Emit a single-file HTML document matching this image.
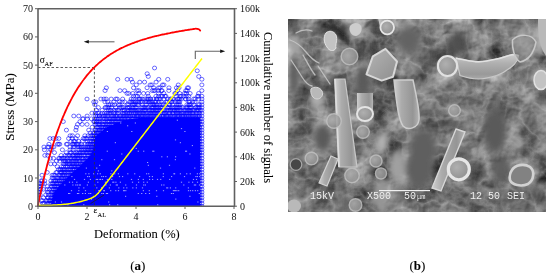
<!DOCTYPE html>
<html><head><meta charset="utf-8"><style>
html,body{margin:0;padding:0;background:#fff;width:550px;height:275px;overflow:hidden}
.chart{position:absolute;left:0;top:0}
.sem{position:absolute;left:288px;top:19px;width:258px;height:193px;overflow:hidden}
</style></head><body>

<svg class="chart" width="550" height="275" viewBox="0 0 550 275">
 
 <defs><clipPath id="pc"><rect x="38" y="0" width="170" height="206.0"/></clipPath></defs>
 <g clip-path="url(#pc)"><polygon points="200.0,206.2 200.0,118.0 199.5,118.0 199.0,118.0 198.5,118.0 198.0,118.0 197.5,118.0 197.0,118.0 196.5,118.0 196.0,118.0 195.5,118.0 195.0,118.0 194.5,118.0 194.0,118.0 193.5,118.0 193.0,118.0 192.5,118.0 192.0,118.0 191.5,118.0 191.0,118.0 190.5,118.0 190.0,118.0 189.5,118.0 189.0,118.0 188.5,118.0 188.0,118.0 187.5,118.0 187.0,118.0 186.5,118.0 186.0,118.0 185.5,118.0 185.0,118.0 184.5,118.0 184.0,118.0 183.5,118.0 183.0,118.0 182.5,118.0 182.0,118.0 181.5,118.0 181.0,118.0 180.5,118.0 180.0,118.0 179.5,118.0 179.0,118.0 178.5,118.0 178.0,118.0 177.5,118.0 177.0,118.0 176.5,118.0 176.0,118.0 175.5,118.0 175.0,118.0 174.5,118.0 174.0,118.0 173.5,118.0 173.0,118.0 172.5,118.0 172.0,118.0 171.5,118.0 171.0,118.0 170.5,118.0 170.0,118.0 169.5,118.0 169.0,118.0 168.5,118.0 168.0,118.0 167.5,118.0 167.0,118.0 166.5,118.0 166.0,118.0 165.5,118.0 165.0,118.0 164.5,118.0 164.0,118.0 163.5,118.0 163.0,118.0 162.5,118.0 162.0,118.0 161.5,118.0 161.0,118.0 160.5,118.0 160.0,118.0 159.5,118.0 159.0,118.0 158.5,118.0 158.0,118.0 157.5,118.0 157.0,118.0 156.5,118.0 156.0,118.0 155.5,118.0 155.0,118.0 154.5,118.0 154.0,118.0 153.5,118.0 153.0,118.0 152.5,118.0 152.0,118.0 151.5,118.0 151.0,118.0 150.5,118.0 150.0,118.0 149.5,118.0 149.0,118.0 148.5,118.0 148.0,118.0 147.5,118.0 147.0,118.0 146.5,118.0 146.0,118.0 145.5,118.0 145.0,118.0 144.5,118.0 144.0,118.0 143.5,118.0 143.0,118.0 142.5,118.0 142.0,118.0 141.5,118.0 141.0,118.0 140.5,118.0 140.0,118.0 139.5,118.1 139.0,118.1 138.5,118.2 138.0,118.3 137.5,118.3 137.0,118.4 136.5,118.5 136.0,118.5 135.5,118.6 135.0,118.7 134.5,118.7 134.0,118.8 133.5,118.9 133.0,118.9 132.5,119.0 132.0,119.1 131.5,119.1 131.0,119.2 130.5,119.3 130.0,119.3 129.5,119.4 129.0,119.5 128.5,119.5 128.0,119.6 127.5,119.7 127.0,119.7 126.5,119.8 126.0,119.9 125.5,119.9 125.0,120.0 124.5,120.2 124.0,120.4 123.5,120.6 123.0,120.8 122.5,121.0 122.0,121.2 121.5,121.4 121.0,121.6 120.5,121.8 120.0,121.9 119.5,122.1 119.0,122.3 118.5,122.5 118.0,122.7 117.5,122.9 117.0,123.1 116.5,123.3 116.0,123.5 115.5,123.7 115.0,123.9 114.5,124.1 114.0,124.3 113.5,124.5 113.0,124.7 112.5,124.9 112.0,125.1 111.5,125.2 111.0,125.4 110.5,125.6 110.0,125.8 109.5,126.0 109.0,126.2 108.5,126.4 108.0,126.6 107.5,126.8 107.0,127.0 106.5,127.4 106.0,127.8 105.5,128.2 105.0,128.7 104.5,129.1 104.0,129.5 103.5,129.9 103.0,130.3 102.5,130.8 102.0,131.2 101.5,131.6 101.0,132.0 100.5,132.4 100.0,132.8 99.5,133.2 99.0,133.7 98.5,134.1 98.0,134.5 97.5,134.9 97.0,135.3 96.5,135.8 96.0,136.2 95.5,136.6 95.0,137.0 94.5,140.7 94.0,144.3 93.5,148.0 93.0,149.1 92.5,150.3 92.0,151.4 91.5,152.6 91.0,153.7 90.5,154.9 90.0,156.0 89.5,156.5 89.0,157.0 88.5,157.5 88.0,158.0 87.5,158.5 87.0,159.0 86.5,159.5 86.0,160.0 85.5,160.5 85.0,161.0 84.5,161.5 84.0,162.0 83.5,162.5 83.0,163.0 82.5,163.5 82.0,164.0 81.5,164.5 81.0,165.0 80.5,165.5 80.0,166.0 79.5,166.4 79.0,166.9 78.5,167.3 78.0,167.8 77.5,168.2 77.0,168.7 76.5,169.2 76.0,169.6 75.5,170.1 75.0,170.5 74.5,170.9 74.0,171.4 73.5,171.8 73.0,172.3 72.5,172.8 72.0,173.2 71.5,173.7 71.0,174.1 70.5,174.6 70.0,175.0 69.5,175.5 69.0,176.0 68.5,176.5 68.0,177.0 67.5,177.5 67.0,178.0 66.5,178.5 66.0,179.0 65.5,179.5 65.0,180.0 64.5,180.5 64.0,181.0 63.5,181.5 63.0,182.0 62.5,182.5 62.0,183.0 61.5,183.5 61.0,184.0 60.5,184.5 60.0,185.0 59.5,185.7 59.0,186.3 58.5,186.9 58.0,187.6 57.5,188.2 57.0,188.9 56.5,189.6 56.0,190.2 55.5,190.8 55.0,191.5 54.5,192.2 54.0,192.8 53.5,193.4 53.0,195.5 52.5,197.9 52.0,200.3 51.5,202.7 51.0,205.2 50.5,206.2 50.0,206.2 49.5,206.2 49.0,206.2 48.5,206.2 48.0,206.2 47.5,206.2 47.0,206.2 46.5,206.2 46.0,206.2 45.5,206.2 45.0,206.2 44.5,206.2 44.0,206.2 43.5,206.2 43.0,206.2 42.5,206.2 42.0,206.2 41.5,206.2 41.0,206.2 40.5,206.2 40.0,206.2 39.5,206.2 39.0,206.2 38.5,206.2 38.0,206.2 38.6,206.2" fill="#0000ff"/>
 <g fill="none" stroke="#0000ff" stroke-width="0.55" transform="scale(1.1,1)"><circle cx="38.4" cy="206.2" r="1.9"/><circle cx="41.0" cy="206.2" r="1.9"/><circle cx="41.9" cy="206.2" r="1.9"/><circle cx="42.9" cy="206.2" r="1.9"/><circle cx="44.1" cy="206.2" r="1.9"/><circle cx="45.4" cy="206.2" r="1.9"/><circle cx="46.7" cy="206.2" r="1.9"/><circle cx="47.9" cy="206.2" r="1.9"/><circle cx="48.5" cy="206.2" r="1.9"/><circle cx="49.5" cy="206.2" r="1.9"/><circle cx="51.0" cy="206.2" r="1.9"/><circle cx="52.4" cy="206.2" r="1.9"/><circle cx="53.3" cy="206.2" r="1.9"/><circle cx="54.2" cy="206.2" r="1.9"/><circle cx="55.3" cy="206.2" r="1.9"/><circle cx="56.5" cy="206.2" r="1.9"/><circle cx="57.5" cy="206.2" r="1.9"/><circle cx="58.7" cy="206.2" r="1.9"/><circle cx="60.4" cy="206.2" r="1.9"/><circle cx="61.5" cy="206.2" r="1.9"/><circle cx="62.5" cy="206.2" r="1.9"/><circle cx="63.5" cy="206.2" r="1.9"/><circle cx="64.9" cy="206.2" r="1.9"/><circle cx="65.8" cy="206.2" r="1.9"/><circle cx="66.8" cy="206.2" r="1.9"/><circle cx="67.8" cy="206.2" r="1.9"/><circle cx="69.1" cy="206.2" r="1.9"/><circle cx="70.4" cy="206.2" r="1.9"/><circle cx="71.6" cy="206.2" r="1.9"/><circle cx="72.3" cy="206.2" r="1.9"/><circle cx="73.5" cy="206.2" r="1.9"/><circle cx="74.6" cy="206.2" r="1.9"/><circle cx="75.8" cy="206.2" r="1.9"/><circle cx="77.0" cy="206.2" r="1.9"/><circle cx="78.4" cy="206.2" r="1.9"/><circle cx="79.7" cy="206.2" r="1.9"/><circle cx="80.8" cy="206.2" r="1.9"/><circle cx="81.4" cy="206.2" r="1.9"/><circle cx="83.1" cy="206.2" r="1.9"/><circle cx="83.7" cy="206.2" r="1.9"/><circle cx="85.2" cy="206.2" r="1.9"/><circle cx="86.1" cy="206.2" r="1.9"/><circle cx="87.2" cy="206.2" r="1.9"/><circle cx="88.8" cy="206.2" r="1.9"/><circle cx="89.7" cy="206.2" r="1.9"/><circle cx="91.0" cy="206.2" r="1.9"/><circle cx="91.8" cy="206.2" r="1.9"/><circle cx="92.8" cy="206.2" r="1.9"/><circle cx="94.3" cy="206.2" r="1.9"/><circle cx="95.3" cy="206.2" r="1.9"/><circle cx="96.3" cy="206.2" r="1.9"/><circle cx="97.7" cy="206.2" r="1.9"/><circle cx="98.7" cy="206.2" r="1.9"/><circle cx="100.2" cy="206.2" r="1.9"/><circle cx="101.3" cy="206.2" r="1.9"/><circle cx="102.3" cy="206.2" r="1.9"/><circle cx="103.0" cy="206.2" r="1.9"/><circle cx="104.6" cy="206.2" r="1.9"/><circle cx="105.6" cy="206.2" r="1.9"/><circle cx="106.7" cy="206.2" r="1.9"/><circle cx="107.6" cy="206.2" r="1.9"/><circle cx="108.9" cy="206.2" r="1.9"/><circle cx="110.0" cy="206.2" r="1.9"/><circle cx="111.3" cy="206.2" r="1.9"/><circle cx="112.2" cy="206.2" r="1.9"/><circle cx="113.5" cy="206.2" r="1.9"/><circle cx="114.6" cy="206.2" r="1.9"/><circle cx="116.1" cy="206.2" r="1.9"/><circle cx="117.0" cy="206.2" r="1.9"/><circle cx="118.3" cy="206.2" r="1.9"/><circle cx="119.5" cy="206.2" r="1.9"/><circle cx="120.3" cy="206.2" r="1.9"/><circle cx="121.8" cy="206.2" r="1.9"/><circle cx="122.8" cy="206.2" r="1.9"/><circle cx="123.9" cy="206.2" r="1.9"/><circle cx="125.2" cy="206.2" r="1.9"/><circle cx="125.9" cy="206.2" r="1.9"/><circle cx="126.8" cy="206.2" r="1.9"/><circle cx="128.6" cy="206.2" r="1.9"/><circle cx="129.1" cy="206.2" r="1.9"/><circle cx="130.5" cy="206.2" r="1.9"/><circle cx="131.8" cy="206.2" r="1.9"/><circle cx="133.2" cy="206.2" r="1.9"/><circle cx="134.0" cy="206.2" r="1.9"/><circle cx="134.9" cy="206.2" r="1.9"/><circle cx="136.2" cy="206.2" r="1.9"/><circle cx="137.6" cy="206.2" r="1.9"/><circle cx="138.2" cy="206.2" r="1.9"/><circle cx="139.9" cy="206.2" r="1.9"/><circle cx="140.8" cy="206.2" r="1.9"/><circle cx="141.6" cy="206.2" r="1.9"/><circle cx="142.7" cy="206.2" r="1.9"/><circle cx="144.0" cy="206.2" r="1.9"/><circle cx="145.4" cy="206.2" r="1.9"/><circle cx="146.5" cy="206.2" r="1.9"/><circle cx="147.7" cy="206.2" r="1.9"/><circle cx="148.6" cy="206.2" r="1.9"/><circle cx="149.9" cy="206.2" r="1.9"/><circle cx="151.1" cy="206.2" r="1.9"/><circle cx="151.9" cy="206.2" r="1.9"/><circle cx="152.9" cy="206.2" r="1.9"/><circle cx="154.7" cy="206.2" r="1.9"/><circle cx="155.2" cy="206.2" r="1.9"/><circle cx="156.5" cy="206.2" r="1.9"/><circle cx="157.9" cy="206.2" r="1.9"/><circle cx="158.8" cy="206.2" r="1.9"/><circle cx="160.3" cy="206.2" r="1.9"/><circle cx="161.4" cy="206.2" r="1.9"/><circle cx="162.1" cy="206.2" r="1.9"/><circle cx="163.6" cy="206.2" r="1.9"/><circle cx="164.3" cy="206.2" r="1.9"/><circle cx="165.9" cy="206.2" r="1.9"/><circle cx="167.1" cy="206.2" r="1.9"/><circle cx="168.2" cy="206.2" r="1.9"/><circle cx="169.5" cy="206.2" r="1.9"/><circle cx="170.0" cy="206.2" r="1.9"/><circle cx="171.2" cy="206.2" r="1.9"/><circle cx="172.9" cy="206.2" r="1.9"/><circle cx="173.5" cy="206.2" r="1.9"/><circle cx="175.0" cy="206.2" r="1.9"/><circle cx="175.9" cy="206.2" r="1.9"/><circle cx="177.3" cy="206.2" r="1.9"/><circle cx="178.2" cy="206.2" r="1.9"/><circle cx="179.4" cy="206.2" r="1.9"/><circle cx="180.4" cy="206.2" r="1.9"/><circle cx="181.7" cy="206.2" r="1.9"/><circle cx="183.5" cy="206.2" r="1.9"/><circle cx="38.7" cy="203.4" r="1.9"/><circle cx="39.4" cy="203.4" r="1.9"/><circle cx="40.5" cy="203.4" r="1.9"/><circle cx="42.9" cy="203.4" r="1.9"/><circle cx="44.3" cy="203.4" r="1.9"/><circle cx="45.3" cy="203.4" r="1.9"/><circle cx="46.4" cy="203.4" r="1.9"/><circle cx="47.3" cy="203.4" r="1.9"/><circle cx="48.9" cy="203.4" r="1.9"/><circle cx="50.0" cy="203.4" r="1.9"/><circle cx="50.7" cy="203.4" r="1.9"/><circle cx="52.3" cy="203.4" r="1.9"/><circle cx="53.1" cy="203.4" r="1.9"/><circle cx="54.6" cy="203.4" r="1.9"/><circle cx="55.3" cy="203.4" r="1.9"/><circle cx="56.9" cy="203.4" r="1.9"/><circle cx="58.0" cy="203.4" r="1.9"/><circle cx="59.3" cy="203.4" r="1.9"/><circle cx="60.3" cy="203.4" r="1.9"/><circle cx="61.3" cy="203.4" r="1.9"/><circle cx="62.6" cy="203.4" r="1.9"/><circle cx="63.7" cy="203.4" r="1.9"/><circle cx="64.5" cy="203.4" r="1.9"/><circle cx="65.4" cy="203.4" r="1.9"/><circle cx="66.9" cy="203.4" r="1.9"/><circle cx="68.1" cy="203.4" r="1.9"/><circle cx="69.1" cy="203.4" r="1.9"/><circle cx="70.6" cy="203.4" r="1.9"/><circle cx="71.2" cy="203.4" r="1.9"/><circle cx="72.9" cy="203.4" r="1.9"/><circle cx="73.9" cy="203.4" r="1.9"/><circle cx="75.2" cy="203.4" r="1.9"/><circle cx="75.7" cy="203.4" r="1.9"/><circle cx="76.9" cy="203.4" r="1.9"/><circle cx="78.3" cy="203.4" r="1.9"/><circle cx="79.6" cy="203.4" r="1.9"/><circle cx="80.8" cy="203.4" r="1.9"/><circle cx="81.9" cy="203.4" r="1.9"/><circle cx="82.8" cy="203.4" r="1.9"/><circle cx="83.8" cy="203.4" r="1.9"/><circle cx="85.3" cy="203.4" r="1.9"/><circle cx="85.9" cy="203.4" r="1.9"/><circle cx="87.6" cy="203.4" r="1.9"/><circle cx="88.3" cy="203.4" r="1.9"/><circle cx="89.4" cy="203.4" r="1.9"/><circle cx="90.4" cy="203.4" r="1.9"/><circle cx="91.6" cy="203.4" r="1.9"/><circle cx="93.3" cy="203.4" r="1.9"/><circle cx="94.0" cy="203.4" r="1.9"/><circle cx="95.1" cy="203.4" r="1.9"/><circle cx="96.3" cy="203.4" r="1.9"/><circle cx="97.7" cy="203.4" r="1.9"/><circle cx="98.7" cy="203.4" r="1.9"/><circle cx="100.1" cy="203.4" r="1.9"/><circle cx="100.7" cy="203.4" r="1.9"/><circle cx="102.5" cy="203.4" r="1.9"/><circle cx="103.1" cy="203.4" r="1.9"/><circle cx="104.2" cy="203.4" r="1.9"/><circle cx="105.5" cy="203.4" r="1.9"/><circle cx="106.3" cy="203.4" r="1.9"/><circle cx="107.9" cy="203.4" r="1.9"/><circle cx="108.8" cy="203.4" r="1.9"/><circle cx="110.4" cy="203.4" r="1.9"/><circle cx="111.5" cy="203.4" r="1.9"/><circle cx="112.5" cy="203.4" r="1.9"/><circle cx="113.6" cy="203.4" r="1.9"/><circle cx="114.5" cy="203.4" r="1.9"/><circle cx="116.0" cy="203.4" r="1.9"/><circle cx="117.2" cy="203.4" r="1.9"/><circle cx="117.9" cy="203.4" r="1.9"/><circle cx="118.9" cy="203.4" r="1.9"/><circle cx="120.0" cy="203.4" r="1.9"/><circle cx="121.5" cy="203.4" r="1.9"/><circle cx="122.4" cy="203.4" r="1.9"/><circle cx="123.9" cy="203.4" r="1.9"/><circle cx="125.2" cy="203.4" r="1.9"/><circle cx="125.9" cy="203.4" r="1.9"/><circle cx="127.4" cy="203.4" r="1.9"/><circle cx="128.4" cy="203.4" r="1.9"/><circle cx="129.4" cy="203.4" r="1.9"/><circle cx="130.2" cy="203.4" r="1.9"/><circle cx="131.3" cy="203.4" r="1.9"/><circle cx="132.8" cy="203.4" r="1.9"/><circle cx="134.1" cy="203.4" r="1.9"/><circle cx="135.3" cy="203.4" r="1.9"/><circle cx="136.3" cy="203.4" r="1.9"/><circle cx="137.7" cy="203.4" r="1.9"/><circle cx="138.5" cy="203.4" r="1.9"/><circle cx="139.7" cy="203.4" r="1.9"/><circle cx="140.8" cy="203.4" r="1.9"/><circle cx="141.7" cy="203.4" r="1.9"/><circle cx="142.8" cy="203.4" r="1.9"/><circle cx="144.4" cy="203.4" r="1.9"/><circle cx="145.4" cy="203.4" r="1.9"/><circle cx="146.4" cy="203.4" r="1.9"/><circle cx="147.8" cy="203.4" r="1.9"/><circle cx="148.8" cy="203.4" r="1.9"/><circle cx="149.9" cy="203.4" r="1.9"/><circle cx="151.2" cy="203.4" r="1.9"/><circle cx="152.1" cy="203.4" r="1.9"/><circle cx="153.3" cy="203.4" r="1.9"/><circle cx="154.6" cy="203.4" r="1.9"/><circle cx="155.8" cy="203.4" r="1.9"/><circle cx="156.6" cy="203.4" r="1.9"/><circle cx="157.5" cy="203.4" r="1.9"/><circle cx="159.2" cy="203.4" r="1.9"/><circle cx="160.1" cy="203.4" r="1.9"/><circle cx="161.4" cy="203.4" r="1.9"/><circle cx="162.3" cy="203.4" r="1.9"/><circle cx="163.3" cy="203.4" r="1.9"/><circle cx="164.6" cy="203.4" r="1.9"/><circle cx="165.7" cy="203.4" r="1.9"/><circle cx="166.8" cy="203.4" r="1.9"/><circle cx="168.4" cy="203.4" r="1.9"/><circle cx="169.1" cy="203.4" r="1.9"/><circle cx="170.6" cy="203.4" r="1.9"/><circle cx="171.6" cy="203.4" r="1.9"/><circle cx="172.9" cy="203.4" r="1.9"/><circle cx="173.7" cy="203.4" r="1.9"/><circle cx="174.8" cy="203.4" r="1.9"/><circle cx="176.2" cy="203.4" r="1.9"/><circle cx="177.3" cy="203.4" r="1.9"/><circle cx="178.2" cy="203.4" r="1.9"/><circle cx="179.2" cy="203.4" r="1.9"/><circle cx="180.7" cy="203.4" r="1.9"/><circle cx="181.4" cy="203.4" r="1.9"/><circle cx="183.5" cy="203.4" r="1.9"/><circle cx="37.5" cy="200.6" r="1.9"/><circle cx="38.6" cy="200.6" r="1.9"/><circle cx="41.9" cy="200.6" r="1.9"/><circle cx="43.1" cy="200.6" r="1.9"/><circle cx="44.5" cy="200.6" r="1.9"/><circle cx="45.2" cy="200.6" r="1.9"/><circle cx="46.1" cy="200.6" r="1.9"/><circle cx="47.8" cy="200.6" r="1.9"/><circle cx="48.5" cy="200.6" r="1.9"/><circle cx="49.7" cy="200.6" r="1.9"/><circle cx="51.0" cy="200.6" r="1.9"/><circle cx="52.3" cy="200.6" r="1.9"/><circle cx="53.5" cy="200.6" r="1.9"/><circle cx="54.3" cy="200.6" r="1.9"/><circle cx="55.5" cy="200.6" r="1.9"/><circle cx="56.4" cy="200.6" r="1.9"/><circle cx="57.9" cy="200.6" r="1.9"/><circle cx="58.7" cy="200.6" r="1.9"/><circle cx="59.9" cy="200.6" r="1.9"/><circle cx="60.9" cy="200.6" r="1.9"/><circle cx="62.1" cy="200.6" r="1.9"/><circle cx="63.1" cy="200.6" r="1.9"/><circle cx="64.4" cy="200.6" r="1.9"/><circle cx="66.0" cy="200.6" r="1.9"/><circle cx="67.0" cy="200.6" r="1.9"/><circle cx="68.0" cy="200.6" r="1.9"/><circle cx="68.9" cy="200.6" r="1.9"/><circle cx="70.6" cy="200.6" r="1.9"/><circle cx="71.1" cy="200.6" r="1.9"/><circle cx="72.7" cy="200.6" r="1.9"/><circle cx="73.5" cy="200.6" r="1.9"/><circle cx="75.1" cy="200.6" r="1.9"/><circle cx="75.9" cy="200.6" r="1.9"/><circle cx="77.4" cy="200.6" r="1.9"/><circle cx="78.6" cy="200.6" r="1.9"/><circle cx="79.5" cy="200.6" r="1.9"/><circle cx="80.6" cy="200.6" r="1.9"/><circle cx="81.8" cy="200.6" r="1.9"/><circle cx="82.8" cy="200.6" r="1.9"/><circle cx="84.1" cy="200.6" r="1.9"/><circle cx="85.0" cy="200.6" r="1.9"/><circle cx="86.4" cy="200.6" r="1.9"/><circle cx="87.1" cy="200.6" r="1.9"/><circle cx="88.3" cy="200.6" r="1.9"/><circle cx="89.6" cy="200.6" r="1.9"/><circle cx="90.6" cy="200.6" r="1.9"/><circle cx="92.0" cy="200.6" r="1.9"/><circle cx="93.0" cy="200.6" r="1.9"/><circle cx="94.4" cy="200.6" r="1.9"/><circle cx="95.1" cy="200.6" r="1.9"/><circle cx="96.6" cy="200.6" r="1.9"/><circle cx="97.4" cy="200.6" r="1.9"/><circle cx="98.6" cy="200.6" r="1.9"/><circle cx="99.6" cy="200.6" r="1.9"/><circle cx="100.7" cy="200.6" r="1.9"/><circle cx="101.8" cy="200.6" r="1.9"/><circle cx="103.5" cy="200.6" r="1.9"/><circle cx="104.2" cy="200.6" r="1.9"/><circle cx="105.6" cy="200.6" r="1.9"/><circle cx="106.8" cy="200.6" r="1.9"/><circle cx="108.1" cy="200.6" r="1.9"/><circle cx="109.1" cy="200.6" r="1.9"/><circle cx="110.3" cy="200.6" r="1.9"/><circle cx="111.4" cy="200.6" r="1.9"/><circle cx="112.3" cy="200.6" r="1.9"/><circle cx="113.8" cy="200.6" r="1.9"/><circle cx="114.4" cy="200.6" r="1.9"/><circle cx="115.6" cy="200.6" r="1.9"/><circle cx="117.2" cy="200.6" r="1.9"/><circle cx="117.9" cy="200.6" r="1.9"/><circle cx="118.9" cy="200.6" r="1.9"/><circle cx="120.2" cy="200.6" r="1.9"/><circle cx="121.1" cy="200.6" r="1.9"/><circle cx="122.4" cy="200.6" r="1.9"/><circle cx="124.0" cy="200.6" r="1.9"/><circle cx="124.9" cy="200.6" r="1.9"/><circle cx="125.7" cy="200.6" r="1.9"/><circle cx="127.4" cy="200.6" r="1.9"/><circle cx="128.5" cy="200.6" r="1.9"/><circle cx="129.5" cy="200.6" r="1.9"/><circle cx="130.8" cy="200.6" r="1.9"/><circle cx="131.7" cy="200.6" r="1.9"/><circle cx="133.0" cy="200.6" r="1.9"/><circle cx="133.8" cy="200.6" r="1.9"/><circle cx="135.1" cy="200.6" r="1.9"/><circle cx="136.6" cy="200.6" r="1.9"/><circle cx="137.0" cy="200.6" r="1.9"/><circle cx="138.2" cy="200.6" r="1.9"/><circle cx="139.7" cy="200.6" r="1.9"/><circle cx="140.8" cy="200.6" r="1.9"/><circle cx="141.8" cy="200.6" r="1.9"/><circle cx="143.2" cy="200.6" r="1.9"/><circle cx="144.4" cy="200.6" r="1.9"/><circle cx="145.1" cy="200.6" r="1.9"/><circle cx="146.4" cy="200.6" r="1.9"/><circle cx="147.7" cy="200.6" r="1.9"/><circle cx="148.5" cy="200.6" r="1.9"/><circle cx="150.0" cy="200.6" r="1.9"/><circle cx="150.8" cy="200.6" r="1.9"/><circle cx="152.2" cy="200.6" r="1.9"/><circle cx="153.3" cy="200.6" r="1.9"/><circle cx="154.6" cy="200.6" r="1.9"/><circle cx="155.3" cy="200.6" r="1.9"/><circle cx="156.4" cy="200.6" r="1.9"/><circle cx="158.1" cy="200.6" r="1.9"/><circle cx="158.8" cy="200.6" r="1.9"/><circle cx="160.1" cy="200.6" r="1.9"/><circle cx="160.9" cy="200.6" r="1.9"/><circle cx="162.4" cy="200.6" r="1.9"/><circle cx="163.7" cy="200.6" r="1.9"/><circle cx="164.4" cy="200.6" r="1.9"/><circle cx="166.1" cy="200.6" r="1.9"/><circle cx="166.6" cy="200.6" r="1.9"/><circle cx="167.9" cy="200.6" r="1.9"/><circle cx="168.8" cy="200.6" r="1.9"/><circle cx="170.1" cy="200.6" r="1.9"/><circle cx="171.6" cy="200.6" r="1.9"/><circle cx="172.3" cy="200.6" r="1.9"/><circle cx="173.6" cy="200.6" r="1.9"/><circle cx="174.7" cy="200.6" r="1.9"/><circle cx="176.0" cy="200.6" r="1.9"/><circle cx="177.2" cy="200.6" r="1.9"/><circle cx="177.9" cy="200.6" r="1.9"/><circle cx="179.6" cy="200.6" r="1.9"/><circle cx="180.5" cy="200.6" r="1.9"/><circle cx="181.6" cy="200.6" r="1.9"/><circle cx="183.5" cy="200.6" r="1.9"/><circle cx="39.6" cy="197.7" r="1.9"/><circle cx="43.2" cy="197.7" r="1.9"/><circle cx="43.9" cy="197.7" r="1.9"/><circle cx="46.2" cy="197.7" r="1.9"/><circle cx="47.3" cy="197.7" r="1.9"/><circle cx="48.6" cy="197.7" r="1.9"/><circle cx="49.5" cy="197.7" r="1.9"/><circle cx="51.1" cy="197.7" r="1.9"/><circle cx="52.2" cy="197.7" r="1.9"/><circle cx="53.3" cy="197.7" r="1.9"/><circle cx="54.5" cy="197.7" r="1.9"/><circle cx="55.3" cy="197.7" r="1.9"/><circle cx="56.6" cy="197.7" r="1.9"/><circle cx="58.1" cy="197.7" r="1.9"/><circle cx="58.8" cy="197.7" r="1.9"/><circle cx="60.4" cy="197.7" r="1.9"/><circle cx="61.1" cy="197.7" r="1.9"/><circle cx="62.3" cy="197.7" r="1.9"/><circle cx="63.7" cy="197.7" r="1.9"/><circle cx="64.6" cy="197.7" r="1.9"/><circle cx="65.7" cy="197.7" r="1.9"/><circle cx="66.6" cy="197.7" r="1.9"/><circle cx="68.1" cy="197.7" r="1.9"/><circle cx="69.4" cy="197.7" r="1.9"/><circle cx="70.1" cy="197.7" r="1.9"/><circle cx="71.3" cy="197.7" r="1.9"/><circle cx="72.5" cy="197.7" r="1.9"/><circle cx="73.8" cy="197.7" r="1.9"/><circle cx="74.6" cy="197.7" r="1.9"/><circle cx="76.2" cy="197.7" r="1.9"/><circle cx="77.2" cy="197.7" r="1.9"/><circle cx="78.2" cy="197.7" r="1.9"/><circle cx="79.2" cy="197.7" r="1.9"/><circle cx="80.6" cy="197.7" r="1.9"/><circle cx="81.4" cy="197.7" r="1.9"/><circle cx="82.5" cy="197.7" r="1.9"/><circle cx="83.7" cy="197.7" r="1.9"/><circle cx="84.9" cy="197.7" r="1.9"/><circle cx="86.1" cy="197.7" r="1.9"/><circle cx="87.7" cy="197.7" r="1.9"/><circle cx="88.2" cy="197.7" r="1.9"/><circle cx="89.7" cy="197.7" r="1.9"/><circle cx="90.7" cy="197.7" r="1.9"/><circle cx="91.5" cy="197.7" r="1.9"/><circle cx="93.1" cy="197.7" r="1.9"/><circle cx="94.0" cy="197.7" r="1.9"/><circle cx="95.0" cy="197.7" r="1.9"/><circle cx="96.8" cy="197.7" r="1.9"/><circle cx="97.4" cy="197.7" r="1.9"/><circle cx="98.4" cy="197.7" r="1.9"/><circle cx="100.2" cy="197.7" r="1.9"/><circle cx="101.1" cy="197.7" r="1.9"/><circle cx="102.0" cy="197.7" r="1.9"/><circle cx="103.1" cy="197.7" r="1.9"/><circle cx="104.1" cy="197.7" r="1.9"/><circle cx="105.3" cy="197.7" r="1.9"/><circle cx="107.0" cy="197.7" r="1.9"/><circle cx="107.7" cy="197.7" r="1.9"/><circle cx="109.2" cy="197.7" r="1.9"/><circle cx="110.1" cy="197.7" r="1.9"/><circle cx="110.9" cy="197.7" r="1.9"/><circle cx="112.4" cy="197.7" r="1.9"/><circle cx="113.7" cy="197.7" r="1.9"/><circle cx="114.7" cy="197.7" r="1.9"/><circle cx="116.1" cy="197.7" r="1.9"/><circle cx="116.6" cy="197.7" r="1.9"/><circle cx="118.3" cy="197.7" r="1.9"/><circle cx="119.1" cy="197.7" r="1.9"/><circle cx="120.0" cy="197.7" r="1.9"/><circle cx="121.8" cy="197.7" r="1.9"/><circle cx="122.9" cy="197.7" r="1.9"/><circle cx="123.6" cy="197.7" r="1.9"/><circle cx="124.5" cy="197.7" r="1.9"/><circle cx="125.8" cy="197.7" r="1.9"/><circle cx="127.1" cy="197.7" r="1.9"/><circle cx="128.6" cy="197.7" r="1.9"/><circle cx="129.2" cy="197.7" r="1.9"/><circle cx="130.5" cy="197.7" r="1.9"/><circle cx="131.4" cy="197.7" r="1.9"/><circle cx="132.9" cy="197.7" r="1.9"/><circle cx="134.0" cy="197.7" r="1.9"/><circle cx="135.0" cy="197.7" r="1.9"/><circle cx="136.6" cy="197.7" r="1.9"/><circle cx="137.1" cy="197.7" r="1.9"/><circle cx="138.7" cy="197.7" r="1.9"/><circle cx="139.8" cy="197.7" r="1.9"/><circle cx="140.6" cy="197.7" r="1.9"/><circle cx="141.6" cy="197.7" r="1.9"/><circle cx="142.8" cy="197.7" r="1.9"/><circle cx="144.5" cy="197.7" r="1.9"/><circle cx="145.0" cy="197.7" r="1.9"/><circle cx="146.6" cy="197.7" r="1.9"/><circle cx="147.4" cy="197.7" r="1.9"/><circle cx="148.8" cy="197.7" r="1.9"/><circle cx="149.9" cy="197.7" r="1.9"/><circle cx="151.1" cy="197.7" r="1.9"/><circle cx="152.4" cy="197.7" r="1.9"/><circle cx="153.3" cy="197.7" r="1.9"/><circle cx="154.7" cy="197.7" r="1.9"/><circle cx="155.8" cy="197.7" r="1.9"/><circle cx="156.8" cy="197.7" r="1.9"/><circle cx="157.9" cy="197.7" r="1.9"/><circle cx="158.6" cy="197.7" r="1.9"/><circle cx="160.1" cy="197.7" r="1.9"/><circle cx="161.1" cy="197.7" r="1.9"/><circle cx="162.2" cy="197.7" r="1.9"/><circle cx="163.2" cy="197.7" r="1.9"/><circle cx="165.0" cy="197.7" r="1.9"/><circle cx="166.1" cy="197.7" r="1.9"/><circle cx="166.7" cy="197.7" r="1.9"/><circle cx="167.8" cy="197.7" r="1.9"/><circle cx="169.5" cy="197.7" r="1.9"/><circle cx="170.3" cy="197.7" r="1.9"/><circle cx="171.5" cy="197.7" r="1.9"/><circle cx="172.3" cy="197.7" r="1.9"/><circle cx="173.9" cy="197.7" r="1.9"/><circle cx="174.6" cy="197.7" r="1.9"/><circle cx="175.8" cy="197.7" r="1.9"/><circle cx="176.9" cy="197.7" r="1.9"/><circle cx="178.2" cy="197.7" r="1.9"/><circle cx="179.2" cy="197.7" r="1.9"/><circle cx="180.4" cy="197.7" r="1.9"/><circle cx="181.7" cy="197.7" r="1.9"/><circle cx="183.5" cy="197.7" r="1.9"/><circle cx="35.2" cy="194.9" r="1.9"/><circle cx="36.5" cy="194.9" r="1.9"/><circle cx="41.6" cy="194.9" r="1.9"/><circle cx="44.0" cy="194.9" r="1.9"/><circle cx="46.2" cy="194.9" r="1.9"/><circle cx="47.3" cy="194.9" r="1.9"/><circle cx="48.8" cy="194.9" r="1.9"/><circle cx="49.6" cy="194.9" r="1.9"/><circle cx="51.2" cy="194.9" r="1.9"/><circle cx="51.9" cy="194.9" r="1.9"/><circle cx="53.4" cy="194.9" r="1.9"/><circle cx="54.7" cy="194.9" r="1.9"/><circle cx="55.6" cy="194.9" r="1.9"/><circle cx="56.7" cy="194.9" r="1.9"/><circle cx="58.0" cy="194.9" r="1.9"/><circle cx="59.3" cy="194.9" r="1.9"/><circle cx="60.0" cy="194.9" r="1.9"/><circle cx="61.4" cy="194.9" r="1.9"/><circle cx="62.5" cy="194.9" r="1.9"/><circle cx="63.5" cy="194.9" r="1.9"/><circle cx="64.6" cy="194.9" r="1.9"/><circle cx="65.6" cy="194.9" r="1.9"/><circle cx="66.8" cy="194.9" r="1.9"/><circle cx="68.0" cy="194.9" r="1.9"/><circle cx="69.5" cy="194.9" r="1.9"/><circle cx="70.7" cy="194.9" r="1.9"/><circle cx="71.1" cy="194.9" r="1.9"/><circle cx="72.3" cy="194.9" r="1.9"/><circle cx="73.5" cy="194.9" r="1.9"/><circle cx="74.7" cy="194.9" r="1.9"/><circle cx="76.2" cy="194.9" r="1.9"/><circle cx="77.0" cy="194.9" r="1.9"/><circle cx="77.9" cy="194.9" r="1.9"/><circle cx="79.7" cy="194.9" r="1.9"/><circle cx="80.8" cy="194.9" r="1.9"/><circle cx="81.5" cy="194.9" r="1.9"/><circle cx="82.7" cy="194.9" r="1.9"/><circle cx="83.7" cy="194.9" r="1.9"/><circle cx="85.3" cy="194.9" r="1.9"/><circle cx="86.0" cy="194.9" r="1.9"/><circle cx="87.2" cy="194.9" r="1.9"/><circle cx="88.7" cy="194.9" r="1.9"/><circle cx="89.3" cy="194.9" r="1.9"/><circle cx="91.1" cy="194.9" r="1.9"/><circle cx="92.1" cy="194.9" r="1.9"/><circle cx="93.3" cy="194.9" r="1.9"/><circle cx="94.5" cy="194.9" r="1.9"/><circle cx="95.6" cy="194.9" r="1.9"/><circle cx="96.6" cy="194.9" r="1.9"/><circle cx="97.4" cy="194.9" r="1.9"/><circle cx="98.8" cy="194.9" r="1.9"/><circle cx="100.2" cy="194.9" r="1.9"/><circle cx="100.8" cy="194.9" r="1.9"/><circle cx="102.4" cy="194.9" r="1.9"/><circle cx="103.3" cy="194.9" r="1.9"/><circle cx="104.5" cy="194.9" r="1.9"/><circle cx="105.2" cy="194.9" r="1.9"/><circle cx="107.0" cy="194.9" r="1.9"/><circle cx="107.5" cy="194.9" r="1.9"/><circle cx="108.9" cy="194.9" r="1.9"/><circle cx="110.2" cy="194.9" r="1.9"/><circle cx="111.1" cy="194.9" r="1.9"/><circle cx="112.4" cy="194.9" r="1.9"/><circle cx="113.6" cy="194.9" r="1.9"/><circle cx="114.9" cy="194.9" r="1.9"/><circle cx="116.1" cy="194.9" r="1.9"/><circle cx="116.6" cy="194.9" r="1.9"/><circle cx="117.9" cy="194.9" r="1.9"/><circle cx="119.3" cy="194.9" r="1.9"/><circle cx="120.0" cy="194.9" r="1.9"/><circle cx="121.1" cy="194.9" r="1.9"/><circle cx="122.9" cy="194.9" r="1.9"/><circle cx="123.5" cy="194.9" r="1.9"/><circle cx="124.8" cy="194.9" r="1.9"/><circle cx="126.0" cy="194.9" r="1.9"/><circle cx="127.1" cy="194.9" r="1.9"/><circle cx="128.6" cy="194.9" r="1.9"/><circle cx="129.2" cy="194.9" r="1.9"/><circle cx="130.5" cy="194.9" r="1.9"/><circle cx="131.4" cy="194.9" r="1.9"/><circle cx="133.1" cy="194.9" r="1.9"/><circle cx="133.8" cy="194.9" r="1.9"/><circle cx="135.0" cy="194.9" r="1.9"/><circle cx="135.9" cy="194.9" r="1.9"/><circle cx="137.1" cy="194.9" r="1.9"/><circle cx="138.3" cy="194.9" r="1.9"/><circle cx="139.9" cy="194.9" r="1.9"/><circle cx="140.6" cy="194.9" r="1.9"/><circle cx="141.8" cy="194.9" r="1.9"/><circle cx="143.2" cy="194.9" r="1.9"/><circle cx="144.3" cy="194.9" r="1.9"/><circle cx="145.7" cy="194.9" r="1.9"/><circle cx="146.7" cy="194.9" r="1.9"/><circle cx="147.5" cy="194.9" r="1.9"/><circle cx="148.9" cy="194.9" r="1.9"/><circle cx="149.8" cy="194.9" r="1.9"/><circle cx="151.0" cy="194.9" r="1.9"/><circle cx="152.5" cy="194.9" r="1.9"/><circle cx="153.6" cy="194.9" r="1.9"/><circle cx="154.3" cy="194.9" r="1.9"/><circle cx="155.3" cy="194.9" r="1.9"/><circle cx="156.5" cy="194.9" r="1.9"/><circle cx="158.1" cy="194.9" r="1.9"/><circle cx="159.1" cy="194.9" r="1.9"/><circle cx="159.8" cy="194.9" r="1.9"/><circle cx="161.2" cy="194.9" r="1.9"/><circle cx="162.4" cy="194.9" r="1.9"/><circle cx="163.6" cy="194.9" r="1.9"/><circle cx="164.3" cy="194.9" r="1.9"/><circle cx="166.1" cy="194.9" r="1.9"/><circle cx="166.9" cy="194.9" r="1.9"/><circle cx="168.4" cy="194.9" r="1.9"/><circle cx="169.1" cy="194.9" r="1.9"/><circle cx="170.5" cy="194.9" r="1.9"/><circle cx="171.6" cy="194.9" r="1.9"/><circle cx="172.3" cy="194.9" r="1.9"/><circle cx="174.1" cy="194.9" r="1.9"/><circle cx="175.1" cy="194.9" r="1.9"/><circle cx="176.0" cy="194.9" r="1.9"/><circle cx="177.2" cy="194.9" r="1.9"/><circle cx="178.4" cy="194.9" r="1.9"/><circle cx="179.6" cy="194.9" r="1.9"/><circle cx="180.5" cy="194.9" r="1.9"/><circle cx="181.7" cy="194.9" r="1.9"/><circle cx="183.5" cy="194.9" r="1.9"/><circle cx="34.8" cy="192.1" r="1.9"/><circle cx="36.1" cy="192.1" r="1.9"/><circle cx="43.1" cy="192.1" r="1.9"/><circle cx="44.3" cy="192.1" r="1.9"/><circle cx="46.8" cy="192.1" r="1.9"/><circle cx="47.8" cy="192.1" r="1.9"/><circle cx="49.0" cy="192.1" r="1.9"/><circle cx="50.0" cy="192.1" r="1.9"/><circle cx="51.0" cy="192.1" r="1.9"/><circle cx="51.9" cy="192.1" r="1.9"/><circle cx="53.5" cy="192.1" r="1.9"/><circle cx="54.5" cy="192.1" r="1.9"/><circle cx="55.7" cy="192.1" r="1.9"/><circle cx="56.8" cy="192.1" r="1.9"/><circle cx="57.9" cy="192.1" r="1.9"/><circle cx="58.8" cy="192.1" r="1.9"/><circle cx="60.1" cy="192.1" r="1.9"/><circle cx="61.1" cy="192.1" r="1.9"/><circle cx="62.4" cy="192.1" r="1.9"/><circle cx="63.8" cy="192.1" r="1.9"/><circle cx="64.3" cy="192.1" r="1.9"/><circle cx="65.6" cy="192.1" r="1.9"/><circle cx="66.8" cy="192.1" r="1.9"/><circle cx="68.0" cy="192.1" r="1.9"/><circle cx="69.3" cy="192.1" r="1.9"/><circle cx="70.4" cy="192.1" r="1.9"/><circle cx="71.6" cy="192.1" r="1.9"/><circle cx="72.7" cy="192.1" r="1.9"/><circle cx="73.8" cy="192.1" r="1.9"/><circle cx="74.9" cy="192.1" r="1.9"/><circle cx="75.9" cy="192.1" r="1.9"/><circle cx="77.3" cy="192.1" r="1.9"/><circle cx="78.2" cy="192.1" r="1.9"/><circle cx="79.5" cy="192.1" r="1.9"/><circle cx="80.8" cy="192.1" r="1.9"/><circle cx="81.6" cy="192.1" r="1.9"/><circle cx="82.5" cy="192.1" r="1.9"/><circle cx="83.8" cy="192.1" r="1.9"/><circle cx="85.4" cy="192.1" r="1.9"/><circle cx="86.4" cy="192.1" r="1.9"/><circle cx="87.4" cy="192.1" r="1.9"/><circle cx="88.3" cy="192.1" r="1.9"/><circle cx="89.8" cy="192.1" r="1.9"/><circle cx="90.6" cy="192.1" r="1.9"/><circle cx="92.3" cy="192.1" r="1.9"/><circle cx="93.3" cy="192.1" r="1.9"/><circle cx="94.4" cy="192.1" r="1.9"/><circle cx="95.1" cy="192.1" r="1.9"/><circle cx="96.5" cy="192.1" r="1.9"/><circle cx="97.4" cy="192.1" r="1.9"/><circle cx="98.4" cy="192.1" r="1.9"/><circle cx="99.8" cy="192.1" r="1.9"/><circle cx="100.8" cy="192.1" r="1.9"/><circle cx="102.3" cy="192.1" r="1.9"/><circle cx="103.0" cy="192.1" r="1.9"/><circle cx="104.6" cy="192.1" r="1.9"/><circle cx="105.2" cy="192.1" r="1.9"/><circle cx="106.5" cy="192.1" r="1.9"/><circle cx="108.0" cy="192.1" r="1.9"/><circle cx="109.2" cy="192.1" r="1.9"/><circle cx="109.9" cy="192.1" r="1.9"/><circle cx="111.4" cy="192.1" r="1.9"/><circle cx="112.5" cy="192.1" r="1.9"/><circle cx="113.4" cy="192.1" r="1.9"/><circle cx="114.6" cy="192.1" r="1.9"/><circle cx="115.6" cy="192.1" r="1.9"/><circle cx="116.9" cy="192.1" r="1.9"/><circle cx="118.0" cy="192.1" r="1.9"/><circle cx="119.3" cy="192.1" r="1.9"/><circle cx="120.7" cy="192.1" r="1.9"/><circle cx="121.5" cy="192.1" r="1.9"/><circle cx="122.5" cy="192.1" r="1.9"/><circle cx="123.4" cy="192.1" r="1.9"/><circle cx="125.1" cy="192.1" r="1.9"/><circle cx="126.2" cy="192.1" r="1.9"/><circle cx="127.0" cy="192.1" r="1.9"/><circle cx="128.1" cy="192.1" r="1.9"/><circle cx="129.3" cy="192.1" r="1.9"/><circle cx="130.4" cy="192.1" r="1.9"/><circle cx="132.0" cy="192.1" r="1.9"/><circle cx="133.2" cy="192.1" r="1.9"/><circle cx="134.1" cy="192.1" r="1.9"/><circle cx="134.9" cy="192.1" r="1.9"/><circle cx="135.9" cy="192.1" r="1.9"/><circle cx="137.3" cy="192.1" r="1.9"/><circle cx="138.5" cy="192.1" r="1.9"/><circle cx="139.8" cy="192.1" r="1.9"/><circle cx="140.8" cy="192.1" r="1.9"/><circle cx="141.6" cy="192.1" r="1.9"/><circle cx="142.9" cy="192.1" r="1.9"/><circle cx="143.9" cy="192.1" r="1.9"/><circle cx="145.3" cy="192.1" r="1.9"/><circle cx="146.6" cy="192.1" r="1.9"/><circle cx="147.8" cy="192.1" r="1.9"/><circle cx="148.8" cy="192.1" r="1.9"/><circle cx="150.0" cy="192.1" r="1.9"/><circle cx="151.2" cy="192.1" r="1.9"/><circle cx="152.1" cy="192.1" r="1.9"/><circle cx="153.0" cy="192.1" r="1.9"/><circle cx="154.2" cy="192.1" r="1.9"/><circle cx="155.7" cy="192.1" r="1.9"/><circle cx="156.8" cy="192.1" r="1.9"/><circle cx="157.7" cy="192.1" r="1.9"/><circle cx="158.8" cy="192.1" r="1.9"/><circle cx="160.3" cy="192.1" r="1.9"/><circle cx="161.1" cy="192.1" r="1.9"/><circle cx="162.5" cy="192.1" r="1.9"/><circle cx="163.7" cy="192.1" r="1.9"/><circle cx="164.4" cy="192.1" r="1.9"/><circle cx="165.6" cy="192.1" r="1.9"/><circle cx="167.3" cy="192.1" r="1.9"/><circle cx="167.7" cy="192.1" r="1.9"/><circle cx="169.4" cy="192.1" r="1.9"/><circle cx="170.4" cy="192.1" r="1.9"/><circle cx="171.3" cy="192.1" r="1.9"/><circle cx="172.9" cy="192.1" r="1.9"/><circle cx="173.5" cy="192.1" r="1.9"/><circle cx="174.6" cy="192.1" r="1.9"/><circle cx="176.1" cy="192.1" r="1.9"/><circle cx="176.8" cy="192.1" r="1.9"/><circle cx="178.5" cy="192.1" r="1.9"/><circle cx="179.1" cy="192.1" r="1.9"/><circle cx="180.6" cy="192.1" r="1.9"/><circle cx="181.6" cy="192.1" r="1.9"/><circle cx="183.5" cy="192.1" r="1.9"/><circle cx="36.4" cy="189.3" r="1.9"/><circle cx="37.1" cy="189.3" r="1.9"/><circle cx="39.4" cy="189.3" r="1.9"/><circle cx="42.9" cy="189.3" r="1.9"/><circle cx="45.0" cy="189.3" r="1.9"/><circle cx="47.5" cy="189.3" r="1.9"/><circle cx="48.8" cy="189.3" r="1.9"/><circle cx="50.1" cy="189.3" r="1.9"/><circle cx="50.9" cy="189.3" r="1.9"/><circle cx="52.4" cy="189.3" r="1.9"/><circle cx="53.4" cy="189.3" r="1.9"/><circle cx="54.6" cy="189.3" r="1.9"/><circle cx="55.5" cy="189.3" r="1.9"/><circle cx="56.7" cy="189.3" r="1.9"/><circle cx="57.8" cy="189.3" r="1.9"/><circle cx="59.1" cy="189.3" r="1.9"/><circle cx="59.8" cy="189.3" r="1.9"/><circle cx="61.1" cy="189.3" r="1.9"/><circle cx="62.7" cy="189.3" r="1.9"/><circle cx="63.8" cy="189.3" r="1.9"/><circle cx="64.8" cy="189.3" r="1.9"/><circle cx="65.7" cy="189.3" r="1.9"/><circle cx="67.2" cy="189.3" r="1.9"/><circle cx="67.7" cy="189.3" r="1.9"/><circle cx="69.1" cy="189.3" r="1.9"/><circle cx="70.0" cy="189.3" r="1.9"/><circle cx="71.7" cy="189.3" r="1.9"/><circle cx="72.7" cy="189.3" r="1.9"/><circle cx="73.5" cy="189.3" r="1.9"/><circle cx="75.1" cy="189.3" r="1.9"/><circle cx="75.8" cy="189.3" r="1.9"/><circle cx="77.0" cy="189.3" r="1.9"/><circle cx="78.0" cy="189.3" r="1.9"/><circle cx="79.4" cy="189.3" r="1.9"/><circle cx="80.5" cy="189.3" r="1.9"/><circle cx="81.6" cy="189.3" r="1.9"/><circle cx="82.8" cy="189.3" r="1.9"/><circle cx="84.2" cy="189.3" r="1.9"/><circle cx="85.1" cy="189.3" r="1.9"/><circle cx="86.4" cy="189.3" r="1.9"/><circle cx="87.6" cy="189.3" r="1.9"/><circle cx="88.7" cy="189.3" r="1.9"/><circle cx="89.8" cy="189.3" r="1.9"/><circle cx="90.6" cy="189.3" r="1.9"/><circle cx="91.8" cy="189.3" r="1.9"/><circle cx="93.2" cy="189.3" r="1.9"/><circle cx="94.4" cy="189.3" r="1.9"/><circle cx="95.4" cy="189.3" r="1.9"/><circle cx="96.1" cy="189.3" r="1.9"/><circle cx="97.4" cy="189.3" r="1.9"/><circle cx="98.5" cy="189.3" r="1.9"/><circle cx="99.8" cy="189.3" r="1.9"/><circle cx="101.0" cy="189.3" r="1.9"/><circle cx="102.0" cy="189.3" r="1.9"/><circle cx="103.4" cy="189.3" r="1.9"/><circle cx="104.1" cy="189.3" r="1.9"/><circle cx="105.6" cy="189.3" r="1.9"/><circle cx="106.6" cy="189.3" r="1.9"/><circle cx="107.8" cy="189.3" r="1.9"/><circle cx="108.8" cy="189.3" r="1.9"/><circle cx="110.3" cy="189.3" r="1.9"/><circle cx="110.9" cy="189.3" r="1.9"/><circle cx="112.1" cy="189.3" r="1.9"/><circle cx="113.8" cy="189.3" r="1.9"/><circle cx="114.7" cy="189.3" r="1.9"/><circle cx="115.4" cy="189.3" r="1.9"/><circle cx="117.2" cy="189.3" r="1.9"/><circle cx="118.0" cy="189.3" r="1.9"/><circle cx="118.9" cy="189.3" r="1.9"/><circle cx="120.5" cy="189.3" r="1.9"/><circle cx="121.6" cy="189.3" r="1.9"/><circle cx="122.4" cy="189.3" r="1.9"/><circle cx="123.9" cy="189.3" r="1.9"/><circle cx="124.8" cy="189.3" r="1.9"/><circle cx="125.7" cy="189.3" r="1.9"/><circle cx="127.0" cy="189.3" r="1.9"/><circle cx="128.1" cy="189.3" r="1.9"/><circle cx="129.3" cy="189.3" r="1.9"/><circle cx="130.3" cy="189.3" r="1.9"/><circle cx="131.5" cy="189.3" r="1.9"/><circle cx="132.6" cy="189.3" r="1.9"/><circle cx="133.7" cy="189.3" r="1.9"/><circle cx="135.3" cy="189.3" r="1.9"/><circle cx="135.9" cy="189.3" r="1.9"/><circle cx="137.4" cy="189.3" r="1.9"/><circle cx="138.7" cy="189.3" r="1.9"/><circle cx="139.6" cy="189.3" r="1.9"/><circle cx="140.7" cy="189.3" r="1.9"/><circle cx="141.7" cy="189.3" r="1.9"/><circle cx="142.9" cy="189.3" r="1.9"/><circle cx="144.4" cy="189.3" r="1.9"/><circle cx="145.1" cy="189.3" r="1.9"/><circle cx="146.3" cy="189.3" r="1.9"/><circle cx="147.5" cy="189.3" r="1.9"/><circle cx="148.9" cy="189.3" r="1.9"/><circle cx="150.1" cy="189.3" r="1.9"/><circle cx="151.0" cy="189.3" r="1.9"/><circle cx="151.9" cy="189.3" r="1.9"/><circle cx="153.0" cy="189.3" r="1.9"/><circle cx="154.5" cy="189.3" r="1.9"/><circle cx="155.4" cy="189.3" r="1.9"/><circle cx="156.6" cy="189.3" r="1.9"/><circle cx="157.5" cy="189.3" r="1.9"/><circle cx="158.7" cy="189.3" r="1.9"/><circle cx="160.4" cy="189.3" r="1.9"/><circle cx="161.5" cy="189.3" r="1.9"/><circle cx="162.2" cy="189.3" r="1.9"/><circle cx="163.5" cy="189.3" r="1.9"/><circle cx="165.0" cy="189.3" r="1.9"/><circle cx="165.6" cy="189.3" r="1.9"/><circle cx="166.6" cy="189.3" r="1.9"/><circle cx="167.7" cy="189.3" r="1.9"/><circle cx="169.3" cy="189.3" r="1.9"/><circle cx="170.6" cy="189.3" r="1.9"/><circle cx="171.3" cy="189.3" r="1.9"/><circle cx="172.9" cy="189.3" r="1.9"/><circle cx="173.6" cy="189.3" r="1.9"/><circle cx="175.2" cy="189.3" r="1.9"/><circle cx="175.7" cy="189.3" r="1.9"/><circle cx="177.3" cy="189.3" r="1.9"/><circle cx="178.3" cy="189.3" r="1.9"/><circle cx="179.7" cy="189.3" r="1.9"/><circle cx="180.3" cy="189.3" r="1.9"/><circle cx="181.6" cy="189.3" r="1.9"/><circle cx="183.5" cy="189.3" r="1.9"/><circle cx="35.1" cy="186.5" r="1.9"/><circle cx="37.2" cy="186.5" r="1.9"/><circle cx="43.1" cy="186.5" r="1.9"/><circle cx="46.4" cy="186.5" r="1.9"/><circle cx="47.4" cy="186.5" r="1.9"/><circle cx="49.0" cy="186.5" r="1.9"/><circle cx="49.8" cy="186.5" r="1.9"/><circle cx="51.0" cy="186.5" r="1.9"/><circle cx="52.0" cy="186.5" r="1.9"/><circle cx="53.2" cy="186.5" r="1.9"/><circle cx="54.7" cy="186.5" r="1.9"/><circle cx="55.8" cy="186.5" r="1.9"/><circle cx="56.9" cy="186.5" r="1.9"/><circle cx="58.1" cy="186.5" r="1.9"/><circle cx="59.1" cy="186.5" r="1.9"/><circle cx="59.9" cy="186.5" r="1.9"/><circle cx="61.0" cy="186.5" r="1.9"/><circle cx="62.3" cy="186.5" r="1.9"/><circle cx="63.7" cy="186.5" r="1.9"/><circle cx="65.0" cy="186.5" r="1.9"/><circle cx="65.6" cy="186.5" r="1.9"/><circle cx="67.2" cy="186.5" r="1.9"/><circle cx="67.9" cy="186.5" r="1.9"/><circle cx="69.4" cy="186.5" r="1.9"/><circle cx="70.5" cy="186.5" r="1.9"/><circle cx="71.4" cy="186.5" r="1.9"/><circle cx="72.5" cy="186.5" r="1.9"/><circle cx="73.8" cy="186.5" r="1.9"/><circle cx="74.9" cy="186.5" r="1.9"/><circle cx="76.0" cy="186.5" r="1.9"/><circle cx="77.5" cy="186.5" r="1.9"/><circle cx="77.9" cy="186.5" r="1.9"/><circle cx="79.4" cy="186.5" r="1.9"/><circle cx="80.8" cy="186.5" r="1.9"/><circle cx="81.8" cy="186.5" r="1.9"/><circle cx="82.8" cy="186.5" r="1.9"/><circle cx="84.2" cy="186.5" r="1.9"/><circle cx="85.4" cy="186.5" r="1.9"/><circle cx="86.4" cy="186.5" r="1.9"/><circle cx="87.3" cy="186.5" r="1.9"/><circle cx="88.4" cy="186.5" r="1.9"/><circle cx="89.4" cy="186.5" r="1.9"/><circle cx="90.5" cy="186.5" r="1.9"/><circle cx="91.9" cy="186.5" r="1.9"/><circle cx="92.9" cy="186.5" r="1.9"/><circle cx="94.4" cy="186.5" r="1.9"/><circle cx="95.4" cy="186.5" r="1.9"/><circle cx="96.5" cy="186.5" r="1.9"/><circle cx="97.4" cy="186.5" r="1.9"/><circle cx="98.9" cy="186.5" r="1.9"/><circle cx="100.2" cy="186.5" r="1.9"/><circle cx="100.8" cy="186.5" r="1.9"/><circle cx="102.4" cy="186.5" r="1.9"/><circle cx="103.6" cy="186.5" r="1.9"/><circle cx="104.4" cy="186.5" r="1.9"/><circle cx="105.8" cy="186.5" r="1.9"/><circle cx="106.8" cy="186.5" r="1.9"/><circle cx="107.9" cy="186.5" r="1.9"/><circle cx="109.2" cy="186.5" r="1.9"/><circle cx="110.3" cy="186.5" r="1.9"/><circle cx="110.9" cy="186.5" r="1.9"/><circle cx="112.3" cy="186.5" r="1.9"/><circle cx="113.4" cy="186.5" r="1.9"/><circle cx="114.9" cy="186.5" r="1.9"/><circle cx="115.6" cy="186.5" r="1.9"/><circle cx="117.2" cy="186.5" r="1.9"/><circle cx="118.3" cy="186.5" r="1.9"/><circle cx="119.0" cy="186.5" r="1.9"/><circle cx="120.4" cy="186.5" r="1.9"/><circle cx="121.7" cy="186.5" r="1.9"/><circle cx="122.8" cy="186.5" r="1.9"/><circle cx="123.6" cy="186.5" r="1.9"/><circle cx="125.2" cy="186.5" r="1.9"/><circle cx="126.3" cy="186.5" r="1.9"/><circle cx="126.9" cy="186.5" r="1.9"/><circle cx="128.1" cy="186.5" r="1.9"/><circle cx="129.4" cy="186.5" r="1.9"/><circle cx="130.7" cy="186.5" r="1.9"/><circle cx="131.4" cy="186.5" r="1.9"/><circle cx="133.0" cy="186.5" r="1.9"/><circle cx="134.2" cy="186.5" r="1.9"/><circle cx="135.0" cy="186.5" r="1.9"/><circle cx="136.0" cy="186.5" r="1.9"/><circle cx="137.2" cy="186.5" r="1.9"/><circle cx="138.4" cy="186.5" r="1.9"/><circle cx="139.6" cy="186.5" r="1.9"/><circle cx="140.9" cy="186.5" r="1.9"/><circle cx="142.2" cy="186.5" r="1.9"/><circle cx="143.3" cy="186.5" r="1.9"/><circle cx="144.4" cy="186.5" r="1.9"/><circle cx="145.3" cy="186.5" r="1.9"/><circle cx="146.5" cy="186.5" r="1.9"/><circle cx="147.8" cy="186.5" r="1.9"/><circle cx="149.0" cy="186.5" r="1.9"/><circle cx="149.7" cy="186.5" r="1.9"/><circle cx="150.8" cy="186.5" r="1.9"/><circle cx="151.8" cy="186.5" r="1.9"/><circle cx="153.3" cy="186.5" r="1.9"/><circle cx="154.6" cy="186.5" r="1.9"/><circle cx="155.3" cy="186.5" r="1.9"/><circle cx="156.4" cy="186.5" r="1.9"/><circle cx="157.6" cy="186.5" r="1.9"/><circle cx="159.3" cy="186.5" r="1.9"/><circle cx="160.1" cy="186.5" r="1.9"/><circle cx="161.4" cy="186.5" r="1.9"/><circle cx="162.2" cy="186.5" r="1.9"/><circle cx="163.3" cy="186.5" r="1.9"/><circle cx="164.7" cy="186.5" r="1.9"/><circle cx="165.4" cy="186.5" r="1.9"/><circle cx="166.8" cy="186.5" r="1.9"/><circle cx="168.1" cy="186.5" r="1.9"/><circle cx="169.4" cy="186.5" r="1.9"/><circle cx="170.4" cy="186.5" r="1.9"/><circle cx="171.5" cy="186.5" r="1.9"/><circle cx="172.3" cy="186.5" r="1.9"/><circle cx="173.7" cy="186.5" r="1.9"/><circle cx="175.1" cy="186.5" r="1.9"/><circle cx="175.6" cy="186.5" r="1.9"/><circle cx="177.0" cy="186.5" r="1.9"/><circle cx="178.1" cy="186.5" r="1.9"/><circle cx="179.3" cy="186.5" r="1.9"/><circle cx="180.2" cy="186.5" r="1.9"/><circle cx="182.0" cy="186.5" r="1.9"/><circle cx="183.5" cy="186.5" r="1.9"/><circle cx="36.0" cy="183.6" r="1.9"/><circle cx="37.6" cy="183.6" r="1.9"/><circle cx="38.7" cy="183.6" r="1.9"/><circle cx="40.5" cy="183.6" r="1.9"/><circle cx="46.4" cy="183.6" r="1.9"/><circle cx="47.7" cy="183.6" r="1.9"/><circle cx="48.5" cy="183.6" r="1.9"/><circle cx="49.9" cy="183.6" r="1.9"/><circle cx="51.2" cy="183.6" r="1.9"/><circle cx="51.9" cy="183.6" r="1.9"/><circle cx="53.0" cy="183.6" r="1.9"/><circle cx="54.4" cy="183.6" r="1.9"/><circle cx="55.3" cy="183.6" r="1.9"/><circle cx="56.9" cy="183.6" r="1.9"/><circle cx="57.7" cy="183.6" r="1.9"/><circle cx="59.0" cy="183.6" r="1.9"/><circle cx="60.4" cy="183.6" r="1.9"/><circle cx="61.5" cy="183.6" r="1.9"/><circle cx="62.3" cy="183.6" r="1.9"/><circle cx="63.7" cy="183.6" r="1.9"/><circle cx="64.5" cy="183.6" r="1.9"/><circle cx="66.0" cy="183.6" r="1.9"/><circle cx="66.9" cy="183.6" r="1.9"/><circle cx="68.3" cy="183.6" r="1.9"/><circle cx="68.9" cy="183.6" r="1.9"/><circle cx="70.5" cy="183.6" r="1.9"/><circle cx="71.5" cy="183.6" r="1.9"/><circle cx="72.5" cy="183.6" r="1.9"/><circle cx="74.1" cy="183.6" r="1.9"/><circle cx="74.9" cy="183.6" r="1.9"/><circle cx="75.7" cy="183.6" r="1.9"/><circle cx="77.3" cy="183.6" r="1.9"/><circle cx="78.3" cy="183.6" r="1.9"/><circle cx="79.4" cy="183.6" r="1.9"/><circle cx="80.4" cy="183.6" r="1.9"/><circle cx="81.7" cy="183.6" r="1.9"/><circle cx="82.6" cy="183.6" r="1.9"/><circle cx="83.7" cy="183.6" r="1.9"/><circle cx="85.4" cy="183.6" r="1.9"/><circle cx="86.4" cy="183.6" r="1.9"/><circle cx="87.1" cy="183.6" r="1.9"/><circle cx="88.8" cy="183.6" r="1.9"/><circle cx="89.7" cy="183.6" r="1.9"/><circle cx="90.5" cy="183.6" r="1.9"/><circle cx="91.9" cy="183.6" r="1.9"/><circle cx="92.9" cy="183.6" r="1.9"/><circle cx="94.0" cy="183.6" r="1.9"/><circle cx="95.1" cy="183.6" r="1.9"/><circle cx="96.4" cy="183.6" r="1.9"/><circle cx="97.9" cy="183.6" r="1.9"/><circle cx="98.9" cy="183.6" r="1.9"/><circle cx="100.1" cy="183.6" r="1.9"/><circle cx="101.4" cy="183.6" r="1.9"/><circle cx="102.3" cy="183.6" r="1.9"/><circle cx="103.3" cy="183.6" r="1.9"/><circle cx="104.1" cy="183.6" r="1.9"/><circle cx="105.8" cy="183.6" r="1.9"/><circle cx="106.5" cy="183.6" r="1.9"/><circle cx="108.0" cy="183.6" r="1.9"/><circle cx="109.3" cy="183.6" r="1.9"/><circle cx="110.5" cy="183.6" r="1.9"/><circle cx="111.2" cy="183.6" r="1.9"/><circle cx="112.1" cy="183.6" r="1.9"/><circle cx="113.6" cy="183.6" r="1.9"/><circle cx="114.9" cy="183.6" r="1.9"/><circle cx="116.1" cy="183.6" r="1.9"/><circle cx="117.2" cy="183.6" r="1.9"/><circle cx="117.8" cy="183.6" r="1.9"/><circle cx="119.3" cy="183.6" r="1.9"/><circle cx="120.6" cy="183.6" r="1.9"/><circle cx="121.5" cy="183.6" r="1.9"/><circle cx="122.9" cy="183.6" r="1.9"/><circle cx="123.5" cy="183.6" r="1.9"/><circle cx="124.7" cy="183.6" r="1.9"/><circle cx="125.8" cy="183.6" r="1.9"/><circle cx="127.0" cy="183.6" r="1.9"/><circle cx="128.0" cy="183.6" r="1.9"/><circle cx="129.6" cy="183.6" r="1.9"/><circle cx="130.5" cy="183.6" r="1.9"/><circle cx="131.4" cy="183.6" r="1.9"/><circle cx="133.1" cy="183.6" r="1.9"/><circle cx="134.2" cy="183.6" r="1.9"/><circle cx="135.3" cy="183.6" r="1.9"/><circle cx="136.0" cy="183.6" r="1.9"/><circle cx="137.7" cy="183.6" r="1.9"/><circle cx="138.4" cy="183.6" r="1.9"/><circle cx="139.9" cy="183.6" r="1.9"/><circle cx="140.8" cy="183.6" r="1.9"/><circle cx="141.9" cy="183.6" r="1.9"/><circle cx="143.0" cy="183.6" r="1.9"/><circle cx="144.0" cy="183.6" r="1.9"/><circle cx="145.0" cy="183.6" r="1.9"/><circle cx="146.8" cy="183.6" r="1.9"/><circle cx="147.8" cy="183.6" r="1.9"/><circle cx="148.7" cy="183.6" r="1.9"/><circle cx="149.7" cy="183.6" r="1.9"/><circle cx="151.2" cy="183.6" r="1.9"/><circle cx="152.1" cy="183.6" r="1.9"/><circle cx="153.5" cy="183.6" r="1.9"/><circle cx="154.5" cy="183.6" r="1.9"/><circle cx="155.9" cy="183.6" r="1.9"/><circle cx="157.0" cy="183.6" r="1.9"/><circle cx="158.2" cy="183.6" r="1.9"/><circle cx="159.0" cy="183.6" r="1.9"/><circle cx="159.9" cy="183.6" r="1.9"/><circle cx="160.9" cy="183.6" r="1.9"/><circle cx="162.1" cy="183.6" r="1.9"/><circle cx="163.2" cy="183.6" r="1.9"/><circle cx="164.9" cy="183.6" r="1.9"/><circle cx="165.9" cy="183.6" r="1.9"/><circle cx="166.6" cy="183.6" r="1.9"/><circle cx="168.2" cy="183.6" r="1.9"/><circle cx="169.3" cy="183.6" r="1.9"/><circle cx="170.0" cy="183.6" r="1.9"/><circle cx="171.5" cy="183.6" r="1.9"/><circle cx="172.2" cy="183.6" r="1.9"/><circle cx="173.4" cy="183.6" r="1.9"/><circle cx="174.7" cy="183.6" r="1.9"/><circle cx="175.7" cy="183.6" r="1.9"/><circle cx="176.8" cy="183.6" r="1.9"/><circle cx="178.3" cy="183.6" r="1.9"/><circle cx="179.7" cy="183.6" r="1.9"/><circle cx="180.4" cy="183.6" r="1.9"/><circle cx="181.6" cy="183.6" r="1.9"/><circle cx="183.5" cy="183.6" r="1.9"/><circle cx="37.5" cy="180.8" r="1.9"/><circle cx="38.4" cy="180.8" r="1.9"/><circle cx="40.6" cy="180.8" r="1.9"/><circle cx="46.3" cy="180.8" r="1.9"/><circle cx="48.8" cy="180.8" r="1.9"/><circle cx="50.1" cy="180.8" r="1.9"/><circle cx="50.7" cy="180.8" r="1.9"/><circle cx="51.9" cy="180.8" r="1.9"/><circle cx="53.6" cy="180.8" r="1.9"/><circle cx="54.3" cy="180.8" r="1.9"/><circle cx="55.7" cy="180.8" r="1.9"/><circle cx="56.4" cy="180.8" r="1.9"/><circle cx="58.1" cy="180.8" r="1.9"/><circle cx="59.2" cy="180.8" r="1.9"/><circle cx="59.9" cy="180.8" r="1.9"/><circle cx="61.0" cy="180.8" r="1.9"/><circle cx="62.0" cy="180.8" r="1.9"/><circle cx="63.7" cy="180.8" r="1.9"/><circle cx="64.8" cy="180.8" r="1.9"/><circle cx="66.0" cy="180.8" r="1.9"/><circle cx="67.2" cy="180.8" r="1.9"/><circle cx="68.4" cy="180.8" r="1.9"/><circle cx="68.8" cy="180.8" r="1.9"/><circle cx="70.2" cy="180.8" r="1.9"/><circle cx="71.2" cy="180.8" r="1.9"/><circle cx="72.2" cy="180.8" r="1.9"/><circle cx="73.9" cy="180.8" r="1.9"/><circle cx="74.7" cy="180.8" r="1.9"/><circle cx="76.2" cy="180.8" r="1.9"/><circle cx="76.9" cy="180.8" r="1.9"/><circle cx="78.6" cy="180.8" r="1.9"/><circle cx="79.1" cy="180.8" r="1.9"/><circle cx="80.5" cy="180.8" r="1.9"/><circle cx="81.5" cy="180.8" r="1.9"/><circle cx="82.5" cy="180.8" r="1.9"/><circle cx="84.2" cy="180.8" r="1.9"/><circle cx="85.2" cy="180.8" r="1.9"/><circle cx="86.0" cy="180.8" r="1.9"/><circle cx="87.7" cy="180.8" r="1.9"/><circle cx="88.5" cy="180.8" r="1.9"/><circle cx="90.0" cy="180.8" r="1.9"/><circle cx="90.6" cy="180.8" r="1.9"/><circle cx="91.8" cy="180.8" r="1.9"/><circle cx="93.0" cy="180.8" r="1.9"/><circle cx="93.8" cy="180.8" r="1.9"/><circle cx="95.5" cy="180.8" r="1.9"/><circle cx="96.2" cy="180.8" r="1.9"/><circle cx="97.7" cy="180.8" r="1.9"/><circle cx="98.7" cy="180.8" r="1.9"/><circle cx="99.9" cy="180.8" r="1.9"/><circle cx="101.3" cy="180.8" r="1.9"/><circle cx="102.1" cy="180.8" r="1.9"/><circle cx="103.5" cy="180.8" r="1.9"/><circle cx="104.7" cy="180.8" r="1.9"/><circle cx="105.4" cy="180.8" r="1.9"/><circle cx="107.0" cy="180.8" r="1.9"/><circle cx="107.7" cy="180.8" r="1.9"/><circle cx="108.9" cy="180.8" r="1.9"/><circle cx="110.1" cy="180.8" r="1.9"/><circle cx="111.1" cy="180.8" r="1.9"/><circle cx="112.2" cy="180.8" r="1.9"/><circle cx="113.2" cy="180.8" r="1.9"/><circle cx="114.4" cy="180.8" r="1.9"/><circle cx="115.9" cy="180.8" r="1.9"/><circle cx="116.8" cy="180.8" r="1.9"/><circle cx="118.1" cy="180.8" r="1.9"/><circle cx="119.4" cy="180.8" r="1.9"/><circle cx="120.6" cy="180.8" r="1.9"/><circle cx="121.6" cy="180.8" r="1.9"/><circle cx="122.6" cy="180.8" r="1.9"/><circle cx="123.9" cy="180.8" r="1.9"/><circle cx="124.7" cy="180.8" r="1.9"/><circle cx="126.0" cy="180.8" r="1.9"/><circle cx="127.4" cy="180.8" r="1.9"/><circle cx="128.6" cy="180.8" r="1.9"/><circle cx="129.6" cy="180.8" r="1.9"/><circle cx="130.6" cy="180.8" r="1.9"/><circle cx="131.9" cy="180.8" r="1.9"/><circle cx="132.6" cy="180.8" r="1.9"/><circle cx="134.1" cy="180.8" r="1.9"/><circle cx="135.4" cy="180.8" r="1.9"/><circle cx="136.1" cy="180.8" r="1.9"/><circle cx="137.6" cy="180.8" r="1.9"/><circle cx="138.5" cy="180.8" r="1.9"/><circle cx="139.7" cy="180.8" r="1.9"/><circle cx="141.0" cy="180.8" r="1.9"/><circle cx="142.1" cy="180.8" r="1.9"/><circle cx="142.7" cy="180.8" r="1.9"/><circle cx="144.5" cy="180.8" r="1.9"/><circle cx="145.6" cy="180.8" r="1.9"/><circle cx="146.5" cy="180.8" r="1.9"/><circle cx="147.5" cy="180.8" r="1.9"/><circle cx="148.5" cy="180.8" r="1.9"/><circle cx="149.9" cy="180.8" r="1.9"/><circle cx="150.9" cy="180.8" r="1.9"/><circle cx="152.2" cy="180.8" r="1.9"/><circle cx="153.4" cy="180.8" r="1.9"/><circle cx="154.5" cy="180.8" r="1.9"/><circle cx="155.5" cy="180.8" r="1.9"/><circle cx="157.0" cy="180.8" r="1.9"/><circle cx="157.5" cy="180.8" r="1.9"/><circle cx="159.2" cy="180.8" r="1.9"/><circle cx="160.3" cy="180.8" r="1.9"/><circle cx="161.5" cy="180.8" r="1.9"/><circle cx="162.3" cy="180.8" r="1.9"/><circle cx="163.3" cy="180.8" r="1.9"/><circle cx="164.5" cy="180.8" r="1.9"/><circle cx="166.0" cy="180.8" r="1.9"/><circle cx="167.3" cy="180.8" r="1.9"/><circle cx="168.2" cy="180.8" r="1.9"/><circle cx="168.9" cy="180.8" r="1.9"/><circle cx="170.6" cy="180.8" r="1.9"/><circle cx="171.8" cy="180.8" r="1.9"/><circle cx="172.9" cy="180.8" r="1.9"/><circle cx="173.8" cy="180.8" r="1.9"/><circle cx="175.0" cy="180.8" r="1.9"/><circle cx="176.1" cy="180.8" r="1.9"/><circle cx="177.2" cy="180.8" r="1.9"/><circle cx="177.9" cy="180.8" r="1.9"/><circle cx="179.7" cy="180.8" r="1.9"/><circle cx="180.2" cy="180.8" r="1.9"/><circle cx="181.7" cy="180.8" r="1.9"/><circle cx="183.5" cy="180.8" r="1.9"/><circle cx="47.5" cy="178.0" r="1.9"/><circle cx="49.0" cy="178.0" r="1.9"/><circle cx="50.9" cy="178.0" r="1.9"/><circle cx="52.4" cy="178.0" r="1.9"/><circle cx="53.4" cy="178.0" r="1.9"/><circle cx="55.3" cy="178.0" r="1.9"/><circle cx="56.5" cy="178.0" r="1.9"/><circle cx="57.8" cy="178.0" r="1.9"/><circle cx="59.3" cy="178.0" r="1.9"/><circle cx="60.0" cy="178.0" r="1.9"/><circle cx="61.5" cy="178.0" r="1.9"/><circle cx="62.4" cy="178.0" r="1.9"/><circle cx="63.5" cy="178.0" r="1.9"/><circle cx="64.5" cy="178.0" r="1.9"/><circle cx="65.7" cy="178.0" r="1.9"/><circle cx="66.8" cy="178.0" r="1.9"/><circle cx="67.7" cy="178.0" r="1.9"/><circle cx="69.3" cy="178.0" r="1.9"/><circle cx="70.3" cy="178.0" r="1.9"/><circle cx="71.5" cy="178.0" r="1.9"/><circle cx="72.8" cy="178.0" r="1.9"/><circle cx="73.4" cy="178.0" r="1.9"/><circle cx="75.2" cy="178.0" r="1.9"/><circle cx="76.3" cy="178.0" r="1.9"/><circle cx="76.8" cy="178.0" r="1.9"/><circle cx="78.2" cy="178.0" r="1.9"/><circle cx="79.7" cy="178.0" r="1.9"/><circle cx="80.9" cy="178.0" r="1.9"/><circle cx="81.5" cy="178.0" r="1.9"/><circle cx="82.8" cy="178.0" r="1.9"/><circle cx="84.2" cy="178.0" r="1.9"/><circle cx="84.8" cy="178.0" r="1.9"/><circle cx="86.3" cy="178.0" r="1.9"/><circle cx="87.3" cy="178.0" r="1.9"/><circle cx="88.6" cy="178.0" r="1.9"/><circle cx="89.5" cy="178.0" r="1.9"/><circle cx="90.6" cy="178.0" r="1.9"/><circle cx="91.9" cy="178.0" r="1.9"/><circle cx="92.7" cy="178.0" r="1.9"/><circle cx="94.1" cy="178.0" r="1.9"/><circle cx="95.3" cy="178.0" r="1.9"/><circle cx="96.4" cy="178.0" r="1.9"/><circle cx="97.4" cy="178.0" r="1.9"/><circle cx="98.4" cy="178.0" r="1.9"/><circle cx="99.8" cy="178.0" r="1.9"/><circle cx="100.9" cy="178.0" r="1.9"/><circle cx="102.1" cy="178.0" r="1.9"/><circle cx="103.1" cy="178.0" r="1.9"/><circle cx="104.1" cy="178.0" r="1.9"/><circle cx="105.4" cy="178.0" r="1.9"/><circle cx="106.8" cy="178.0" r="1.9"/><circle cx="107.9" cy="178.0" r="1.9"/><circle cx="108.9" cy="178.0" r="1.9"/><circle cx="109.7" cy="178.0" r="1.9"/><circle cx="111.2" cy="178.0" r="1.9"/><circle cx="112.6" cy="178.0" r="1.9"/><circle cx="113.7" cy="178.0" r="1.9"/><circle cx="114.4" cy="178.0" r="1.9"/><circle cx="115.8" cy="178.0" r="1.9"/><circle cx="117.2" cy="178.0" r="1.9"/><circle cx="117.9" cy="178.0" r="1.9"/><circle cx="118.9" cy="178.0" r="1.9"/><circle cx="120.0" cy="178.0" r="1.9"/><circle cx="121.2" cy="178.0" r="1.9"/><circle cx="122.5" cy="178.0" r="1.9"/><circle cx="123.4" cy="178.0" r="1.9"/><circle cx="125.0" cy="178.0" r="1.9"/><circle cx="126.2" cy="178.0" r="1.9"/><circle cx="127.3" cy="178.0" r="1.9"/><circle cx="128.4" cy="178.0" r="1.9"/><circle cx="129.2" cy="178.0" r="1.9"/><circle cx="130.3" cy="178.0" r="1.9"/><circle cx="131.5" cy="178.0" r="1.9"/><circle cx="133.1" cy="178.0" r="1.9"/><circle cx="133.9" cy="178.0" r="1.9"/><circle cx="135.3" cy="178.0" r="1.9"/><circle cx="136.2" cy="178.0" r="1.9"/><circle cx="137.5" cy="178.0" r="1.9"/><circle cx="138.6" cy="178.0" r="1.9"/><circle cx="139.7" cy="178.0" r="1.9"/><circle cx="141.0" cy="178.0" r="1.9"/><circle cx="141.9" cy="178.0" r="1.9"/><circle cx="142.7" cy="178.0" r="1.9"/><circle cx="144.3" cy="178.0" r="1.9"/><circle cx="145.2" cy="178.0" r="1.9"/><circle cx="146.8" cy="178.0" r="1.9"/><circle cx="147.8" cy="178.0" r="1.9"/><circle cx="148.6" cy="178.0" r="1.9"/><circle cx="149.7" cy="178.0" r="1.9"/><circle cx="150.8" cy="178.0" r="1.9"/><circle cx="152.5" cy="178.0" r="1.9"/><circle cx="152.9" cy="178.0" r="1.9"/><circle cx="154.7" cy="178.0" r="1.9"/><circle cx="155.7" cy="178.0" r="1.9"/><circle cx="156.5" cy="178.0" r="1.9"/><circle cx="158.0" cy="178.0" r="1.9"/><circle cx="159.2" cy="178.0" r="1.9"/><circle cx="159.9" cy="178.0" r="1.9"/><circle cx="161.3" cy="178.0" r="1.9"/><circle cx="162.2" cy="178.0" r="1.9"/><circle cx="163.5" cy="178.0" r="1.9"/><circle cx="164.7" cy="178.0" r="1.9"/><circle cx="165.9" cy="178.0" r="1.9"/><circle cx="166.9" cy="178.0" r="1.9"/><circle cx="168.0" cy="178.0" r="1.9"/><circle cx="169.0" cy="178.0" r="1.9"/><circle cx="170.6" cy="178.0" r="1.9"/><circle cx="171.7" cy="178.0" r="1.9"/><circle cx="172.6" cy="178.0" r="1.9"/><circle cx="173.9" cy="178.0" r="1.9"/><circle cx="174.7" cy="178.0" r="1.9"/><circle cx="176.0" cy="178.0" r="1.9"/><circle cx="176.8" cy="178.0" r="1.9"/><circle cx="178.4" cy="178.0" r="1.9"/><circle cx="179.1" cy="178.0" r="1.9"/><circle cx="180.6" cy="178.0" r="1.9"/><circle cx="181.6" cy="178.0" r="1.9"/><circle cx="183.5" cy="178.0" r="1.9"/><circle cx="38.2" cy="175.2" r="1.9"/><circle cx="47.4" cy="175.2" r="1.9"/><circle cx="48.8" cy="175.2" r="1.9"/><circle cx="50.0" cy="175.2" r="1.9"/><circle cx="53.6" cy="175.2" r="1.9"/><circle cx="54.5" cy="175.2" r="1.9"/><circle cx="55.5" cy="175.2" r="1.9"/><circle cx="56.8" cy="175.2" r="1.9"/><circle cx="57.8" cy="175.2" r="1.9"/><circle cx="58.8" cy="175.2" r="1.9"/><circle cx="60.4" cy="175.2" r="1.9"/><circle cx="62.1" cy="175.2" r="1.9"/><circle cx="63.5" cy="175.2" r="1.9"/><circle cx="64.8" cy="175.2" r="1.9"/><circle cx="65.8" cy="175.2" r="1.9"/><circle cx="67.0" cy="175.2" r="1.9"/><circle cx="68.4" cy="175.2" r="1.9"/><circle cx="69.5" cy="175.2" r="1.9"/><circle cx="70.0" cy="175.2" r="1.9"/><circle cx="71.7" cy="175.2" r="1.9"/><circle cx="72.7" cy="175.2" r="1.9"/><circle cx="73.5" cy="175.2" r="1.9"/><circle cx="74.6" cy="175.2" r="1.9"/><circle cx="75.8" cy="175.2" r="1.9"/><circle cx="77.0" cy="175.2" r="1.9"/><circle cx="78.5" cy="175.2" r="1.9"/><circle cx="79.1" cy="175.2" r="1.9"/><circle cx="80.6" cy="175.2" r="1.9"/><circle cx="81.5" cy="175.2" r="1.9"/><circle cx="82.8" cy="175.2" r="1.9"/><circle cx="84.0" cy="175.2" r="1.9"/><circle cx="84.8" cy="175.2" r="1.9"/><circle cx="86.1" cy="175.2" r="1.9"/><circle cx="87.0" cy="175.2" r="1.9"/><circle cx="88.3" cy="175.2" r="1.9"/><circle cx="89.9" cy="175.2" r="1.9"/><circle cx="91.0" cy="175.2" r="1.9"/><circle cx="91.7" cy="175.2" r="1.9"/><circle cx="92.9" cy="175.2" r="1.9"/><circle cx="93.9" cy="175.2" r="1.9"/><circle cx="95.3" cy="175.2" r="1.9"/><circle cx="96.7" cy="175.2" r="1.9"/><circle cx="97.3" cy="175.2" r="1.9"/><circle cx="98.6" cy="175.2" r="1.9"/><circle cx="100.0" cy="175.2" r="1.9"/><circle cx="100.9" cy="175.2" r="1.9"/><circle cx="101.8" cy="175.2" r="1.9"/><circle cx="103.4" cy="175.2" r="1.9"/><circle cx="104.6" cy="175.2" r="1.9"/><circle cx="105.3" cy="175.2" r="1.9"/><circle cx="106.4" cy="175.2" r="1.9"/><circle cx="107.8" cy="175.2" r="1.9"/><circle cx="108.7" cy="175.2" r="1.9"/><circle cx="110.4" cy="175.2" r="1.9"/><circle cx="111.5" cy="175.2" r="1.9"/><circle cx="112.4" cy="175.2" r="1.9"/><circle cx="113.6" cy="175.2" r="1.9"/><circle cx="114.5" cy="175.2" r="1.9"/><circle cx="115.5" cy="175.2" r="1.9"/><circle cx="117.1" cy="175.2" r="1.9"/><circle cx="117.8" cy="175.2" r="1.9"/><circle cx="118.8" cy="175.2" r="1.9"/><circle cx="120.4" cy="175.2" r="1.9"/><circle cx="121.4" cy="175.2" r="1.9"/><circle cx="122.2" cy="175.2" r="1.9"/><circle cx="123.7" cy="175.2" r="1.9"/><circle cx="124.8" cy="175.2" r="1.9"/><circle cx="125.7" cy="175.2" r="1.9"/><circle cx="127.3" cy="175.2" r="1.9"/><circle cx="128.4" cy="175.2" r="1.9"/><circle cx="129.5" cy="175.2" r="1.9"/><circle cx="130.9" cy="175.2" r="1.9"/><circle cx="132.0" cy="175.2" r="1.9"/><circle cx="132.6" cy="175.2" r="1.9"/><circle cx="133.9" cy="175.2" r="1.9"/><circle cx="135.1" cy="175.2" r="1.9"/><circle cx="136.4" cy="175.2" r="1.9"/><circle cx="137.6" cy="175.2" r="1.9"/><circle cx="138.8" cy="175.2" r="1.9"/><circle cx="139.3" cy="175.2" r="1.9"/><circle cx="140.5" cy="175.2" r="1.9"/><circle cx="141.6" cy="175.2" r="1.9"/><circle cx="142.8" cy="175.2" r="1.9"/><circle cx="144.3" cy="175.2" r="1.9"/><circle cx="145.1" cy="175.2" r="1.9"/><circle cx="146.1" cy="175.2" r="1.9"/><circle cx="147.5" cy="175.2" r="1.9"/><circle cx="148.6" cy="175.2" r="1.9"/><circle cx="149.9" cy="175.2" r="1.9"/><circle cx="151.1" cy="175.2" r="1.9"/><circle cx="152.0" cy="175.2" r="1.9"/><circle cx="153.3" cy="175.2" r="1.9"/><circle cx="154.4" cy="175.2" r="1.9"/><circle cx="155.3" cy="175.2" r="1.9"/><circle cx="156.8" cy="175.2" r="1.9"/><circle cx="158.1" cy="175.2" r="1.9"/><circle cx="159.3" cy="175.2" r="1.9"/><circle cx="160.2" cy="175.2" r="1.9"/><circle cx="161.3" cy="175.2" r="1.9"/><circle cx="162.1" cy="175.2" r="1.9"/><circle cx="163.3" cy="175.2" r="1.9"/><circle cx="164.5" cy="175.2" r="1.9"/><circle cx="165.9" cy="175.2" r="1.9"/><circle cx="166.7" cy="175.2" r="1.9"/><circle cx="168.3" cy="175.2" r="1.9"/><circle cx="169.5" cy="175.2" r="1.9"/><circle cx="170.2" cy="175.2" r="1.9"/><circle cx="171.4" cy="175.2" r="1.9"/><circle cx="172.5" cy="175.2" r="1.9"/><circle cx="173.6" cy="175.2" r="1.9"/><circle cx="174.8" cy="175.2" r="1.9"/><circle cx="176.0" cy="175.2" r="1.9"/><circle cx="177.3" cy="175.2" r="1.9"/><circle cx="178.2" cy="175.2" r="1.9"/><circle cx="179.3" cy="175.2" r="1.9"/><circle cx="180.7" cy="175.2" r="1.9"/><circle cx="181.6" cy="175.2" r="1.9"/><circle cx="183.5" cy="175.2" r="1.9"/><circle cx="42.9" cy="172.4" r="1.9"/><circle cx="51.0" cy="172.4" r="1.9"/><circle cx="51.9" cy="172.4" r="1.9"/><circle cx="54.8" cy="172.4" r="1.9"/><circle cx="55.8" cy="172.4" r="1.9"/><circle cx="56.5" cy="172.4" r="1.9"/><circle cx="57.9" cy="172.4" r="1.9"/><circle cx="58.7" cy="172.4" r="1.9"/><circle cx="59.8" cy="172.4" r="1.9"/><circle cx="61.2" cy="172.4" r="1.9"/><circle cx="62.4" cy="172.4" r="1.9"/><circle cx="63.8" cy="172.4" r="1.9"/><circle cx="64.8" cy="172.4" r="1.9"/><circle cx="66.0" cy="172.4" r="1.9"/><circle cx="67.1" cy="172.4" r="1.9"/><circle cx="67.8" cy="172.4" r="1.9"/><circle cx="69.5" cy="172.4" r="1.9"/><circle cx="70.0" cy="172.4" r="1.9"/><circle cx="71.8" cy="172.4" r="1.9"/><circle cx="72.3" cy="172.4" r="1.9"/><circle cx="74.0" cy="172.4" r="1.9"/><circle cx="75.0" cy="172.4" r="1.9"/><circle cx="76.0" cy="172.4" r="1.9"/><circle cx="77.1" cy="172.4" r="1.9"/><circle cx="78.1" cy="172.4" r="1.9"/><circle cx="79.5" cy="172.4" r="1.9"/><circle cx="80.4" cy="172.4" r="1.9"/><circle cx="81.6" cy="172.4" r="1.9"/><circle cx="82.9" cy="172.4" r="1.9"/><circle cx="83.6" cy="172.4" r="1.9"/><circle cx="85.2" cy="172.4" r="1.9"/><circle cx="86.6" cy="172.4" r="1.9"/><circle cx="87.4" cy="172.4" r="1.9"/><circle cx="88.2" cy="172.4" r="1.9"/><circle cx="89.9" cy="172.4" r="1.9"/><circle cx="90.5" cy="172.4" r="1.9"/><circle cx="92.1" cy="172.4" r="1.9"/><circle cx="92.7" cy="172.4" r="1.9"/><circle cx="94.1" cy="172.4" r="1.9"/><circle cx="95.0" cy="172.4" r="1.9"/><circle cx="96.4" cy="172.4" r="1.9"/><circle cx="97.9" cy="172.4" r="1.9"/><circle cx="99.0" cy="172.4" r="1.9"/><circle cx="100.0" cy="172.4" r="1.9"/><circle cx="101.1" cy="172.4" r="1.9"/><circle cx="102.0" cy="172.4" r="1.9"/><circle cx="103.1" cy="172.4" r="1.9"/><circle cx="104.6" cy="172.4" r="1.9"/><circle cx="105.4" cy="172.4" r="1.9"/><circle cx="106.5" cy="172.4" r="1.9"/><circle cx="108.1" cy="172.4" r="1.9"/><circle cx="108.8" cy="172.4" r="1.9"/><circle cx="110.0" cy="172.4" r="1.9"/><circle cx="111.5" cy="172.4" r="1.9"/><circle cx="112.2" cy="172.4" r="1.9"/><circle cx="113.7" cy="172.4" r="1.9"/><circle cx="114.4" cy="172.4" r="1.9"/><circle cx="115.6" cy="172.4" r="1.9"/><circle cx="116.9" cy="172.4" r="1.9"/><circle cx="118.1" cy="172.4" r="1.9"/><circle cx="119.0" cy="172.4" r="1.9"/><circle cx="120.2" cy="172.4" r="1.9"/><circle cx="121.8" cy="172.4" r="1.9"/><circle cx="122.3" cy="172.4" r="1.9"/><circle cx="124.1" cy="172.4" r="1.9"/><circle cx="125.0" cy="172.4" r="1.9"/><circle cx="125.9" cy="172.4" r="1.9"/><circle cx="127.4" cy="172.4" r="1.9"/><circle cx="128.3" cy="172.4" r="1.9"/><circle cx="129.5" cy="172.4" r="1.9"/><circle cx="130.4" cy="172.4" r="1.9"/><circle cx="131.5" cy="172.4" r="1.9"/><circle cx="133.0" cy="172.4" r="1.9"/><circle cx="134.2" cy="172.4" r="1.9"/><circle cx="135.0" cy="172.4" r="1.9"/><circle cx="136.0" cy="172.4" r="1.9"/><circle cx="137.0" cy="172.4" r="1.9"/><circle cx="138.8" cy="172.4" r="1.9"/><circle cx="139.8" cy="172.4" r="1.9"/><circle cx="140.4" cy="172.4" r="1.9"/><circle cx="141.9" cy="172.4" r="1.9"/><circle cx="143.3" cy="172.4" r="1.9"/><circle cx="144.0" cy="172.4" r="1.9"/><circle cx="145.4" cy="172.4" r="1.9"/><circle cx="146.2" cy="172.4" r="1.9"/><circle cx="147.4" cy="172.4" r="1.9"/><circle cx="148.9" cy="172.4" r="1.9"/><circle cx="149.8" cy="172.4" r="1.9"/><circle cx="151.2" cy="172.4" r="1.9"/><circle cx="152.3" cy="172.4" r="1.9"/><circle cx="153.5" cy="172.4" r="1.9"/><circle cx="154.2" cy="172.4" r="1.9"/><circle cx="155.6" cy="172.4" r="1.9"/><circle cx="156.5" cy="172.4" r="1.9"/><circle cx="157.9" cy="172.4" r="1.9"/><circle cx="158.9" cy="172.4" r="1.9"/><circle cx="159.7" cy="172.4" r="1.9"/><circle cx="161.2" cy="172.4" r="1.9"/><circle cx="162.2" cy="172.4" r="1.9"/><circle cx="163.5" cy="172.4" r="1.9"/><circle cx="164.9" cy="172.4" r="1.9"/><circle cx="166.1" cy="172.4" r="1.9"/><circle cx="166.8" cy="172.4" r="1.9"/><circle cx="168.1" cy="172.4" r="1.9"/><circle cx="169.4" cy="172.4" r="1.9"/><circle cx="170.1" cy="172.4" r="1.9"/><circle cx="171.1" cy="172.4" r="1.9"/><circle cx="172.6" cy="172.4" r="1.9"/><circle cx="173.7" cy="172.4" r="1.9"/><circle cx="174.8" cy="172.4" r="1.9"/><circle cx="176.3" cy="172.4" r="1.9"/><circle cx="177.0" cy="172.4" r="1.9"/><circle cx="178.1" cy="172.4" r="1.9"/><circle cx="179.6" cy="172.4" r="1.9"/><circle cx="180.7" cy="172.4" r="1.9"/><circle cx="181.6" cy="172.4" r="1.9"/><circle cx="183.5" cy="172.4" r="1.9"/><circle cx="53.2" cy="169.5" r="1.9"/><circle cx="54.7" cy="169.5" r="1.9"/><circle cx="55.3" cy="169.5" r="1.9"/><circle cx="56.6" cy="169.5" r="1.9"/><circle cx="57.8" cy="169.5" r="1.9"/><circle cx="58.8" cy="169.5" r="1.9"/><circle cx="60.0" cy="169.5" r="1.9"/><circle cx="61.5" cy="169.5" r="1.9"/><circle cx="62.5" cy="169.5" r="1.9"/><circle cx="63.7" cy="169.5" r="1.9"/><circle cx="64.4" cy="169.5" r="1.9"/><circle cx="66.1" cy="169.5" r="1.9"/><circle cx="67.0" cy="169.5" r="1.9"/><circle cx="67.8" cy="169.5" r="1.9"/><circle cx="69.4" cy="169.5" r="1.9"/><circle cx="70.0" cy="169.5" r="1.9"/><circle cx="71.5" cy="169.5" r="1.9"/><circle cx="72.9" cy="169.5" r="1.9"/><circle cx="74.0" cy="169.5" r="1.9"/><circle cx="75.0" cy="169.5" r="1.9"/><circle cx="75.7" cy="169.5" r="1.9"/><circle cx="76.9" cy="169.5" r="1.9"/><circle cx="78.1" cy="169.5" r="1.9"/><circle cx="79.3" cy="169.5" r="1.9"/><circle cx="80.7" cy="169.5" r="1.9"/><circle cx="82.0" cy="169.5" r="1.9"/><circle cx="83.0" cy="169.5" r="1.9"/><circle cx="83.7" cy="169.5" r="1.9"/><circle cx="85.4" cy="169.5" r="1.9"/><circle cx="86.2" cy="169.5" r="1.9"/><circle cx="87.5" cy="169.5" r="1.9"/><circle cx="88.4" cy="169.5" r="1.9"/><circle cx="89.5" cy="169.5" r="1.9"/><circle cx="91.0" cy="169.5" r="1.9"/><circle cx="92.2" cy="169.5" r="1.9"/><circle cx="93.4" cy="169.5" r="1.9"/><circle cx="94.1" cy="169.5" r="1.9"/><circle cx="95.7" cy="169.5" r="1.9"/><circle cx="96.1" cy="169.5" r="1.9"/><circle cx="97.6" cy="169.5" r="1.9"/><circle cx="99.0" cy="169.5" r="1.9"/><circle cx="99.9" cy="169.5" r="1.9"/><circle cx="100.7" cy="169.5" r="1.9"/><circle cx="102.2" cy="169.5" r="1.9"/><circle cx="103.5" cy="169.5" r="1.9"/><circle cx="104.7" cy="169.5" r="1.9"/><circle cx="105.6" cy="169.5" r="1.9"/><circle cx="106.4" cy="169.5" r="1.9"/><circle cx="108.2" cy="169.5" r="1.9"/><circle cx="108.6" cy="169.5" r="1.9"/><circle cx="110.2" cy="169.5" r="1.9"/><circle cx="111.0" cy="169.5" r="1.9"/><circle cx="112.6" cy="169.5" r="1.9"/><circle cx="113.2" cy="169.5" r="1.9"/><circle cx="114.7" cy="169.5" r="1.9"/><circle cx="116.0" cy="169.5" r="1.9"/><circle cx="116.5" cy="169.5" r="1.9"/><circle cx="118.3" cy="169.5" r="1.9"/><circle cx="119.4" cy="169.5" r="1.9"/><circle cx="120.1" cy="169.5" r="1.9"/><circle cx="121.4" cy="169.5" r="1.9"/><circle cx="122.7" cy="169.5" r="1.9"/><circle cx="123.9" cy="169.5" r="1.9"/><circle cx="124.9" cy="169.5" r="1.9"/><circle cx="125.9" cy="169.5" r="1.9"/><circle cx="127.4" cy="169.5" r="1.9"/><circle cx="128.4" cy="169.5" r="1.9"/><circle cx="129.1" cy="169.5" r="1.9"/><circle cx="130.9" cy="169.5" r="1.9"/><circle cx="131.8" cy="169.5" r="1.9"/><circle cx="132.7" cy="169.5" r="1.9"/><circle cx="133.9" cy="169.5" r="1.9"/><circle cx="135.4" cy="169.5" r="1.9"/><circle cx="136.4" cy="169.5" r="1.9"/><circle cx="137.1" cy="169.5" r="1.9"/><circle cx="138.5" cy="169.5" r="1.9"/><circle cx="139.8" cy="169.5" r="1.9"/><circle cx="140.5" cy="169.5" r="1.9"/><circle cx="142.0" cy="169.5" r="1.9"/><circle cx="142.9" cy="169.5" r="1.9"/><circle cx="144.2" cy="169.5" r="1.9"/><circle cx="145.1" cy="169.5" r="1.9"/><circle cx="146.2" cy="169.5" r="1.9"/><circle cx="147.7" cy="169.5" r="1.9"/><circle cx="148.6" cy="169.5" r="1.9"/><circle cx="149.6" cy="169.5" r="1.9"/><circle cx="151.2" cy="169.5" r="1.9"/><circle cx="152.2" cy="169.5" r="1.9"/><circle cx="153.0" cy="169.5" r="1.9"/><circle cx="154.2" cy="169.5" r="1.9"/><circle cx="155.9" cy="169.5" r="1.9"/><circle cx="156.6" cy="169.5" r="1.9"/><circle cx="157.7" cy="169.5" r="1.9"/><circle cx="159.2" cy="169.5" r="1.9"/><circle cx="160.0" cy="169.5" r="1.9"/><circle cx="161.6" cy="169.5" r="1.9"/><circle cx="162.3" cy="169.5" r="1.9"/><circle cx="163.8" cy="169.5" r="1.9"/><circle cx="165.0" cy="169.5" r="1.9"/><circle cx="165.9" cy="169.5" r="1.9"/><circle cx="166.7" cy="169.5" r="1.9"/><circle cx="168.4" cy="169.5" r="1.9"/><circle cx="169.5" cy="169.5" r="1.9"/><circle cx="170.2" cy="169.5" r="1.9"/><circle cx="171.8" cy="169.5" r="1.9"/><circle cx="172.9" cy="169.5" r="1.9"/><circle cx="174.1" cy="169.5" r="1.9"/><circle cx="174.7" cy="169.5" r="1.9"/><circle cx="175.8" cy="169.5" r="1.9"/><circle cx="176.8" cy="169.5" r="1.9"/><circle cx="178.3" cy="169.5" r="1.9"/><circle cx="179.1" cy="169.5" r="1.9"/><circle cx="180.3" cy="169.5" r="1.9"/><circle cx="181.3" cy="169.5" r="1.9"/><circle cx="183.5" cy="169.5" r="1.9"/><circle cx="52.1" cy="166.7" r="1.9"/><circle cx="55.8" cy="166.7" r="1.9"/><circle cx="57.6" cy="166.7" r="1.9"/><circle cx="59.9" cy="166.7" r="1.9"/><circle cx="61.3" cy="166.7" r="1.9"/><circle cx="63.6" cy="166.7" r="1.9"/><circle cx="65.0" cy="166.7" r="1.9"/><circle cx="66.1" cy="166.7" r="1.9"/><circle cx="67.1" cy="166.7" r="1.9"/><circle cx="67.8" cy="166.7" r="1.9"/><circle cx="68.9" cy="166.7" r="1.9"/><circle cx="70.7" cy="166.7" r="1.9"/><circle cx="71.2" cy="166.7" r="1.9"/><circle cx="72.6" cy="166.7" r="1.9"/><circle cx="73.5" cy="166.7" r="1.9"/><circle cx="75.0" cy="166.7" r="1.9"/><circle cx="75.7" cy="166.7" r="1.9"/><circle cx="77.0" cy="166.7" r="1.9"/><circle cx="78.3" cy="166.7" r="1.9"/><circle cx="79.7" cy="166.7" r="1.9"/><circle cx="80.4" cy="166.7" r="1.9"/><circle cx="81.9" cy="166.7" r="1.9"/><circle cx="82.6" cy="166.7" r="1.9"/><circle cx="83.9" cy="166.7" r="1.9"/><circle cx="85.2" cy="166.7" r="1.9"/><circle cx="86.1" cy="166.7" r="1.9"/><circle cx="87.1" cy="166.7" r="1.9"/><circle cx="88.6" cy="166.7" r="1.9"/><circle cx="89.9" cy="166.7" r="1.9"/><circle cx="90.6" cy="166.7" r="1.9"/><circle cx="91.9" cy="166.7" r="1.9"/><circle cx="92.8" cy="166.7" r="1.9"/><circle cx="94.4" cy="166.7" r="1.9"/><circle cx="95.2" cy="166.7" r="1.9"/><circle cx="96.8" cy="166.7" r="1.9"/><circle cx="97.8" cy="166.7" r="1.9"/><circle cx="98.9" cy="166.7" r="1.9"/><circle cx="99.6" cy="166.7" r="1.9"/><circle cx="101.2" cy="166.7" r="1.9"/><circle cx="101.9" cy="166.7" r="1.9"/><circle cx="103.4" cy="166.7" r="1.9"/><circle cx="104.1" cy="166.7" r="1.9"/><circle cx="105.4" cy="166.7" r="1.9"/><circle cx="106.6" cy="166.7" r="1.9"/><circle cx="108.0" cy="166.7" r="1.9"/><circle cx="108.9" cy="166.7" r="1.9"/><circle cx="110.0" cy="166.7" r="1.9"/><circle cx="111.1" cy="166.7" r="1.9"/><circle cx="112.2" cy="166.7" r="1.9"/><circle cx="113.8" cy="166.7" r="1.9"/><circle cx="114.3" cy="166.7" r="1.9"/><circle cx="115.6" cy="166.7" r="1.9"/><circle cx="116.9" cy="166.7" r="1.9"/><circle cx="117.9" cy="166.7" r="1.9"/><circle cx="119.3" cy="166.7" r="1.9"/><circle cx="120.2" cy="166.7" r="1.9"/><circle cx="121.4" cy="166.7" r="1.9"/><circle cx="122.7" cy="166.7" r="1.9"/><circle cx="123.7" cy="166.7" r="1.9"/><circle cx="125.1" cy="166.7" r="1.9"/><circle cx="125.9" cy="166.7" r="1.9"/><circle cx="126.8" cy="166.7" r="1.9"/><circle cx="128.2" cy="166.7" r="1.9"/><circle cx="129.7" cy="166.7" r="1.9"/><circle cx="130.9" cy="166.7" r="1.9"/><circle cx="131.4" cy="166.7" r="1.9"/><circle cx="133.0" cy="166.7" r="1.9"/><circle cx="134.0" cy="166.7" r="1.9"/><circle cx="134.9" cy="166.7" r="1.9"/><circle cx="136.1" cy="166.7" r="1.9"/><circle cx="137.2" cy="166.7" r="1.9"/><circle cx="138.7" cy="166.7" r="1.9"/><circle cx="139.7" cy="166.7" r="1.9"/><circle cx="140.5" cy="166.7" r="1.9"/><circle cx="141.8" cy="166.7" r="1.9"/><circle cx="142.9" cy="166.7" r="1.9"/><circle cx="144.3" cy="166.7" r="1.9"/><circle cx="145.0" cy="166.7" r="1.9"/><circle cx="146.2" cy="166.7" r="1.9"/><circle cx="147.4" cy="166.7" r="1.9"/><circle cx="148.7" cy="166.7" r="1.9"/><circle cx="149.7" cy="166.7" r="1.9"/><circle cx="151.1" cy="166.7" r="1.9"/><circle cx="152.5" cy="166.7" r="1.9"/><circle cx="153.6" cy="166.7" r="1.9"/><circle cx="154.1" cy="166.7" r="1.9"/><circle cx="155.8" cy="166.7" r="1.9"/><circle cx="156.9" cy="166.7" r="1.9"/><circle cx="157.5" cy="166.7" r="1.9"/><circle cx="158.8" cy="166.7" r="1.9"/><circle cx="160.3" cy="166.7" r="1.9"/><circle cx="161.5" cy="166.7" r="1.9"/><circle cx="162.3" cy="166.7" r="1.9"/><circle cx="163.3" cy="166.7" r="1.9"/><circle cx="164.6" cy="166.7" r="1.9"/><circle cx="165.5" cy="166.7" r="1.9"/><circle cx="167.2" cy="166.7" r="1.9"/><circle cx="168.0" cy="166.7" r="1.9"/><circle cx="169.5" cy="166.7" r="1.9"/><circle cx="170.7" cy="166.7" r="1.9"/><circle cx="171.5" cy="166.7" r="1.9"/><circle cx="172.4" cy="166.7" r="1.9"/><circle cx="173.8" cy="166.7" r="1.9"/><circle cx="175.0" cy="166.7" r="1.9"/><circle cx="175.8" cy="166.7" r="1.9"/><circle cx="177.2" cy="166.7" r="1.9"/><circle cx="178.1" cy="166.7" r="1.9"/><circle cx="179.6" cy="166.7" r="1.9"/><circle cx="180.9" cy="166.7" r="1.9"/><circle cx="181.6" cy="166.7" r="1.9"/><circle cx="183.5" cy="166.7" r="1.9"/><circle cx="46.2" cy="163.9" r="1.9"/><circle cx="49.6" cy="163.9" r="1.9"/><circle cx="57.7" cy="163.9" r="1.9"/><circle cx="58.8" cy="163.9" r="1.9"/><circle cx="60.0" cy="163.9" r="1.9"/><circle cx="61.2" cy="163.9" r="1.9"/><circle cx="62.6" cy="163.9" r="1.9"/><circle cx="63.2" cy="163.9" r="1.9"/><circle cx="64.5" cy="163.9" r="1.9"/><circle cx="65.8" cy="163.9" r="1.9"/><circle cx="66.7" cy="163.9" r="1.9"/><circle cx="68.0" cy="163.9" r="1.9"/><circle cx="69.2" cy="163.9" r="1.9"/><circle cx="70.2" cy="163.9" r="1.9"/><circle cx="71.4" cy="163.9" r="1.9"/><circle cx="72.8" cy="163.9" r="1.9"/><circle cx="73.5" cy="163.9" r="1.9"/><circle cx="75.1" cy="163.9" r="1.9"/><circle cx="76.0" cy="163.9" r="1.9"/><circle cx="77.2" cy="163.9" r="1.9"/><circle cx="78.1" cy="163.9" r="1.9"/><circle cx="79.6" cy="163.9" r="1.9"/><circle cx="80.3" cy="163.9" r="1.9"/><circle cx="81.5" cy="163.9" r="1.9"/><circle cx="82.9" cy="163.9" r="1.9"/><circle cx="83.7" cy="163.9" r="1.9"/><circle cx="85.1" cy="163.9" r="1.9"/><circle cx="85.9" cy="163.9" r="1.9"/><circle cx="87.0" cy="163.9" r="1.9"/><circle cx="88.2" cy="163.9" r="1.9"/><circle cx="89.5" cy="163.9" r="1.9"/><circle cx="90.6" cy="163.9" r="1.9"/><circle cx="91.7" cy="163.9" r="1.9"/><circle cx="92.8" cy="163.9" r="1.9"/><circle cx="94.2" cy="163.9" r="1.9"/><circle cx="95.6" cy="163.9" r="1.9"/><circle cx="96.5" cy="163.9" r="1.9"/><circle cx="97.8" cy="163.9" r="1.9"/><circle cx="98.4" cy="163.9" r="1.9"/><circle cx="99.5" cy="163.9" r="1.9"/><circle cx="100.7" cy="163.9" r="1.9"/><circle cx="101.9" cy="163.9" r="1.9"/><circle cx="103.0" cy="163.9" r="1.9"/><circle cx="104.6" cy="163.9" r="1.9"/><circle cx="105.6" cy="163.9" r="1.9"/><circle cx="106.5" cy="163.9" r="1.9"/><circle cx="107.5" cy="163.9" r="1.9"/><circle cx="108.6" cy="163.9" r="1.9"/><circle cx="109.8" cy="163.9" r="1.9"/><circle cx="111.2" cy="163.9" r="1.9"/><circle cx="112.4" cy="163.9" r="1.9"/><circle cx="113.6" cy="163.9" r="1.9"/><circle cx="114.5" cy="163.9" r="1.9"/><circle cx="116.1" cy="163.9" r="1.9"/><circle cx="116.9" cy="163.9" r="1.9"/><circle cx="117.7" cy="163.9" r="1.9"/><circle cx="119.4" cy="163.9" r="1.9"/><circle cx="120.0" cy="163.9" r="1.9"/><circle cx="121.1" cy="163.9" r="1.9"/><circle cx="122.3" cy="163.9" r="1.9"/><circle cx="123.8" cy="163.9" r="1.9"/><circle cx="125.1" cy="163.9" r="1.9"/><circle cx="126.0" cy="163.9" r="1.9"/><circle cx="127.0" cy="163.9" r="1.9"/><circle cx="127.9" cy="163.9" r="1.9"/><circle cx="129.2" cy="163.9" r="1.9"/><circle cx="130.3" cy="163.9" r="1.9"/><circle cx="131.8" cy="163.9" r="1.9"/><circle cx="132.6" cy="163.9" r="1.9"/><circle cx="134.0" cy="163.9" r="1.9"/><circle cx="134.7" cy="163.9" r="1.9"/><circle cx="136.0" cy="163.9" r="1.9"/><circle cx="137.5" cy="163.9" r="1.9"/><circle cx="138.8" cy="163.9" r="1.9"/><circle cx="139.5" cy="163.9" r="1.9"/><circle cx="140.6" cy="163.9" r="1.9"/><circle cx="142.2" cy="163.9" r="1.9"/><circle cx="143.0" cy="163.9" r="1.9"/><circle cx="143.9" cy="163.9" r="1.9"/><circle cx="145.7" cy="163.9" r="1.9"/><circle cx="146.6" cy="163.9" r="1.9"/><circle cx="147.4" cy="163.9" r="1.9"/><circle cx="148.9" cy="163.9" r="1.9"/><circle cx="149.6" cy="163.9" r="1.9"/><circle cx="150.7" cy="163.9" r="1.9"/><circle cx="152.4" cy="163.9" r="1.9"/><circle cx="153.3" cy="163.9" r="1.9"/><circle cx="154.6" cy="163.9" r="1.9"/><circle cx="155.9" cy="163.9" r="1.9"/><circle cx="156.4" cy="163.9" r="1.9"/><circle cx="157.9" cy="163.9" r="1.9"/><circle cx="158.9" cy="163.9" r="1.9"/><circle cx="159.9" cy="163.9" r="1.9"/><circle cx="161.0" cy="163.9" r="1.9"/><circle cx="162.2" cy="163.9" r="1.9"/><circle cx="163.8" cy="163.9" r="1.9"/><circle cx="164.4" cy="163.9" r="1.9"/><circle cx="165.9" cy="163.9" r="1.9"/><circle cx="166.9" cy="163.9" r="1.9"/><circle cx="167.9" cy="163.9" r="1.9"/><circle cx="169.4" cy="163.9" r="1.9"/><circle cx="170.3" cy="163.9" r="1.9"/><circle cx="171.3" cy="163.9" r="1.9"/><circle cx="172.5" cy="163.9" r="1.9"/><circle cx="173.9" cy="163.9" r="1.9"/><circle cx="175.0" cy="163.9" r="1.9"/><circle cx="175.7" cy="163.9" r="1.9"/><circle cx="177.1" cy="163.9" r="1.9"/><circle cx="178.1" cy="163.9" r="1.9"/><circle cx="179.7" cy="163.9" r="1.9"/><circle cx="180.3" cy="163.9" r="1.9"/><circle cx="181.9" cy="163.9" r="1.9"/><circle cx="183.5" cy="163.9" r="1.9"/><circle cx="51.3" cy="161.1" r="1.9"/><circle cx="54.4" cy="161.1" r="1.9"/><circle cx="57.9" cy="161.1" r="1.9"/><circle cx="59.0" cy="161.1" r="1.9"/><circle cx="59.8" cy="161.1" r="1.9"/><circle cx="61.5" cy="161.1" r="1.9"/><circle cx="62.2" cy="161.1" r="1.9"/><circle cx="63.5" cy="161.1" r="1.9"/><circle cx="65.5" cy="161.1" r="1.9"/><circle cx="66.9" cy="161.1" r="1.9"/><circle cx="68.0" cy="161.1" r="1.9"/><circle cx="69.1" cy="161.1" r="1.9"/><circle cx="70.0" cy="161.1" r="1.9"/><circle cx="71.8" cy="161.1" r="1.9"/><circle cx="72.6" cy="161.1" r="1.9"/><circle cx="74.7" cy="161.1" r="1.9"/><circle cx="76.0" cy="161.1" r="1.9"/><circle cx="77.1" cy="161.1" r="1.9"/><circle cx="78.4" cy="161.1" r="1.9"/><circle cx="79.7" cy="161.1" r="1.9"/><circle cx="80.4" cy="161.1" r="1.9"/><circle cx="81.5" cy="161.1" r="1.9"/><circle cx="82.6" cy="161.1" r="1.9"/><circle cx="84.0" cy="161.1" r="1.9"/><circle cx="84.8" cy="161.1" r="1.9"/><circle cx="85.9" cy="161.1" r="1.9"/><circle cx="87.3" cy="161.1" r="1.9"/><circle cx="88.8" cy="161.1" r="1.9"/><circle cx="89.7" cy="161.1" r="1.9"/><circle cx="90.7" cy="161.1" r="1.9"/><circle cx="91.7" cy="161.1" r="1.9"/><circle cx="92.7" cy="161.1" r="1.9"/><circle cx="93.8" cy="161.1" r="1.9"/><circle cx="95.5" cy="161.1" r="1.9"/><circle cx="96.5" cy="161.1" r="1.9"/><circle cx="97.3" cy="161.1" r="1.9"/><circle cx="98.5" cy="161.1" r="1.9"/><circle cx="100.0" cy="161.1" r="1.9"/><circle cx="101.3" cy="161.1" r="1.9"/><circle cx="102.2" cy="161.1" r="1.9"/><circle cx="103.3" cy="161.1" r="1.9"/><circle cx="104.1" cy="161.1" r="1.9"/><circle cx="105.8" cy="161.1" r="1.9"/><circle cx="106.7" cy="161.1" r="1.9"/><circle cx="107.7" cy="161.1" r="1.9"/><circle cx="109.0" cy="161.1" r="1.9"/><circle cx="110.4" cy="161.1" r="1.9"/><circle cx="111.6" cy="161.1" r="1.9"/><circle cx="112.2" cy="161.1" r="1.9"/><circle cx="113.2" cy="161.1" r="1.9"/><circle cx="114.4" cy="161.1" r="1.9"/><circle cx="115.9" cy="161.1" r="1.9"/><circle cx="116.8" cy="161.1" r="1.9"/><circle cx="117.9" cy="161.1" r="1.9"/><circle cx="118.8" cy="161.1" r="1.9"/><circle cx="120.4" cy="161.1" r="1.9"/><circle cx="121.7" cy="161.1" r="1.9"/><circle cx="122.5" cy="161.1" r="1.9"/><circle cx="123.6" cy="161.1" r="1.9"/><circle cx="124.7" cy="161.1" r="1.9"/><circle cx="126.1" cy="161.1" r="1.9"/><circle cx="127.4" cy="161.1" r="1.9"/><circle cx="128.4" cy="161.1" r="1.9"/><circle cx="129.6" cy="161.1" r="1.9"/><circle cx="130.6" cy="161.1" r="1.9"/><circle cx="131.5" cy="161.1" r="1.9"/><circle cx="132.5" cy="161.1" r="1.9"/><circle cx="133.8" cy="161.1" r="1.9"/><circle cx="134.9" cy="161.1" r="1.9"/><circle cx="136.2" cy="161.1" r="1.9"/><circle cx="137.5" cy="161.1" r="1.9"/><circle cx="138.5" cy="161.1" r="1.9"/><circle cx="139.6" cy="161.1" r="1.9"/><circle cx="140.6" cy="161.1" r="1.9"/><circle cx="141.9" cy="161.1" r="1.9"/><circle cx="142.7" cy="161.1" r="1.9"/><circle cx="144.1" cy="161.1" r="1.9"/><circle cx="145.3" cy="161.1" r="1.9"/><circle cx="146.2" cy="161.1" r="1.9"/><circle cx="147.6" cy="161.1" r="1.9"/><circle cx="148.4" cy="161.1" r="1.9"/><circle cx="149.8" cy="161.1" r="1.9"/><circle cx="150.7" cy="161.1" r="1.9"/><circle cx="152.3" cy="161.1" r="1.9"/><circle cx="153.1" cy="161.1" r="1.9"/><circle cx="154.3" cy="161.1" r="1.9"/><circle cx="155.4" cy="161.1" r="1.9"/><circle cx="156.3" cy="161.1" r="1.9"/><circle cx="157.5" cy="161.1" r="1.9"/><circle cx="158.7" cy="161.1" r="1.9"/><circle cx="160.4" cy="161.1" r="1.9"/><circle cx="161.5" cy="161.1" r="1.9"/><circle cx="162.0" cy="161.1" r="1.9"/><circle cx="163.8" cy="161.1" r="1.9"/><circle cx="164.9" cy="161.1" r="1.9"/><circle cx="165.9" cy="161.1" r="1.9"/><circle cx="167.2" cy="161.1" r="1.9"/><circle cx="167.7" cy="161.1" r="1.9"/><circle cx="169.0" cy="161.1" r="1.9"/><circle cx="170.0" cy="161.1" r="1.9"/><circle cx="171.4" cy="161.1" r="1.9"/><circle cx="172.6" cy="161.1" r="1.9"/><circle cx="173.4" cy="161.1" r="1.9"/><circle cx="174.9" cy="161.1" r="1.9"/><circle cx="176.3" cy="161.1" r="1.9"/><circle cx="177.1" cy="161.1" r="1.9"/><circle cx="178.6" cy="161.1" r="1.9"/><circle cx="179.2" cy="161.1" r="1.9"/><circle cx="180.2" cy="161.1" r="1.9"/><circle cx="181.7" cy="161.1" r="1.9"/><circle cx="183.5" cy="161.1" r="1.9"/><circle cx="45.7" cy="158.3" r="1.9"/><circle cx="48.6" cy="158.3" r="1.9"/><circle cx="53.5" cy="158.3" r="1.9"/><circle cx="54.3" cy="158.3" r="1.9"/><circle cx="55.8" cy="158.3" r="1.9"/><circle cx="56.8" cy="158.3" r="1.9"/><circle cx="58.0" cy="158.3" r="1.9"/><circle cx="58.9" cy="158.3" r="1.9"/><circle cx="61.2" cy="158.3" r="1.9"/><circle cx="63.5" cy="158.3" r="1.9"/><circle cx="64.4" cy="158.3" r="1.9"/><circle cx="65.7" cy="158.3" r="1.9"/><circle cx="67.2" cy="158.3" r="1.9"/><circle cx="67.9" cy="158.3" r="1.9"/><circle cx="69.3" cy="158.3" r="1.9"/><circle cx="70.5" cy="158.3" r="1.9"/><circle cx="71.2" cy="158.3" r="1.9"/><circle cx="72.4" cy="158.3" r="1.9"/><circle cx="74.0" cy="158.3" r="1.9"/><circle cx="75.2" cy="158.3" r="1.9"/><circle cx="75.7" cy="158.3" r="1.9"/><circle cx="77.4" cy="158.3" r="1.9"/><circle cx="78.5" cy="158.3" r="1.9"/><circle cx="79.6" cy="158.3" r="1.9"/><circle cx="80.4" cy="158.3" r="1.9"/><circle cx="81.9" cy="158.3" r="1.9"/><circle cx="82.9" cy="158.3" r="1.9"/><circle cx="84.1" cy="158.3" r="1.9"/><circle cx="84.8" cy="158.3" r="1.9"/><circle cx="86.5" cy="158.3" r="1.9"/><circle cx="87.6" cy="158.3" r="1.9"/><circle cx="88.5" cy="158.3" r="1.9"/><circle cx="89.6" cy="158.3" r="1.9"/><circle cx="90.6" cy="158.3" r="1.9"/><circle cx="91.8" cy="158.3" r="1.9"/><circle cx="92.7" cy="158.3" r="1.9"/><circle cx="93.8" cy="158.3" r="1.9"/><circle cx="95.6" cy="158.3" r="1.9"/><circle cx="96.7" cy="158.3" r="1.9"/><circle cx="97.3" cy="158.3" r="1.9"/><circle cx="98.5" cy="158.3" r="1.9"/><circle cx="100.2" cy="158.3" r="1.9"/><circle cx="101.2" cy="158.3" r="1.9"/><circle cx="102.4" cy="158.3" r="1.9"/><circle cx="103.1" cy="158.3" r="1.9"/><circle cx="104.1" cy="158.3" r="1.9"/><circle cx="105.8" cy="158.3" r="1.9"/><circle cx="106.6" cy="158.3" r="1.9"/><circle cx="108.1" cy="158.3" r="1.9"/><circle cx="109.1" cy="158.3" r="1.9"/><circle cx="110.2" cy="158.3" r="1.9"/><circle cx="111.5" cy="158.3" r="1.9"/><circle cx="112.2" cy="158.3" r="1.9"/><circle cx="113.2" cy="158.3" r="1.9"/><circle cx="114.4" cy="158.3" r="1.9"/><circle cx="115.4" cy="158.3" r="1.9"/><circle cx="117.1" cy="158.3" r="1.9"/><circle cx="118.4" cy="158.3" r="1.9"/><circle cx="118.9" cy="158.3" r="1.9"/><circle cx="120.2" cy="158.3" r="1.9"/><circle cx="121.1" cy="158.3" r="1.9"/><circle cx="122.7" cy="158.3" r="1.9"/><circle cx="123.8" cy="158.3" r="1.9"/><circle cx="124.9" cy="158.3" r="1.9"/><circle cx="125.7" cy="158.3" r="1.9"/><circle cx="127.2" cy="158.3" r="1.9"/><circle cx="128.0" cy="158.3" r="1.9"/><circle cx="129.3" cy="158.3" r="1.9"/><circle cx="130.9" cy="158.3" r="1.9"/><circle cx="131.4" cy="158.3" r="1.9"/><circle cx="132.6" cy="158.3" r="1.9"/><circle cx="133.6" cy="158.3" r="1.9"/><circle cx="134.8" cy="158.3" r="1.9"/><circle cx="136.3" cy="158.3" r="1.9"/><circle cx="137.6" cy="158.3" r="1.9"/><circle cx="138.3" cy="158.3" r="1.9"/><circle cx="140.0" cy="158.3" r="1.9"/><circle cx="140.8" cy="158.3" r="1.9"/><circle cx="141.8" cy="158.3" r="1.9"/><circle cx="142.7" cy="158.3" r="1.9"/><circle cx="144.0" cy="158.3" r="1.9"/><circle cx="145.6" cy="158.3" r="1.9"/><circle cx="146.3" cy="158.3" r="1.9"/><circle cx="147.7" cy="158.3" r="1.9"/><circle cx="148.5" cy="158.3" r="1.9"/><circle cx="149.8" cy="158.3" r="1.9"/><circle cx="150.9" cy="158.3" r="1.9"/><circle cx="152.4" cy="158.3" r="1.9"/><circle cx="153.6" cy="158.3" r="1.9"/><circle cx="154.3" cy="158.3" r="1.9"/><circle cx="155.4" cy="158.3" r="1.9"/><circle cx="156.5" cy="158.3" r="1.9"/><circle cx="157.7" cy="158.3" r="1.9"/><circle cx="158.9" cy="158.3" r="1.9"/><circle cx="159.8" cy="158.3" r="1.9"/><circle cx="161.6" cy="158.3" r="1.9"/><circle cx="162.1" cy="158.3" r="1.9"/><circle cx="163.3" cy="158.3" r="1.9"/><circle cx="164.7" cy="158.3" r="1.9"/><circle cx="165.5" cy="158.3" r="1.9"/><circle cx="166.9" cy="158.3" r="1.9"/><circle cx="167.7" cy="158.3" r="1.9"/><circle cx="169.2" cy="158.3" r="1.9"/><circle cx="170.6" cy="158.3" r="1.9"/><circle cx="171.3" cy="158.3" r="1.9"/><circle cx="172.4" cy="158.3" r="1.9"/><circle cx="173.5" cy="158.3" r="1.9"/><circle cx="174.5" cy="158.3" r="1.9"/><circle cx="175.7" cy="158.3" r="1.9"/><circle cx="177.2" cy="158.3" r="1.9"/><circle cx="178.4" cy="158.3" r="1.9"/><circle cx="179.7" cy="158.3" r="1.9"/><circle cx="180.5" cy="158.3" r="1.9"/><circle cx="181.4" cy="158.3" r="1.9"/><circle cx="183.5" cy="158.3" r="1.9"/><circle cx="40.8" cy="155.4" r="1.9"/><circle cx="43.4" cy="155.4" r="1.9"/><circle cx="55.6" cy="155.4" r="1.9"/><circle cx="59.2" cy="155.4" r="1.9"/><circle cx="61.1" cy="155.4" r="1.9"/><circle cx="62.7" cy="155.4" r="1.9"/><circle cx="63.6" cy="155.4" r="1.9"/><circle cx="66.1" cy="155.4" r="1.9"/><circle cx="66.6" cy="155.4" r="1.9"/><circle cx="68.2" cy="155.4" r="1.9"/><circle cx="69.4" cy="155.4" r="1.9"/><circle cx="70.5" cy="155.4" r="1.9"/><circle cx="71.5" cy="155.4" r="1.9"/><circle cx="72.5" cy="155.4" r="1.9"/><circle cx="74.0" cy="155.4" r="1.9"/><circle cx="75.7" cy="155.4" r="1.9"/><circle cx="77.1" cy="155.4" r="1.9"/><circle cx="79.3" cy="155.4" r="1.9"/><circle cx="80.6" cy="155.4" r="1.9"/><circle cx="82.0" cy="155.4" r="1.9"/><circle cx="83.1" cy="155.4" r="1.9"/><circle cx="83.9" cy="155.4" r="1.9"/><circle cx="85.0" cy="155.4" r="1.9"/><circle cx="86.2" cy="155.4" r="1.9"/><circle cx="87.6" cy="155.4" r="1.9"/><circle cx="88.8" cy="155.4" r="1.9"/><circle cx="89.9" cy="155.4" r="1.9"/><circle cx="90.4" cy="155.4" r="1.9"/><circle cx="91.8" cy="155.4" r="1.9"/><circle cx="93.0" cy="155.4" r="1.9"/><circle cx="94.0" cy="155.4" r="1.9"/><circle cx="95.6" cy="155.4" r="1.9"/><circle cx="96.4" cy="155.4" r="1.9"/><circle cx="97.6" cy="155.4" r="1.9"/><circle cx="98.7" cy="155.4" r="1.9"/><circle cx="100.1" cy="155.4" r="1.9"/><circle cx="101.1" cy="155.4" r="1.9"/><circle cx="102.0" cy="155.4" r="1.9"/><circle cx="103.5" cy="155.4" r="1.9"/><circle cx="104.1" cy="155.4" r="1.9"/><circle cx="105.9" cy="155.4" r="1.9"/><circle cx="106.8" cy="155.4" r="1.9"/><circle cx="107.9" cy="155.4" r="1.9"/><circle cx="109.1" cy="155.4" r="1.9"/><circle cx="109.9" cy="155.4" r="1.9"/><circle cx="111.5" cy="155.4" r="1.9"/><circle cx="112.2" cy="155.4" r="1.9"/><circle cx="113.7" cy="155.4" r="1.9"/><circle cx="114.9" cy="155.4" r="1.9"/><circle cx="116.0" cy="155.4" r="1.9"/><circle cx="117.2" cy="155.4" r="1.9"/><circle cx="117.9" cy="155.4" r="1.9"/><circle cx="119.2" cy="155.4" r="1.9"/><circle cx="120.5" cy="155.4" r="1.9"/><circle cx="121.2" cy="155.4" r="1.9"/><circle cx="122.7" cy="155.4" r="1.9"/><circle cx="123.4" cy="155.4" r="1.9"/><circle cx="124.7" cy="155.4" r="1.9"/><circle cx="125.8" cy="155.4" r="1.9"/><circle cx="126.9" cy="155.4" r="1.9"/><circle cx="128.0" cy="155.4" r="1.9"/><circle cx="129.4" cy="155.4" r="1.9"/><circle cx="130.8" cy="155.4" r="1.9"/><circle cx="131.4" cy="155.4" r="1.9"/><circle cx="132.9" cy="155.4" r="1.9"/><circle cx="134.0" cy="155.4" r="1.9"/><circle cx="135.2" cy="155.4" r="1.9"/><circle cx="135.9" cy="155.4" r="1.9"/><circle cx="137.0" cy="155.4" r="1.9"/><circle cx="138.6" cy="155.4" r="1.9"/><circle cx="139.3" cy="155.4" r="1.9"/><circle cx="140.5" cy="155.4" r="1.9"/><circle cx="141.8" cy="155.4" r="1.9"/><circle cx="142.9" cy="155.4" r="1.9"/><circle cx="144.1" cy="155.4" r="1.9"/><circle cx="145.1" cy="155.4" r="1.9"/><circle cx="146.7" cy="155.4" r="1.9"/><circle cx="147.4" cy="155.4" r="1.9"/><circle cx="149.0" cy="155.4" r="1.9"/><circle cx="149.8" cy="155.4" r="1.9"/><circle cx="150.8" cy="155.4" r="1.9"/><circle cx="152.0" cy="155.4" r="1.9"/><circle cx="153.0" cy="155.4" r="1.9"/><circle cx="154.2" cy="155.4" r="1.9"/><circle cx="155.2" cy="155.4" r="1.9"/><circle cx="156.9" cy="155.4" r="1.9"/><circle cx="157.8" cy="155.4" r="1.9"/><circle cx="159.0" cy="155.4" r="1.9"/><circle cx="160.4" cy="155.4" r="1.9"/><circle cx="161.5" cy="155.4" r="1.9"/><circle cx="162.5" cy="155.4" r="1.9"/><circle cx="163.5" cy="155.4" r="1.9"/><circle cx="164.7" cy="155.4" r="1.9"/><circle cx="165.5" cy="155.4" r="1.9"/><circle cx="166.7" cy="155.4" r="1.9"/><circle cx="167.9" cy="155.4" r="1.9"/><circle cx="169.5" cy="155.4" r="1.9"/><circle cx="170.2" cy="155.4" r="1.9"/><circle cx="171.1" cy="155.4" r="1.9"/><circle cx="172.3" cy="155.4" r="1.9"/><circle cx="174.1" cy="155.4" r="1.9"/><circle cx="174.9" cy="155.4" r="1.9"/><circle cx="175.7" cy="155.4" r="1.9"/><circle cx="176.9" cy="155.4" r="1.9"/><circle cx="178.5" cy="155.4" r="1.9"/><circle cx="179.2" cy="155.4" r="1.9"/><circle cx="180.3" cy="155.4" r="1.9"/><circle cx="181.5" cy="155.4" r="1.9"/><circle cx="183.5" cy="155.4" r="1.9"/><circle cx="44.3" cy="152.6" r="1.9"/><circle cx="49.5" cy="152.6" r="1.9"/><circle cx="60.3" cy="152.6" r="1.9"/><circle cx="63.8" cy="152.6" r="1.9"/><circle cx="64.8" cy="152.6" r="1.9"/><circle cx="67.2" cy="152.6" r="1.9"/><circle cx="69.0" cy="152.6" r="1.9"/><circle cx="70.1" cy="152.6" r="1.9"/><circle cx="71.6" cy="152.6" r="1.9"/><circle cx="72.7" cy="152.6" r="1.9"/><circle cx="73.6" cy="152.6" r="1.9"/><circle cx="75.2" cy="152.6" r="1.9"/><circle cx="75.9" cy="152.6" r="1.9"/><circle cx="77.5" cy="152.6" r="1.9"/><circle cx="78.6" cy="152.6" r="1.9"/><circle cx="79.3" cy="152.6" r="1.9"/><circle cx="80.5" cy="152.6" r="1.9"/><circle cx="81.6" cy="152.6" r="1.9"/><circle cx="82.8" cy="152.6" r="1.9"/><circle cx="84.0" cy="152.6" r="1.9"/><circle cx="85.4" cy="152.6" r="1.9"/><circle cx="86.5" cy="152.6" r="1.9"/><circle cx="87.6" cy="152.6" r="1.9"/><circle cx="88.6" cy="152.6" r="1.9"/><circle cx="89.6" cy="152.6" r="1.9"/><circle cx="91.0" cy="152.6" r="1.9"/><circle cx="91.9" cy="152.6" r="1.9"/><circle cx="92.7" cy="152.6" r="1.9"/><circle cx="93.9" cy="152.6" r="1.9"/><circle cx="95.2" cy="152.6" r="1.9"/><circle cx="96.1" cy="152.6" r="1.9"/><circle cx="97.8" cy="152.6" r="1.9"/><circle cx="98.5" cy="152.6" r="1.9"/><circle cx="99.7" cy="152.6" r="1.9"/><circle cx="100.8" cy="152.6" r="1.9"/><circle cx="102.1" cy="152.6" r="1.9"/><circle cx="103.1" cy="152.6" r="1.9"/><circle cx="104.3" cy="152.6" r="1.9"/><circle cx="105.6" cy="152.6" r="1.9"/><circle cx="106.8" cy="152.6" r="1.9"/><circle cx="107.6" cy="152.6" r="1.9"/><circle cx="109.1" cy="152.6" r="1.9"/><circle cx="110.1" cy="152.6" r="1.9"/><circle cx="111.5" cy="152.6" r="1.9"/><circle cx="112.7" cy="152.6" r="1.9"/><circle cx="113.6" cy="152.6" r="1.9"/><circle cx="114.4" cy="152.6" r="1.9"/><circle cx="115.6" cy="152.6" r="1.9"/><circle cx="116.9" cy="152.6" r="1.9"/><circle cx="117.9" cy="152.6" r="1.9"/><circle cx="118.8" cy="152.6" r="1.9"/><circle cx="120.2" cy="152.6" r="1.9"/><circle cx="121.3" cy="152.6" r="1.9"/><circle cx="122.4" cy="152.6" r="1.9"/><circle cx="123.9" cy="152.6" r="1.9"/><circle cx="125.0" cy="152.6" r="1.9"/><circle cx="125.9" cy="152.6" r="1.9"/><circle cx="126.9" cy="152.6" r="1.9"/><circle cx="128.2" cy="152.6" r="1.9"/><circle cx="129.2" cy="152.6" r="1.9"/><circle cx="130.7" cy="152.6" r="1.9"/><circle cx="131.9" cy="152.6" r="1.9"/><circle cx="133.0" cy="152.6" r="1.9"/><circle cx="134.1" cy="152.6" r="1.9"/><circle cx="135.2" cy="152.6" r="1.9"/><circle cx="136.1" cy="152.6" r="1.9"/><circle cx="137.7" cy="152.6" r="1.9"/><circle cx="138.3" cy="152.6" r="1.9"/><circle cx="139.8" cy="152.6" r="1.9"/><circle cx="140.4" cy="152.6" r="1.9"/><circle cx="141.7" cy="152.6" r="1.9"/><circle cx="142.8" cy="152.6" r="1.9"/><circle cx="144.4" cy="152.6" r="1.9"/><circle cx="145.5" cy="152.6" r="1.9"/><circle cx="146.4" cy="152.6" r="1.9"/><circle cx="147.9" cy="152.6" r="1.9"/><circle cx="148.4" cy="152.6" r="1.9"/><circle cx="150.1" cy="152.6" r="1.9"/><circle cx="151.1" cy="152.6" r="1.9"/><circle cx="152.5" cy="152.6" r="1.9"/><circle cx="153.3" cy="152.6" r="1.9"/><circle cx="154.2" cy="152.6" r="1.9"/><circle cx="155.6" cy="152.6" r="1.9"/><circle cx="156.9" cy="152.6" r="1.9"/><circle cx="157.7" cy="152.6" r="1.9"/><circle cx="158.7" cy="152.6" r="1.9"/><circle cx="160.4" cy="152.6" r="1.9"/><circle cx="161.2" cy="152.6" r="1.9"/><circle cx="162.6" cy="152.6" r="1.9"/><circle cx="163.7" cy="152.6" r="1.9"/><circle cx="164.6" cy="152.6" r="1.9"/><circle cx="166.1" cy="152.6" r="1.9"/><circle cx="166.9" cy="152.6" r="1.9"/><circle cx="167.7" cy="152.6" r="1.9"/><circle cx="169.4" cy="152.6" r="1.9"/><circle cx="170.3" cy="152.6" r="1.9"/><circle cx="171.3" cy="152.6" r="1.9"/><circle cx="172.6" cy="152.6" r="1.9"/><circle cx="173.8" cy="152.6" r="1.9"/><circle cx="174.6" cy="152.6" r="1.9"/><circle cx="175.7" cy="152.6" r="1.9"/><circle cx="177.5" cy="152.6" r="1.9"/><circle cx="178.0" cy="152.6" r="1.9"/><circle cx="179.5" cy="152.6" r="1.9"/><circle cx="180.8" cy="152.6" r="1.9"/><circle cx="181.5" cy="152.6" r="1.9"/><circle cx="183.5" cy="152.6" r="1.9"/><circle cx="40.4" cy="149.8" r="1.9"/><circle cx="46.4" cy="149.8" r="1.9"/><circle cx="56.7" cy="149.8" r="1.9"/><circle cx="63.7" cy="149.8" r="1.9"/><circle cx="66.6" cy="149.8" r="1.9"/><circle cx="71.7" cy="149.8" r="1.9"/><circle cx="74.0" cy="149.8" r="1.9"/><circle cx="75.7" cy="149.8" r="1.9"/><circle cx="77.2" cy="149.8" r="1.9"/><circle cx="78.3" cy="149.8" r="1.9"/><circle cx="79.6" cy="149.8" r="1.9"/><circle cx="80.4" cy="149.8" r="1.9"/><circle cx="81.9" cy="149.8" r="1.9"/><circle cx="82.9" cy="149.8" r="1.9"/><circle cx="84.0" cy="149.8" r="1.9"/><circle cx="84.8" cy="149.8" r="1.9"/><circle cx="86.2" cy="149.8" r="1.9"/><circle cx="87.6" cy="149.8" r="1.9"/><circle cx="88.6" cy="149.8" r="1.9"/><circle cx="89.5" cy="149.8" r="1.9"/><circle cx="90.6" cy="149.8" r="1.9"/><circle cx="91.8" cy="149.8" r="1.9"/><circle cx="93.4" cy="149.8" r="1.9"/><circle cx="94.1" cy="149.8" r="1.9"/><circle cx="95.5" cy="149.8" r="1.9"/><circle cx="96.5" cy="149.8" r="1.9"/><circle cx="97.3" cy="149.8" r="1.9"/><circle cx="98.5" cy="149.8" r="1.9"/><circle cx="99.9" cy="149.8" r="1.9"/><circle cx="101.3" cy="149.8" r="1.9"/><circle cx="102.1" cy="149.8" r="1.9"/><circle cx="103.6" cy="149.8" r="1.9"/><circle cx="104.7" cy="149.8" r="1.9"/><circle cx="105.7" cy="149.8" r="1.9"/><circle cx="106.7" cy="149.8" r="1.9"/><circle cx="108.1" cy="149.8" r="1.9"/><circle cx="108.7" cy="149.8" r="1.9"/><circle cx="109.8" cy="149.8" r="1.9"/><circle cx="111.1" cy="149.8" r="1.9"/><circle cx="112.6" cy="149.8" r="1.9"/><circle cx="113.4" cy="149.8" r="1.9"/><circle cx="115.0" cy="149.8" r="1.9"/><circle cx="115.9" cy="149.8" r="1.9"/><circle cx="116.8" cy="149.8" r="1.9"/><circle cx="117.8" cy="149.8" r="1.9"/><circle cx="119.4" cy="149.8" r="1.9"/><circle cx="120.2" cy="149.8" r="1.9"/><circle cx="121.2" cy="149.8" r="1.9"/><circle cx="122.5" cy="149.8" r="1.9"/><circle cx="123.8" cy="149.8" r="1.9"/><circle cx="124.6" cy="149.8" r="1.9"/><circle cx="125.9" cy="149.8" r="1.9"/><circle cx="127.4" cy="149.8" r="1.9"/><circle cx="128.0" cy="149.8" r="1.9"/><circle cx="129.2" cy="149.8" r="1.9"/><circle cx="130.4" cy="149.8" r="1.9"/><circle cx="131.5" cy="149.8" r="1.9"/><circle cx="132.6" cy="149.8" r="1.9"/><circle cx="133.7" cy="149.8" r="1.9"/><circle cx="134.8" cy="149.8" r="1.9"/><circle cx="136.5" cy="149.8" r="1.9"/><circle cx="137.3" cy="149.8" r="1.9"/><circle cx="138.7" cy="149.8" r="1.9"/><circle cx="139.9" cy="149.8" r="1.9"/><circle cx="141.0" cy="149.8" r="1.9"/><circle cx="142.1" cy="149.8" r="1.9"/><circle cx="142.7" cy="149.8" r="1.9"/><circle cx="143.8" cy="149.8" r="1.9"/><circle cx="145.4" cy="149.8" r="1.9"/><circle cx="146.1" cy="149.8" r="1.9"/><circle cx="147.5" cy="149.8" r="1.9"/><circle cx="148.6" cy="149.8" r="1.9"/><circle cx="149.6" cy="149.8" r="1.9"/><circle cx="150.7" cy="149.8" r="1.9"/><circle cx="152.0" cy="149.8" r="1.9"/><circle cx="153.6" cy="149.8" r="1.9"/><circle cx="154.7" cy="149.8" r="1.9"/><circle cx="155.8" cy="149.8" r="1.9"/><circle cx="156.5" cy="149.8" r="1.9"/><circle cx="157.5" cy="149.8" r="1.9"/><circle cx="159.3" cy="149.8" r="1.9"/><circle cx="160.3" cy="149.8" r="1.9"/><circle cx="160.9" cy="149.8" r="1.9"/><circle cx="162.1" cy="149.8" r="1.9"/><circle cx="163.2" cy="149.8" r="1.9"/><circle cx="164.5" cy="149.8" r="1.9"/><circle cx="166.1" cy="149.8" r="1.9"/><circle cx="167.1" cy="149.8" r="1.9"/><circle cx="168.2" cy="149.8" r="1.9"/><circle cx="169.2" cy="149.8" r="1.9"/><circle cx="170.1" cy="149.8" r="1.9"/><circle cx="171.3" cy="149.8" r="1.9"/><circle cx="172.6" cy="149.8" r="1.9"/><circle cx="174.0" cy="149.8" r="1.9"/><circle cx="174.6" cy="149.8" r="1.9"/><circle cx="176.3" cy="149.8" r="1.9"/><circle cx="176.9" cy="149.8" r="1.9"/><circle cx="178.5" cy="149.8" r="1.9"/><circle cx="179.6" cy="149.8" r="1.9"/><circle cx="180.5" cy="149.8" r="1.9"/><circle cx="181.8" cy="149.8" r="1.9"/><circle cx="183.5" cy="149.8" r="1.9"/><circle cx="40.0" cy="147.0" r="1.9"/><circle cx="43.4" cy="147.0" r="1.9"/><circle cx="44.3" cy="147.0" r="1.9"/><circle cx="47.3" cy="147.0" r="1.9"/><circle cx="48.9" cy="147.0" r="1.9"/><circle cx="63.7" cy="147.0" r="1.9"/><circle cx="66.6" cy="147.0" r="1.9"/><circle cx="67.7" cy="147.0" r="1.9"/><circle cx="70.6" cy="147.0" r="1.9"/><circle cx="71.8" cy="147.0" r="1.9"/><circle cx="72.8" cy="147.0" r="1.9"/><circle cx="73.9" cy="147.0" r="1.9"/><circle cx="74.6" cy="147.0" r="1.9"/><circle cx="76.3" cy="147.0" r="1.9"/><circle cx="78.3" cy="147.0" r="1.9"/><circle cx="79.7" cy="147.0" r="1.9"/><circle cx="80.6" cy="147.0" r="1.9"/><circle cx="81.5" cy="147.0" r="1.9"/><circle cx="83.0" cy="147.0" r="1.9"/><circle cx="83.7" cy="147.0" r="1.9"/><circle cx="85.4" cy="147.0" r="1.9"/><circle cx="86.0" cy="147.0" r="1.9"/><circle cx="87.1" cy="147.0" r="1.9"/><circle cx="88.8" cy="147.0" r="1.9"/><circle cx="89.5" cy="147.0" r="1.9"/><circle cx="90.9" cy="147.0" r="1.9"/><circle cx="91.7" cy="147.0" r="1.9"/><circle cx="93.3" cy="147.0" r="1.9"/><circle cx="94.2" cy="147.0" r="1.9"/><circle cx="95.2" cy="147.0" r="1.9"/><circle cx="96.4" cy="147.0" r="1.9"/><circle cx="97.8" cy="147.0" r="1.9"/><circle cx="99.0" cy="147.0" r="1.9"/><circle cx="99.7" cy="147.0" r="1.9"/><circle cx="100.8" cy="147.0" r="1.9"/><circle cx="102.0" cy="147.0" r="1.9"/><circle cx="103.5" cy="147.0" r="1.9"/><circle cx="104.4" cy="147.0" r="1.9"/><circle cx="105.7" cy="147.0" r="1.9"/><circle cx="106.9" cy="147.0" r="1.9"/><circle cx="108.0" cy="147.0" r="1.9"/><circle cx="109.1" cy="147.0" r="1.9"/><circle cx="110.0" cy="147.0" r="1.9"/><circle cx="111.0" cy="147.0" r="1.9"/><circle cx="112.7" cy="147.0" r="1.9"/><circle cx="113.4" cy="147.0" r="1.9"/><circle cx="115.0" cy="147.0" r="1.9"/><circle cx="116.1" cy="147.0" r="1.9"/><circle cx="116.9" cy="147.0" r="1.9"/><circle cx="118.3" cy="147.0" r="1.9"/><circle cx="119.1" cy="147.0" r="1.9"/><circle cx="120.6" cy="147.0" r="1.9"/><circle cx="121.7" cy="147.0" r="1.9"/><circle cx="122.8" cy="147.0" r="1.9"/><circle cx="123.4" cy="147.0" r="1.9"/><circle cx="124.8" cy="147.0" r="1.9"/><circle cx="126.3" cy="147.0" r="1.9"/><circle cx="126.9" cy="147.0" r="1.9"/><circle cx="128.3" cy="147.0" r="1.9"/><circle cx="129.3" cy="147.0" r="1.9"/><circle cx="130.2" cy="147.0" r="1.9"/><circle cx="131.6" cy="147.0" r="1.9"/><circle cx="132.7" cy="147.0" r="1.9"/><circle cx="134.0" cy="147.0" r="1.9"/><circle cx="135.3" cy="147.0" r="1.9"/><circle cx="136.6" cy="147.0" r="1.9"/><circle cx="137.2" cy="147.0" r="1.9"/><circle cx="138.5" cy="147.0" r="1.9"/><circle cx="139.5" cy="147.0" r="1.9"/><circle cx="140.8" cy="147.0" r="1.9"/><circle cx="141.9" cy="147.0" r="1.9"/><circle cx="142.7" cy="147.0" r="1.9"/><circle cx="144.5" cy="147.0" r="1.9"/><circle cx="145.0" cy="147.0" r="1.9"/><circle cx="146.6" cy="147.0" r="1.9"/><circle cx="147.5" cy="147.0" r="1.9"/><circle cx="148.8" cy="147.0" r="1.9"/><circle cx="149.7" cy="147.0" r="1.9"/><circle cx="150.7" cy="147.0" r="1.9"/><circle cx="151.8" cy="147.0" r="1.9"/><circle cx="153.5" cy="147.0" r="1.9"/><circle cx="154.5" cy="147.0" r="1.9"/><circle cx="155.5" cy="147.0" r="1.9"/><circle cx="156.7" cy="147.0" r="1.9"/><circle cx="157.6" cy="147.0" r="1.9"/><circle cx="159.2" cy="147.0" r="1.9"/><circle cx="160.3" cy="147.0" r="1.9"/><circle cx="161.1" cy="147.0" r="1.9"/><circle cx="162.7" cy="147.0" r="1.9"/><circle cx="163.6" cy="147.0" r="1.9"/><circle cx="164.9" cy="147.0" r="1.9"/><circle cx="165.6" cy="147.0" r="1.9"/><circle cx="167.0" cy="147.0" r="1.9"/><circle cx="168.3" cy="147.0" r="1.9"/><circle cx="169.4" cy="147.0" r="1.9"/><circle cx="170.5" cy="147.0" r="1.9"/><circle cx="171.2" cy="147.0" r="1.9"/><circle cx="172.5" cy="147.0" r="1.9"/><circle cx="173.5" cy="147.0" r="1.9"/><circle cx="174.5" cy="147.0" r="1.9"/><circle cx="175.7" cy="147.0" r="1.9"/><circle cx="177.2" cy="147.0" r="1.9"/><circle cx="178.4" cy="147.0" r="1.9"/><circle cx="179.4" cy="147.0" r="1.9"/><circle cx="180.4" cy="147.0" r="1.9"/><circle cx="181.9" cy="147.0" r="1.9"/><circle cx="183.5" cy="147.0" r="1.9"/><circle cx="44.5" cy="144.2" r="1.9"/><circle cx="52.3" cy="144.2" r="1.9"/><circle cx="53.4" cy="144.2" r="1.9"/><circle cx="54.3" cy="144.2" r="1.9"/><circle cx="60.4" cy="144.2" r="1.9"/><circle cx="61.3" cy="144.2" r="1.9"/><circle cx="65.8" cy="144.2" r="1.9"/><circle cx="66.8" cy="144.2" r="1.9"/><circle cx="67.8" cy="144.2" r="1.9"/><circle cx="69.4" cy="144.2" r="1.9"/><circle cx="70.4" cy="144.2" r="1.9"/><circle cx="71.6" cy="144.2" r="1.9"/><circle cx="73.9" cy="144.2" r="1.9"/><circle cx="77.4" cy="144.2" r="1.9"/><circle cx="79.3" cy="144.2" r="1.9"/><circle cx="80.2" cy="144.2" r="1.9"/><circle cx="81.8" cy="144.2" r="1.9"/><circle cx="82.5" cy="144.2" r="1.9"/><circle cx="84.1" cy="144.2" r="1.9"/><circle cx="84.8" cy="144.2" r="1.9"/><circle cx="86.1" cy="144.2" r="1.9"/><circle cx="87.0" cy="144.2" r="1.9"/><circle cx="88.3" cy="144.2" r="1.9"/><circle cx="89.4" cy="144.2" r="1.9"/><circle cx="90.7" cy="144.2" r="1.9"/><circle cx="92.0" cy="144.2" r="1.9"/><circle cx="93.0" cy="144.2" r="1.9"/><circle cx="93.9" cy="144.2" r="1.9"/><circle cx="95.6" cy="144.2" r="1.9"/><circle cx="96.5" cy="144.2" r="1.9"/><circle cx="97.8" cy="144.2" r="1.9"/><circle cx="98.5" cy="144.2" r="1.9"/><circle cx="100.0" cy="144.2" r="1.9"/><circle cx="100.8" cy="144.2" r="1.9"/><circle cx="102.2" cy="144.2" r="1.9"/><circle cx="103.5" cy="144.2" r="1.9"/><circle cx="104.1" cy="144.2" r="1.9"/><circle cx="105.3" cy="144.2" r="1.9"/><circle cx="106.9" cy="144.2" r="1.9"/><circle cx="107.9" cy="144.2" r="1.9"/><circle cx="109.3" cy="144.2" r="1.9"/><circle cx="109.8" cy="144.2" r="1.9"/><circle cx="111.1" cy="144.2" r="1.9"/><circle cx="112.2" cy="144.2" r="1.9"/><circle cx="113.4" cy="144.2" r="1.9"/><circle cx="114.4" cy="144.2" r="1.9"/><circle cx="115.6" cy="144.2" r="1.9"/><circle cx="116.8" cy="144.2" r="1.9"/><circle cx="117.8" cy="144.2" r="1.9"/><circle cx="119.2" cy="144.2" r="1.9"/><circle cx="120.2" cy="144.2" r="1.9"/><circle cx="121.6" cy="144.2" r="1.9"/><circle cx="122.4" cy="144.2" r="1.9"/><circle cx="123.7" cy="144.2" r="1.9"/><circle cx="124.5" cy="144.2" r="1.9"/><circle cx="125.9" cy="144.2" r="1.9"/><circle cx="127.4" cy="144.2" r="1.9"/><circle cx="128.5" cy="144.2" r="1.9"/><circle cx="129.7" cy="144.2" r="1.9"/><circle cx="130.3" cy="144.2" r="1.9"/><circle cx="131.6" cy="144.2" r="1.9"/><circle cx="132.9" cy="144.2" r="1.9"/><circle cx="133.7" cy="144.2" r="1.9"/><circle cx="135.2" cy="144.2" r="1.9"/><circle cx="136.3" cy="144.2" r="1.9"/><circle cx="137.2" cy="144.2" r="1.9"/><circle cx="138.9" cy="144.2" r="1.9"/><circle cx="139.7" cy="144.2" r="1.9"/><circle cx="140.7" cy="144.2" r="1.9"/><circle cx="142.1" cy="144.2" r="1.9"/><circle cx="142.9" cy="144.2" r="1.9"/><circle cx="144.1" cy="144.2" r="1.9"/><circle cx="145.6" cy="144.2" r="1.9"/><circle cx="146.4" cy="144.2" r="1.9"/><circle cx="147.6" cy="144.2" r="1.9"/><circle cx="148.4" cy="144.2" r="1.9"/><circle cx="149.6" cy="144.2" r="1.9"/><circle cx="150.8" cy="144.2" r="1.9"/><circle cx="152.2" cy="144.2" r="1.9"/><circle cx="153.2" cy="144.2" r="1.9"/><circle cx="154.3" cy="144.2" r="1.9"/><circle cx="155.4" cy="144.2" r="1.9"/><circle cx="157.0" cy="144.2" r="1.9"/><circle cx="158.1" cy="144.2" r="1.9"/><circle cx="159.1" cy="144.2" r="1.9"/><circle cx="160.0" cy="144.2" r="1.9"/><circle cx="161.2" cy="144.2" r="1.9"/><circle cx="162.3" cy="144.2" r="1.9"/><circle cx="163.2" cy="144.2" r="1.9"/><circle cx="164.4" cy="144.2" r="1.9"/><circle cx="165.6" cy="144.2" r="1.9"/><circle cx="166.9" cy="144.2" r="1.9"/><circle cx="168.2" cy="144.2" r="1.9"/><circle cx="169.2" cy="144.2" r="1.9"/><circle cx="170.5" cy="144.2" r="1.9"/><circle cx="171.8" cy="144.2" r="1.9"/><circle cx="172.6" cy="144.2" r="1.9"/><circle cx="174.1" cy="144.2" r="1.9"/><circle cx="174.8" cy="144.2" r="1.9"/><circle cx="175.6" cy="144.2" r="1.9"/><circle cx="177.3" cy="144.2" r="1.9"/><circle cx="178.5" cy="144.2" r="1.9"/><circle cx="179.5" cy="144.2" r="1.9"/><circle cx="180.5" cy="144.2" r="1.9"/><circle cx="181.7" cy="144.2" r="1.9"/><circle cx="183.5" cy="144.2" r="1.9"/><circle cx="64.4" cy="141.3" r="1.9"/><circle cx="67.0" cy="141.3" r="1.9"/><circle cx="68.2" cy="141.3" r="1.9"/><circle cx="71.6" cy="141.3" r="1.9"/><circle cx="74.7" cy="141.3" r="1.9"/><circle cx="79.5" cy="141.3" r="1.9"/><circle cx="81.4" cy="141.3" r="1.9"/><circle cx="82.5" cy="141.3" r="1.9"/><circle cx="83.6" cy="141.3" r="1.9"/><circle cx="85.2" cy="141.3" r="1.9"/><circle cx="86.2" cy="141.3" r="1.9"/><circle cx="87.7" cy="141.3" r="1.9"/><circle cx="88.8" cy="141.3" r="1.9"/><circle cx="89.7" cy="141.3" r="1.9"/><circle cx="90.8" cy="141.3" r="1.9"/><circle cx="92.2" cy="141.3" r="1.9"/><circle cx="92.7" cy="141.3" r="1.9"/><circle cx="94.3" cy="141.3" r="1.9"/><circle cx="95.5" cy="141.3" r="1.9"/><circle cx="96.4" cy="141.3" r="1.9"/><circle cx="97.3" cy="141.3" r="1.9"/><circle cx="98.6" cy="141.3" r="1.9"/><circle cx="100.1" cy="141.3" r="1.9"/><circle cx="100.6" cy="141.3" r="1.9"/><circle cx="101.9" cy="141.3" r="1.9"/><circle cx="103.0" cy="141.3" r="1.9"/><circle cx="104.1" cy="141.3" r="1.9"/><circle cx="105.3" cy="141.3" r="1.9"/><circle cx="106.8" cy="141.3" r="1.9"/><circle cx="107.5" cy="141.3" r="1.9"/><circle cx="109.2" cy="141.3" r="1.9"/><circle cx="110.3" cy="141.3" r="1.9"/><circle cx="111.0" cy="141.3" r="1.9"/><circle cx="112.2" cy="141.3" r="1.9"/><circle cx="113.6" cy="141.3" r="1.9"/><circle cx="114.8" cy="141.3" r="1.9"/><circle cx="115.7" cy="141.3" r="1.9"/><circle cx="116.9" cy="141.3" r="1.9"/><circle cx="117.7" cy="141.3" r="1.9"/><circle cx="118.8" cy="141.3" r="1.9"/><circle cx="120.2" cy="141.3" r="1.9"/><circle cx="121.5" cy="141.3" r="1.9"/><circle cx="122.8" cy="141.3" r="1.9"/><circle cx="123.8" cy="141.3" r="1.9"/><circle cx="124.7" cy="141.3" r="1.9"/><circle cx="126.1" cy="141.3" r="1.9"/><circle cx="127.3" cy="141.3" r="1.9"/><circle cx="128.3" cy="141.3" r="1.9"/><circle cx="129.6" cy="141.3" r="1.9"/><circle cx="130.6" cy="141.3" r="1.9"/><circle cx="131.5" cy="141.3" r="1.9"/><circle cx="132.7" cy="141.3" r="1.9"/><circle cx="133.7" cy="141.3" r="1.9"/><circle cx="135.2" cy="141.3" r="1.9"/><circle cx="136.6" cy="141.3" r="1.9"/><circle cx="137.2" cy="141.3" r="1.9"/><circle cx="138.4" cy="141.3" r="1.9"/><circle cx="140.0" cy="141.3" r="1.9"/><circle cx="140.9" cy="141.3" r="1.9"/><circle cx="141.6" cy="141.3" r="1.9"/><circle cx="143.1" cy="141.3" r="1.9"/><circle cx="143.9" cy="141.3" r="1.9"/><circle cx="145.4" cy="141.3" r="1.9"/><circle cx="146.2" cy="141.3" r="1.9"/><circle cx="147.6" cy="141.3" r="1.9"/><circle cx="148.9" cy="141.3" r="1.9"/><circle cx="150.2" cy="141.3" r="1.9"/><circle cx="151.2" cy="141.3" r="1.9"/><circle cx="152.0" cy="141.3" r="1.9"/><circle cx="152.9" cy="141.3" r="1.9"/><circle cx="154.1" cy="141.3" r="1.9"/><circle cx="155.7" cy="141.3" r="1.9"/><circle cx="156.5" cy="141.3" r="1.9"/><circle cx="157.7" cy="141.3" r="1.9"/><circle cx="159.3" cy="141.3" r="1.9"/><circle cx="160.1" cy="141.3" r="1.9"/><circle cx="160.9" cy="141.3" r="1.9"/><circle cx="162.6" cy="141.3" r="1.9"/><circle cx="163.8" cy="141.3" r="1.9"/><circle cx="164.6" cy="141.3" r="1.9"/><circle cx="165.5" cy="141.3" r="1.9"/><circle cx="166.7" cy="141.3" r="1.9"/><circle cx="168.0" cy="141.3" r="1.9"/><circle cx="169.4" cy="141.3" r="1.9"/><circle cx="170.3" cy="141.3" r="1.9"/><circle cx="171.4" cy="141.3" r="1.9"/><circle cx="172.6" cy="141.3" r="1.9"/><circle cx="174.1" cy="141.3" r="1.9"/><circle cx="174.5" cy="141.3" r="1.9"/><circle cx="175.7" cy="141.3" r="1.9"/><circle cx="177.4" cy="141.3" r="1.9"/><circle cx="178.0" cy="141.3" r="1.9"/><circle cx="179.2" cy="141.3" r="1.9"/><circle cx="180.7" cy="141.3" r="1.9"/><circle cx="181.6" cy="141.3" r="1.9"/><circle cx="183.5" cy="141.3" r="1.9"/><circle cx="45.4" cy="138.5" r="1.9"/><circle cx="48.4" cy="138.5" r="1.9"/><circle cx="50.9" cy="138.5" r="1.9"/><circle cx="53.4" cy="138.5" r="1.9"/><circle cx="62.4" cy="138.5" r="1.9"/><circle cx="65.7" cy="138.5" r="1.9"/><circle cx="69.0" cy="138.5" r="1.9"/><circle cx="75.8" cy="138.5" r="1.9"/><circle cx="77.0" cy="138.5" r="1.9"/><circle cx="78.2" cy="138.5" r="1.9"/><circle cx="79.1" cy="138.5" r="1.9"/><circle cx="82.7" cy="138.5" r="1.9"/><circle cx="84.3" cy="138.5" r="1.9"/><circle cx="85.2" cy="138.5" r="1.9"/><circle cx="86.6" cy="138.5" r="1.9"/><circle cx="87.1" cy="138.5" r="1.9"/><circle cx="88.8" cy="138.5" r="1.9"/><circle cx="89.3" cy="138.5" r="1.9"/><circle cx="90.5" cy="138.5" r="1.9"/><circle cx="92.1" cy="138.5" r="1.9"/><circle cx="93.2" cy="138.5" r="1.9"/><circle cx="94.1" cy="138.5" r="1.9"/><circle cx="95.1" cy="138.5" r="1.9"/><circle cx="96.4" cy="138.5" r="1.9"/><circle cx="97.8" cy="138.5" r="1.9"/><circle cx="98.8" cy="138.5" r="1.9"/><circle cx="99.9" cy="138.5" r="1.9"/><circle cx="101.0" cy="138.5" r="1.9"/><circle cx="102.1" cy="138.5" r="1.9"/><circle cx="103.4" cy="138.5" r="1.9"/><circle cx="104.2" cy="138.5" r="1.9"/><circle cx="105.6" cy="138.5" r="1.9"/><circle cx="106.8" cy="138.5" r="1.9"/><circle cx="107.7" cy="138.5" r="1.9"/><circle cx="109.1" cy="138.5" r="1.9"/><circle cx="109.9" cy="138.5" r="1.9"/><circle cx="111.6" cy="138.5" r="1.9"/><circle cx="112.7" cy="138.5" r="1.9"/><circle cx="113.3" cy="138.5" r="1.9"/><circle cx="114.9" cy="138.5" r="1.9"/><circle cx="116.0" cy="138.5" r="1.9"/><circle cx="117.2" cy="138.5" r="1.9"/><circle cx="118.0" cy="138.5" r="1.9"/><circle cx="118.9" cy="138.5" r="1.9"/><circle cx="120.3" cy="138.5" r="1.9"/><circle cx="121.4" cy="138.5" r="1.9"/><circle cx="122.3" cy="138.5" r="1.9"/><circle cx="123.7" cy="138.5" r="1.9"/><circle cx="125.0" cy="138.5" r="1.9"/><circle cx="126.1" cy="138.5" r="1.9"/><circle cx="127.3" cy="138.5" r="1.9"/><circle cx="128.6" cy="138.5" r="1.9"/><circle cx="129.2" cy="138.5" r="1.9"/><circle cx="130.8" cy="138.5" r="1.9"/><circle cx="131.9" cy="138.5" r="1.9"/><circle cx="132.9" cy="138.5" r="1.9"/><circle cx="134.1" cy="138.5" r="1.9"/><circle cx="135.3" cy="138.5" r="1.9"/><circle cx="136.4" cy="138.5" r="1.9"/><circle cx="137.3" cy="138.5" r="1.9"/><circle cx="138.4" cy="138.5" r="1.9"/><circle cx="139.9" cy="138.5" r="1.9"/><circle cx="141.1" cy="138.5" r="1.9"/><circle cx="142.2" cy="138.5" r="1.9"/><circle cx="143.1" cy="138.5" r="1.9"/><circle cx="143.8" cy="138.5" r="1.9"/><circle cx="145.5" cy="138.5" r="1.9"/><circle cx="146.5" cy="138.5" r="1.9"/><circle cx="147.7" cy="138.5" r="1.9"/><circle cx="148.8" cy="138.5" r="1.9"/><circle cx="149.9" cy="138.5" r="1.9"/><circle cx="151.0" cy="138.5" r="1.9"/><circle cx="151.9" cy="138.5" r="1.9"/><circle cx="153.0" cy="138.5" r="1.9"/><circle cx="154.2" cy="138.5" r="1.9"/><circle cx="155.4" cy="138.5" r="1.9"/><circle cx="156.5" cy="138.5" r="1.9"/><circle cx="157.9" cy="138.5" r="1.9"/><circle cx="158.8" cy="138.5" r="1.9"/><circle cx="160.2" cy="138.5" r="1.9"/><circle cx="161.1" cy="138.5" r="1.9"/><circle cx="162.2" cy="138.5" r="1.9"/><circle cx="163.8" cy="138.5" r="1.9"/><circle cx="165.0" cy="138.5" r="1.9"/><circle cx="165.7" cy="138.5" r="1.9"/><circle cx="166.6" cy="138.5" r="1.9"/><circle cx="167.9" cy="138.5" r="1.9"/><circle cx="169.5" cy="138.5" r="1.9"/><circle cx="170.6" cy="138.5" r="1.9"/><circle cx="171.6" cy="138.5" r="1.9"/><circle cx="172.6" cy="138.5" r="1.9"/><circle cx="173.9" cy="138.5" r="1.9"/><circle cx="174.7" cy="138.5" r="1.9"/><circle cx="176.2" cy="138.5" r="1.9"/><circle cx="177.4" cy="138.5" r="1.9"/><circle cx="178.6" cy="138.5" r="1.9"/><circle cx="179.2" cy="138.5" r="1.9"/><circle cx="180.6" cy="138.5" r="1.9"/><circle cx="181.3" cy="138.5" r="1.9"/><circle cx="183.5" cy="138.5" r="1.9"/><circle cx="63.8" cy="135.7" r="1.9"/><circle cx="65.8" cy="135.7" r="1.9"/><circle cx="70.5" cy="135.7" r="1.9"/><circle cx="77.2" cy="135.7" r="1.9"/><circle cx="80.2" cy="135.7" r="1.9"/><circle cx="82.5" cy="135.7" r="1.9"/><circle cx="83.6" cy="135.7" r="1.9"/><circle cx="85.1" cy="135.7" r="1.9"/><circle cx="85.9" cy="135.7" r="1.9"/><circle cx="87.7" cy="135.7" r="1.9"/><circle cx="88.7" cy="135.7" r="1.9"/><circle cx="90.0" cy="135.7" r="1.9"/><circle cx="90.9" cy="135.7" r="1.9"/><circle cx="91.7" cy="135.7" r="1.9"/><circle cx="93.2" cy="135.7" r="1.9"/><circle cx="94.1" cy="135.7" r="1.9"/><circle cx="95.3" cy="135.7" r="1.9"/><circle cx="96.4" cy="135.7" r="1.9"/><circle cx="97.8" cy="135.7" r="1.9"/><circle cx="98.5" cy="135.7" r="1.9"/><circle cx="99.6" cy="135.7" r="1.9"/><circle cx="101.2" cy="135.7" r="1.9"/><circle cx="101.8" cy="135.7" r="1.9"/><circle cx="103.3" cy="135.7" r="1.9"/><circle cx="104.5" cy="135.7" r="1.9"/><circle cx="105.6" cy="135.7" r="1.9"/><circle cx="106.8" cy="135.7" r="1.9"/><circle cx="107.8" cy="135.7" r="1.9"/><circle cx="108.7" cy="135.7" r="1.9"/><circle cx="110.3" cy="135.7" r="1.9"/><circle cx="111.5" cy="135.7" r="1.9"/><circle cx="112.7" cy="135.7" r="1.9"/><circle cx="113.6" cy="135.7" r="1.9"/><circle cx="114.9" cy="135.7" r="1.9"/><circle cx="115.6" cy="135.7" r="1.9"/><circle cx="117.0" cy="135.7" r="1.9"/><circle cx="118.0" cy="135.7" r="1.9"/><circle cx="119.2" cy="135.7" r="1.9"/><circle cx="120.4" cy="135.7" r="1.9"/><circle cx="121.8" cy="135.7" r="1.9"/><circle cx="122.2" cy="135.7" r="1.9"/><circle cx="123.5" cy="135.7" r="1.9"/><circle cx="124.8" cy="135.7" r="1.9"/><circle cx="126.3" cy="135.7" r="1.9"/><circle cx="127.2" cy="135.7" r="1.9"/><circle cx="128.6" cy="135.7" r="1.9"/><circle cx="129.4" cy="135.7" r="1.9"/><circle cx="130.7" cy="135.7" r="1.9"/><circle cx="131.4" cy="135.7" r="1.9"/><circle cx="132.5" cy="135.7" r="1.9"/><circle cx="133.8" cy="135.7" r="1.9"/><circle cx="134.9" cy="135.7" r="1.9"/><circle cx="136.1" cy="135.7" r="1.9"/><circle cx="137.5" cy="135.7" r="1.9"/><circle cx="138.6" cy="135.7" r="1.9"/><circle cx="139.3" cy="135.7" r="1.9"/><circle cx="141.1" cy="135.7" r="1.9"/><circle cx="141.7" cy="135.7" r="1.9"/><circle cx="142.7" cy="135.7" r="1.9"/><circle cx="144.0" cy="135.7" r="1.9"/><circle cx="145.0" cy="135.7" r="1.9"/><circle cx="146.2" cy="135.7" r="1.9"/><circle cx="147.8" cy="135.7" r="1.9"/><circle cx="148.7" cy="135.7" r="1.9"/><circle cx="149.7" cy="135.7" r="1.9"/><circle cx="150.9" cy="135.7" r="1.9"/><circle cx="152.2" cy="135.7" r="1.9"/><circle cx="153.1" cy="135.7" r="1.9"/><circle cx="154.7" cy="135.7" r="1.9"/><circle cx="155.6" cy="135.7" r="1.9"/><circle cx="156.9" cy="135.7" r="1.9"/><circle cx="158.0" cy="135.7" r="1.9"/><circle cx="159.2" cy="135.7" r="1.9"/><circle cx="160.4" cy="135.7" r="1.9"/><circle cx="161.4" cy="135.7" r="1.9"/><circle cx="162.0" cy="135.7" r="1.9"/><circle cx="163.6" cy="135.7" r="1.9"/><circle cx="164.9" cy="135.7" r="1.9"/><circle cx="165.7" cy="135.7" r="1.9"/><circle cx="166.7" cy="135.7" r="1.9"/><circle cx="168.3" cy="135.7" r="1.9"/><circle cx="169.4" cy="135.7" r="1.9"/><circle cx="170.5" cy="135.7" r="1.9"/><circle cx="171.5" cy="135.7" r="1.9"/><circle cx="172.5" cy="135.7" r="1.9"/><circle cx="173.8" cy="135.7" r="1.9"/><circle cx="175.2" cy="135.7" r="1.9"/><circle cx="175.8" cy="135.7" r="1.9"/><circle cx="177.1" cy="135.7" r="1.9"/><circle cx="178.3" cy="135.7" r="1.9"/><circle cx="179.6" cy="135.7" r="1.9"/><circle cx="180.7" cy="135.7" r="1.9"/><circle cx="181.4" cy="135.7" r="1.9"/><circle cx="183.5" cy="135.7" r="1.9"/><circle cx="82.0" cy="132.9" r="1.9"/><circle cx="84.8" cy="132.9" r="1.9"/><circle cx="85.9" cy="132.9" r="1.9"/><circle cx="87.6" cy="132.9" r="1.9"/><circle cx="88.7" cy="132.9" r="1.9"/><circle cx="89.3" cy="132.9" r="1.9"/><circle cx="90.5" cy="132.9" r="1.9"/><circle cx="91.7" cy="132.9" r="1.9"/><circle cx="93.2" cy="132.9" r="1.9"/><circle cx="94.4" cy="132.9" r="1.9"/><circle cx="95.1" cy="132.9" r="1.9"/><circle cx="96.6" cy="132.9" r="1.9"/><circle cx="97.9" cy="132.9" r="1.9"/><circle cx="98.4" cy="132.9" r="1.9"/><circle cx="99.7" cy="132.9" r="1.9"/><circle cx="101.0" cy="132.9" r="1.9"/><circle cx="101.8" cy="132.9" r="1.9"/><circle cx="103.3" cy="132.9" r="1.9"/><circle cx="104.4" cy="132.9" r="1.9"/><circle cx="105.4" cy="132.9" r="1.9"/><circle cx="106.8" cy="132.9" r="1.9"/><circle cx="108.1" cy="132.9" r="1.9"/><circle cx="108.8" cy="132.9" r="1.9"/><circle cx="110.3" cy="132.9" r="1.9"/><circle cx="111.4" cy="132.9" r="1.9"/><circle cx="112.3" cy="132.9" r="1.9"/><circle cx="113.4" cy="132.9" r="1.9"/><circle cx="114.4" cy="132.9" r="1.9"/><circle cx="115.9" cy="132.9" r="1.9"/><circle cx="117.2" cy="132.9" r="1.9"/><circle cx="118.0" cy="132.9" r="1.9"/><circle cx="119.5" cy="132.9" r="1.9"/><circle cx="120.6" cy="132.9" r="1.9"/><circle cx="121.2" cy="132.9" r="1.9"/><circle cx="122.2" cy="132.9" r="1.9"/><circle cx="123.7" cy="132.9" r="1.9"/><circle cx="124.7" cy="132.9" r="1.9"/><circle cx="126.1" cy="132.9" r="1.9"/><circle cx="127.2" cy="132.9" r="1.9"/><circle cx="128.4" cy="132.9" r="1.9"/><circle cx="129.7" cy="132.9" r="1.9"/><circle cx="130.8" cy="132.9" r="1.9"/><circle cx="131.3" cy="132.9" r="1.9"/><circle cx="132.7" cy="132.9" r="1.9"/><circle cx="134.0" cy="132.9" r="1.9"/><circle cx="135.1" cy="132.9" r="1.9"/><circle cx="136.0" cy="132.9" r="1.9"/><circle cx="137.5" cy="132.9" r="1.9"/><circle cx="138.2" cy="132.9" r="1.9"/><circle cx="139.6" cy="132.9" r="1.9"/><circle cx="140.6" cy="132.9" r="1.9"/><circle cx="141.9" cy="132.9" r="1.9"/><circle cx="142.9" cy="132.9" r="1.9"/><circle cx="144.3" cy="132.9" r="1.9"/><circle cx="145.7" cy="132.9" r="1.9"/><circle cx="146.8" cy="132.9" r="1.9"/><circle cx="147.7" cy="132.9" r="1.9"/><circle cx="148.4" cy="132.9" r="1.9"/><circle cx="149.8" cy="132.9" r="1.9"/><circle cx="151.0" cy="132.9" r="1.9"/><circle cx="152.3" cy="132.9" r="1.9"/><circle cx="153.1" cy="132.9" r="1.9"/><circle cx="154.5" cy="132.9" r="1.9"/><circle cx="155.9" cy="132.9" r="1.9"/><circle cx="156.5" cy="132.9" r="1.9"/><circle cx="157.8" cy="132.9" r="1.9"/><circle cx="158.8" cy="132.9" r="1.9"/><circle cx="160.1" cy="132.9" r="1.9"/><circle cx="161.4" cy="132.9" r="1.9"/><circle cx="162.5" cy="132.9" r="1.9"/><circle cx="163.6" cy="132.9" r="1.9"/><circle cx="164.7" cy="132.9" r="1.9"/><circle cx="165.9" cy="132.9" r="1.9"/><circle cx="166.9" cy="132.9" r="1.9"/><circle cx="167.8" cy="132.9" r="1.9"/><circle cx="169.5" cy="132.9" r="1.9"/><circle cx="170.5" cy="132.9" r="1.9"/><circle cx="171.8" cy="132.9" r="1.9"/><circle cx="172.4" cy="132.9" r="1.9"/><circle cx="174.0" cy="132.9" r="1.9"/><circle cx="175.1" cy="132.9" r="1.9"/><circle cx="176.3" cy="132.9" r="1.9"/><circle cx="177.1" cy="132.9" r="1.9"/><circle cx="178.0" cy="132.9" r="1.9"/><circle cx="179.2" cy="132.9" r="1.9"/><circle cx="180.8" cy="132.9" r="1.9"/><circle cx="181.4" cy="132.9" r="1.9"/><circle cx="183.5" cy="132.9" r="1.9"/><circle cx="60.4" cy="130.1" r="1.9"/><circle cx="69.0" cy="130.1" r="1.9"/><circle cx="80.7" cy="130.1" r="1.9"/><circle cx="86.5" cy="130.1" r="1.9"/><circle cx="87.2" cy="130.1" r="1.9"/><circle cx="88.6" cy="130.1" r="1.9"/><circle cx="89.7" cy="130.1" r="1.9"/><circle cx="90.7" cy="130.1" r="1.9"/><circle cx="91.8" cy="130.1" r="1.9"/><circle cx="93.3" cy="130.1" r="1.9"/><circle cx="94.0" cy="130.1" r="1.9"/><circle cx="95.6" cy="130.1" r="1.9"/><circle cx="96.6" cy="130.1" r="1.9"/><circle cx="97.9" cy="130.1" r="1.9"/><circle cx="99.0" cy="130.1" r="1.9"/><circle cx="100.2" cy="130.1" r="1.9"/><circle cx="100.7" cy="130.1" r="1.9"/><circle cx="101.9" cy="130.1" r="1.9"/><circle cx="102.9" cy="130.1" r="1.9"/><circle cx="104.2" cy="130.1" r="1.9"/><circle cx="105.5" cy="130.1" r="1.9"/><circle cx="106.5" cy="130.1" r="1.9"/><circle cx="108.1" cy="130.1" r="1.9"/><circle cx="109.1" cy="130.1" r="1.9"/><circle cx="110.3" cy="130.1" r="1.9"/><circle cx="111.0" cy="130.1" r="1.9"/><circle cx="112.3" cy="130.1" r="1.9"/><circle cx="113.8" cy="130.1" r="1.9"/><circle cx="114.4" cy="130.1" r="1.9"/><circle cx="116.1" cy="130.1" r="1.9"/><circle cx="116.9" cy="130.1" r="1.9"/><circle cx="118.1" cy="130.1" r="1.9"/><circle cx="118.8" cy="130.1" r="1.9"/><circle cx="120.7" cy="130.1" r="1.9"/><circle cx="121.4" cy="130.1" r="1.9"/><circle cx="122.5" cy="130.1" r="1.9"/><circle cx="124.0" cy="130.1" r="1.9"/><circle cx="125.0" cy="130.1" r="1.9"/><circle cx="126.1" cy="130.1" r="1.9"/><circle cx="127.3" cy="130.1" r="1.9"/><circle cx="128.6" cy="130.1" r="1.9"/><circle cx="129.7" cy="130.1" r="1.9"/><circle cx="130.7" cy="130.1" r="1.9"/><circle cx="131.7" cy="130.1" r="1.9"/><circle cx="132.6" cy="130.1" r="1.9"/><circle cx="134.3" cy="130.1" r="1.9"/><circle cx="135.1" cy="130.1" r="1.9"/><circle cx="136.2" cy="130.1" r="1.9"/><circle cx="137.4" cy="130.1" r="1.9"/><circle cx="138.8" cy="130.1" r="1.9"/><circle cx="139.8" cy="130.1" r="1.9"/><circle cx="141.1" cy="130.1" r="1.9"/><circle cx="141.6" cy="130.1" r="1.9"/><circle cx="143.3" cy="130.1" r="1.9"/><circle cx="144.5" cy="130.1" r="1.9"/><circle cx="145.4" cy="130.1" r="1.9"/><circle cx="146.3" cy="130.1" r="1.9"/><circle cx="147.5" cy="130.1" r="1.9"/><circle cx="148.9" cy="130.1" r="1.9"/><circle cx="149.6" cy="130.1" r="1.9"/><circle cx="151.2" cy="130.1" r="1.9"/><circle cx="151.9" cy="130.1" r="1.9"/><circle cx="153.3" cy="130.1" r="1.9"/><circle cx="154.7" cy="130.1" r="1.9"/><circle cx="155.9" cy="130.1" r="1.9"/><circle cx="156.7" cy="130.1" r="1.9"/><circle cx="158.0" cy="130.1" r="1.9"/><circle cx="158.9" cy="130.1" r="1.9"/><circle cx="159.8" cy="130.1" r="1.9"/><circle cx="161.5" cy="130.1" r="1.9"/><circle cx="162.1" cy="130.1" r="1.9"/><circle cx="163.7" cy="130.1" r="1.9"/><circle cx="164.5" cy="130.1" r="1.9"/><circle cx="165.4" cy="130.1" r="1.9"/><circle cx="166.7" cy="130.1" r="1.9"/><circle cx="168.1" cy="130.1" r="1.9"/><circle cx="169.5" cy="130.1" r="1.9"/><circle cx="170.5" cy="130.1" r="1.9"/><circle cx="171.5" cy="130.1" r="1.9"/><circle cx="172.8" cy="130.1" r="1.9"/><circle cx="173.8" cy="130.1" r="1.9"/><circle cx="174.6" cy="130.1" r="1.9"/><circle cx="176.1" cy="130.1" r="1.9"/><circle cx="177.1" cy="130.1" r="1.9"/><circle cx="178.4" cy="130.1" r="1.9"/><circle cx="179.4" cy="130.1" r="1.9"/><circle cx="180.7" cy="130.1" r="1.9"/><circle cx="181.7" cy="130.1" r="1.9"/><circle cx="183.5" cy="130.1" r="1.9"/><circle cx="69.5" cy="127.2" r="1.9"/><circle cx="83.8" cy="127.2" r="1.9"/><circle cx="88.4" cy="127.2" r="1.9"/><circle cx="89.7" cy="127.2" r="1.9"/><circle cx="91.0" cy="127.2" r="1.9"/><circle cx="92.3" cy="127.2" r="1.9"/><circle cx="93.4" cy="127.2" r="1.9"/><circle cx="94.0" cy="127.2" r="1.9"/><circle cx="95.5" cy="127.2" r="1.9"/><circle cx="96.2" cy="127.2" r="1.9"/><circle cx="97.8" cy="127.2" r="1.9"/><circle cx="98.4" cy="127.2" r="1.9"/><circle cx="100.2" cy="127.2" r="1.9"/><circle cx="101.2" cy="127.2" r="1.9"/><circle cx="102.2" cy="127.2" r="1.9"/><circle cx="103.5" cy="127.2" r="1.9"/><circle cx="104.2" cy="127.2" r="1.9"/><circle cx="105.6" cy="127.2" r="1.9"/><circle cx="106.6" cy="127.2" r="1.9"/><circle cx="107.5" cy="127.2" r="1.9"/><circle cx="108.7" cy="127.2" r="1.9"/><circle cx="110.4" cy="127.2" r="1.9"/><circle cx="111.0" cy="127.2" r="1.9"/><circle cx="112.2" cy="127.2" r="1.9"/><circle cx="113.8" cy="127.2" r="1.9"/><circle cx="114.6" cy="127.2" r="1.9"/><circle cx="116.0" cy="127.2" r="1.9"/><circle cx="117.0" cy="127.2" r="1.9"/><circle cx="117.7" cy="127.2" r="1.9"/><circle cx="119.2" cy="127.2" r="1.9"/><circle cx="120.1" cy="127.2" r="1.9"/><circle cx="121.3" cy="127.2" r="1.9"/><circle cx="122.5" cy="127.2" r="1.9"/><circle cx="123.7" cy="127.2" r="1.9"/><circle cx="124.9" cy="127.2" r="1.9"/><circle cx="126.3" cy="127.2" r="1.9"/><circle cx="127.4" cy="127.2" r="1.9"/><circle cx="128.6" cy="127.2" r="1.9"/><circle cx="129.3" cy="127.2" r="1.9"/><circle cx="130.3" cy="127.2" r="1.9"/><circle cx="131.5" cy="127.2" r="1.9"/><circle cx="132.8" cy="127.2" r="1.9"/><circle cx="133.6" cy="127.2" r="1.9"/><circle cx="134.7" cy="127.2" r="1.9"/><circle cx="136.1" cy="127.2" r="1.9"/><circle cx="137.1" cy="127.2" r="1.9"/><circle cx="138.9" cy="127.2" r="1.9"/><circle cx="139.3" cy="127.2" r="1.9"/><circle cx="140.8" cy="127.2" r="1.9"/><circle cx="142.3" cy="127.2" r="1.9"/><circle cx="143.3" cy="127.2" r="1.9"/><circle cx="144.2" cy="127.2" r="1.9"/><circle cx="145.1" cy="127.2" r="1.9"/><circle cx="146.5" cy="127.2" r="1.9"/><circle cx="147.3" cy="127.2" r="1.9"/><circle cx="148.5" cy="127.2" r="1.9"/><circle cx="149.7" cy="127.2" r="1.9"/><circle cx="151.3" cy="127.2" r="1.9"/><circle cx="152.1" cy="127.2" r="1.9"/><circle cx="153.1" cy="127.2" r="1.9"/><circle cx="154.5" cy="127.2" r="1.9"/><circle cx="155.4" cy="127.2" r="1.9"/><circle cx="156.3" cy="127.2" r="1.9"/><circle cx="157.5" cy="127.2" r="1.9"/><circle cx="159.3" cy="127.2" r="1.9"/><circle cx="159.8" cy="127.2" r="1.9"/><circle cx="161.3" cy="127.2" r="1.9"/><circle cx="162.2" cy="127.2" r="1.9"/><circle cx="163.6" cy="127.2" r="1.9"/><circle cx="164.7" cy="127.2" r="1.9"/><circle cx="165.8" cy="127.2" r="1.9"/><circle cx="167.0" cy="127.2" r="1.9"/><circle cx="167.8" cy="127.2" r="1.9"/><circle cx="168.9" cy="127.2" r="1.9"/><circle cx="170.3" cy="127.2" r="1.9"/><circle cx="171.5" cy="127.2" r="1.9"/><circle cx="172.6" cy="127.2" r="1.9"/><circle cx="173.9" cy="127.2" r="1.9"/><circle cx="174.9" cy="127.2" r="1.9"/><circle cx="176.2" cy="127.2" r="1.9"/><circle cx="176.9" cy="127.2" r="1.9"/><circle cx="178.5" cy="127.2" r="1.9"/><circle cx="179.3" cy="127.2" r="1.9"/><circle cx="180.8" cy="127.2" r="1.9"/><circle cx="181.5" cy="127.2" r="1.9"/><circle cx="183.5" cy="127.2" r="1.9"/><circle cx="70.5" cy="124.4" r="1.9"/><circle cx="74.7" cy="124.4" r="1.9"/><circle cx="79.1" cy="124.4" r="1.9"/><circle cx="86.4" cy="124.4" r="1.9"/><circle cx="87.5" cy="124.4" r="1.9"/><circle cx="88.8" cy="124.4" r="1.9"/><circle cx="89.7" cy="124.4" r="1.9"/><circle cx="90.6" cy="124.4" r="1.9"/><circle cx="93.1" cy="124.4" r="1.9"/><circle cx="94.2" cy="124.4" r="1.9"/><circle cx="95.4" cy="124.4" r="1.9"/><circle cx="96.6" cy="124.4" r="1.9"/><circle cx="97.6" cy="124.4" r="1.9"/><circle cx="98.9" cy="124.4" r="1.9"/><circle cx="99.7" cy="124.4" r="1.9"/><circle cx="101.3" cy="124.4" r="1.9"/><circle cx="102.3" cy="124.4" r="1.9"/><circle cx="103.5" cy="124.4" r="1.9"/><circle cx="104.5" cy="124.4" r="1.9"/><circle cx="105.8" cy="124.4" r="1.9"/><circle cx="106.4" cy="124.4" r="1.9"/><circle cx="107.6" cy="124.4" r="1.9"/><circle cx="108.7" cy="124.4" r="1.9"/><circle cx="110.1" cy="124.4" r="1.9"/><circle cx="111.4" cy="124.4" r="1.9"/><circle cx="112.2" cy="124.4" r="1.9"/><circle cx="113.8" cy="124.4" r="1.9"/><circle cx="114.4" cy="124.4" r="1.9"/><circle cx="116.0" cy="124.4" r="1.9"/><circle cx="116.7" cy="124.4" r="1.9"/><circle cx="117.9" cy="124.4" r="1.9"/><circle cx="119.4" cy="124.4" r="1.9"/><circle cx="120.5" cy="124.4" r="1.9"/><circle cx="121.4" cy="124.4" r="1.9"/><circle cx="122.3" cy="124.4" r="1.9"/><circle cx="123.4" cy="124.4" r="1.9"/><circle cx="124.9" cy="124.4" r="1.9"/><circle cx="126.1" cy="124.4" r="1.9"/><circle cx="127.2" cy="124.4" r="1.9"/><circle cx="128.0" cy="124.4" r="1.9"/><circle cx="129.2" cy="124.4" r="1.9"/><circle cx="130.7" cy="124.4" r="1.9"/><circle cx="131.7" cy="124.4" r="1.9"/><circle cx="132.9" cy="124.4" r="1.9"/><circle cx="133.8" cy="124.4" r="1.9"/><circle cx="135.1" cy="124.4" r="1.9"/><circle cx="136.0" cy="124.4" r="1.9"/><circle cx="137.1" cy="124.4" r="1.9"/><circle cx="138.8" cy="124.4" r="1.9"/><circle cx="139.3" cy="124.4" r="1.9"/><circle cx="140.8" cy="124.4" r="1.9"/><circle cx="142.2" cy="124.4" r="1.9"/><circle cx="142.8" cy="124.4" r="1.9"/><circle cx="144.4" cy="124.4" r="1.9"/><circle cx="145.1" cy="124.4" r="1.9"/><circle cx="146.2" cy="124.4" r="1.9"/><circle cx="147.3" cy="124.4" r="1.9"/><circle cx="148.6" cy="124.4" r="1.9"/><circle cx="150.0" cy="124.4" r="1.9"/><circle cx="151.2" cy="124.4" r="1.9"/><circle cx="152.2" cy="124.4" r="1.9"/><circle cx="153.3" cy="124.4" r="1.9"/><circle cx="154.5" cy="124.4" r="1.9"/><circle cx="155.8" cy="124.4" r="1.9"/><circle cx="156.6" cy="124.4" r="1.9"/><circle cx="157.6" cy="124.4" r="1.9"/><circle cx="159.0" cy="124.4" r="1.9"/><circle cx="160.3" cy="124.4" r="1.9"/><circle cx="160.9" cy="124.4" r="1.9"/><circle cx="162.4" cy="124.4" r="1.9"/><circle cx="163.4" cy="124.4" r="1.9"/><circle cx="165.0" cy="124.4" r="1.9"/><circle cx="165.9" cy="124.4" r="1.9"/><circle cx="166.9" cy="124.4" r="1.9"/><circle cx="168.3" cy="124.4" r="1.9"/><circle cx="169.1" cy="124.4" r="1.9"/><circle cx="170.2" cy="124.4" r="1.9"/><circle cx="171.8" cy="124.4" r="1.9"/><circle cx="172.5" cy="124.4" r="1.9"/><circle cx="173.7" cy="124.4" r="1.9"/><circle cx="174.6" cy="124.4" r="1.9"/><circle cx="175.9" cy="124.4" r="1.9"/><circle cx="176.9" cy="124.4" r="1.9"/><circle cx="178.4" cy="124.4" r="1.9"/><circle cx="179.8" cy="124.4" r="1.9"/><circle cx="180.4" cy="124.4" r="1.9"/><circle cx="182.0" cy="124.4" r="1.9"/><circle cx="183.5" cy="124.4" r="1.9"/><circle cx="57.5" cy="121.6" r="1.9"/><circle cx="72.7" cy="121.6" r="1.9"/><circle cx="85.3" cy="121.6" r="1.9"/><circle cx="85.9" cy="121.6" r="1.9"/><circle cx="87.5" cy="121.6" r="1.9"/><circle cx="88.3" cy="121.6" r="1.9"/><circle cx="89.9" cy="121.6" r="1.9"/><circle cx="90.9" cy="121.6" r="1.9"/><circle cx="92.9" cy="121.6" r="1.9"/><circle cx="94.1" cy="121.6" r="1.9"/><circle cx="95.5" cy="121.6" r="1.9"/><circle cx="97.8" cy="121.6" r="1.9"/><circle cx="98.9" cy="121.6" r="1.9"/><circle cx="99.7" cy="121.6" r="1.9"/><circle cx="101.1" cy="121.6" r="1.9"/><circle cx="102.3" cy="121.6" r="1.9"/><circle cx="103.4" cy="121.6" r="1.9"/><circle cx="104.6" cy="121.6" r="1.9"/><circle cx="105.4" cy="121.6" r="1.9"/><circle cx="106.4" cy="121.6" r="1.9"/><circle cx="107.7" cy="121.6" r="1.9"/><circle cx="109.1" cy="121.6" r="1.9"/><circle cx="110.3" cy="121.6" r="1.9"/><circle cx="111.1" cy="121.6" r="1.9"/><circle cx="112.4" cy="121.6" r="1.9"/><circle cx="113.2" cy="121.6" r="1.9"/><circle cx="114.4" cy="121.6" r="1.9"/><circle cx="115.9" cy="121.6" r="1.9"/><circle cx="117.2" cy="121.6" r="1.9"/><circle cx="117.9" cy="121.6" r="1.9"/><circle cx="119.5" cy="121.6" r="1.9"/><circle cx="120.4" cy="121.6" r="1.9"/><circle cx="121.2" cy="121.6" r="1.9"/><circle cx="122.7" cy="121.6" r="1.9"/><circle cx="123.8" cy="121.6" r="1.9"/><circle cx="124.8" cy="121.6" r="1.9"/><circle cx="126.0" cy="121.6" r="1.9"/><circle cx="127.4" cy="121.6" r="1.9"/><circle cx="128.6" cy="121.6" r="1.9"/><circle cx="129.6" cy="121.6" r="1.9"/><circle cx="130.6" cy="121.6" r="1.9"/><circle cx="131.8" cy="121.6" r="1.9"/><circle cx="132.6" cy="121.6" r="1.9"/><circle cx="133.8" cy="121.6" r="1.9"/><circle cx="134.9" cy="121.6" r="1.9"/><circle cx="136.5" cy="121.6" r="1.9"/><circle cx="137.0" cy="121.6" r="1.9"/><circle cx="138.8" cy="121.6" r="1.9"/><circle cx="139.8" cy="121.6" r="1.9"/><circle cx="140.9" cy="121.6" r="1.9"/><circle cx="142.2" cy="121.6" r="1.9"/><circle cx="142.9" cy="121.6" r="1.9"/><circle cx="144.4" cy="121.6" r="1.9"/><circle cx="145.1" cy="121.6" r="1.9"/><circle cx="146.7" cy="121.6" r="1.9"/><circle cx="147.4" cy="121.6" r="1.9"/><circle cx="148.6" cy="121.6" r="1.9"/><circle cx="149.5" cy="121.6" r="1.9"/><circle cx="151.1" cy="121.6" r="1.9"/><circle cx="152.5" cy="121.6" r="1.9"/><circle cx="153.1" cy="121.6" r="1.9"/><circle cx="154.7" cy="121.6" r="1.9"/><circle cx="155.3" cy="121.6" r="1.9"/><circle cx="156.4" cy="121.6" r="1.9"/><circle cx="158.0" cy="121.6" r="1.9"/><circle cx="158.9" cy="121.6" r="1.9"/><circle cx="160.2" cy="121.6" r="1.9"/><circle cx="161.4" cy="121.6" r="1.9"/><circle cx="162.5" cy="121.6" r="1.9"/><circle cx="163.3" cy="121.6" r="1.9"/><circle cx="165.0" cy="121.6" r="1.9"/><circle cx="166.0" cy="121.6" r="1.9"/><circle cx="167.2" cy="121.6" r="1.9"/><circle cx="168.0" cy="121.6" r="1.9"/><circle cx="168.9" cy="121.6" r="1.9"/><circle cx="170.6" cy="121.6" r="1.9"/><circle cx="171.5" cy="121.6" r="1.9"/><circle cx="172.9" cy="121.6" r="1.9"/><circle cx="173.9" cy="121.6" r="1.9"/><circle cx="174.7" cy="121.6" r="1.9"/><circle cx="176.1" cy="121.6" r="1.9"/><circle cx="177.2" cy="121.6" r="1.9"/><circle cx="178.2" cy="121.6" r="1.9"/><circle cx="179.1" cy="121.6" r="1.9"/><circle cx="180.5" cy="121.6" r="1.9"/><circle cx="181.6" cy="121.6" r="1.9"/><circle cx="183.5" cy="121.6" r="1.9"/><circle cx="75.1" cy="118.8" r="1.9"/><circle cx="75.7" cy="118.8" r="1.9"/><circle cx="79.3" cy="118.8" r="1.9"/><circle cx="83.1" cy="118.8" r="1.9"/><circle cx="86.1" cy="118.8" r="1.9"/><circle cx="88.3" cy="118.8" r="1.9"/><circle cx="89.7" cy="118.8" r="1.9"/><circle cx="91.0" cy="118.8" r="1.9"/><circle cx="94.0" cy="118.8" r="1.9"/><circle cx="95.1" cy="118.8" r="1.9"/><circle cx="96.5" cy="118.8" r="1.9"/><circle cx="97.3" cy="118.8" r="1.9"/><circle cx="99.1" cy="118.8" r="1.9"/><circle cx="99.8" cy="118.8" r="1.9"/><circle cx="101.0" cy="118.8" r="1.9"/><circle cx="102.1" cy="118.8" r="1.9"/><circle cx="103.4" cy="118.8" r="1.9"/><circle cx="104.5" cy="118.8" r="1.9"/><circle cx="105.8" cy="118.8" r="1.9"/><circle cx="107.0" cy="118.8" r="1.9"/><circle cx="107.8" cy="118.8" r="1.9"/><circle cx="108.9" cy="118.8" r="1.9"/><circle cx="110.4" cy="118.8" r="1.9"/><circle cx="111.1" cy="118.8" r="1.9"/><circle cx="112.7" cy="118.8" r="1.9"/><circle cx="113.3" cy="118.8" r="1.9"/><circle cx="114.6" cy="118.8" r="1.9"/><circle cx="116.1" cy="118.8" r="1.9"/><circle cx="116.6" cy="118.8" r="1.9"/><circle cx="118.0" cy="118.8" r="1.9"/><circle cx="119.5" cy="118.8" r="1.9"/><circle cx="120.5" cy="118.8" r="1.9"/><circle cx="121.2" cy="118.8" r="1.9"/><circle cx="122.6" cy="118.8" r="1.9"/><circle cx="123.8" cy="118.8" r="1.9"/><circle cx="125.2" cy="118.8" r="1.9"/><circle cx="125.9" cy="118.8" r="1.9"/><circle cx="127.4" cy="118.8" r="1.9"/><circle cx="128.1" cy="118.8" r="1.9"/><circle cx="129.7" cy="118.8" r="1.9"/><circle cx="130.4" cy="118.8" r="1.9"/><circle cx="131.6" cy="118.8" r="1.9"/><circle cx="133.1" cy="118.8" r="1.9"/><circle cx="134.1" cy="118.8" r="1.9"/><circle cx="134.8" cy="118.8" r="1.9"/><circle cx="136.0" cy="118.8" r="1.9"/><circle cx="137.5" cy="118.8" r="1.9"/><circle cx="138.8" cy="118.8" r="1.9"/><circle cx="139.6" cy="118.8" r="1.9"/><circle cx="140.9" cy="118.8" r="1.9"/><circle cx="142.1" cy="118.8" r="1.9"/><circle cx="142.8" cy="118.8" r="1.9"/><circle cx="143.9" cy="118.8" r="1.9"/><circle cx="145.7" cy="118.8" r="1.9"/><circle cx="146.7" cy="118.8" r="1.9"/><circle cx="147.4" cy="118.8" r="1.9"/><circle cx="148.6" cy="118.8" r="1.9"/><circle cx="149.6" cy="118.8" r="1.9"/><circle cx="151.1" cy="118.8" r="1.9"/><circle cx="152.4" cy="118.8" r="1.9"/><circle cx="153.5" cy="118.8" r="1.9"/><circle cx="154.3" cy="118.8" r="1.9"/><circle cx="155.5" cy="118.8" r="1.9"/><circle cx="157.6" cy="118.8" r="1.9"/><circle cx="159.2" cy="118.8" r="1.9"/><circle cx="160.0" cy="118.8" r="1.9"/><circle cx="160.9" cy="118.8" r="1.9"/><circle cx="162.6" cy="118.8" r="1.9"/><circle cx="163.2" cy="118.8" r="1.9"/><circle cx="164.5" cy="118.8" r="1.9"/><circle cx="165.5" cy="118.8" r="1.9"/><circle cx="166.6" cy="118.8" r="1.9"/><circle cx="168.2" cy="118.8" r="1.9"/><circle cx="169.3" cy="118.8" r="1.9"/><circle cx="170.3" cy="118.8" r="1.9"/><circle cx="171.4" cy="118.8" r="1.9"/><circle cx="172.6" cy="118.8" r="1.9"/><circle cx="173.8" cy="118.8" r="1.9"/><circle cx="174.9" cy="118.8" r="1.9"/><circle cx="175.6" cy="118.8" r="1.9"/><circle cx="177.2" cy="118.8" r="1.9"/><circle cx="178.2" cy="118.8" r="1.9"/><circle cx="179.4" cy="118.8" r="1.9"/><circle cx="180.4" cy="118.8" r="1.9"/><circle cx="182.0" cy="118.8" r="1.9"/><circle cx="183.5" cy="118.8" r="1.9"/><circle cx="67.1" cy="116.0" r="1.9"/><circle cx="71.6" cy="116.0" r="1.9"/><circle cx="79.2" cy="116.0" r="1.9"/><circle cx="87.0" cy="116.0" r="1.9"/><circle cx="88.5" cy="116.0" r="1.9"/><circle cx="90.0" cy="116.0" r="1.9"/><circle cx="90.5" cy="116.0" r="1.9"/><circle cx="92.9" cy="116.0" r="1.9"/><circle cx="94.0" cy="116.0" r="1.9"/><circle cx="95.1" cy="116.0" r="1.9"/><circle cx="96.2" cy="116.0" r="1.9"/><circle cx="97.9" cy="116.0" r="1.9"/><circle cx="100.8" cy="116.0" r="1.9"/><circle cx="102.3" cy="116.0" r="1.9"/><circle cx="103.4" cy="116.0" r="1.9"/><circle cx="104.7" cy="116.0" r="1.9"/><circle cx="105.4" cy="116.0" r="1.9"/><circle cx="106.7" cy="116.0" r="1.9"/><circle cx="109.1" cy="116.0" r="1.9"/><circle cx="109.8" cy="116.0" r="1.9"/><circle cx="111.3" cy="116.0" r="1.9"/><circle cx="112.2" cy="116.0" r="1.9"/><circle cx="113.4" cy="116.0" r="1.9"/><circle cx="114.4" cy="116.0" r="1.9"/><circle cx="115.8" cy="116.0" r="1.9"/><circle cx="117.1" cy="116.0" r="1.9"/><circle cx="118.2" cy="116.0" r="1.9"/><circle cx="118.9" cy="116.0" r="1.9"/><circle cx="120.5" cy="116.0" r="1.9"/><circle cx="121.7" cy="116.0" r="1.9"/><circle cx="122.8" cy="116.0" r="1.9"/><circle cx="124.1" cy="116.0" r="1.9"/><circle cx="124.9" cy="116.0" r="1.9"/><circle cx="125.8" cy="116.0" r="1.9"/><circle cx="127.4" cy="116.0" r="1.9"/><circle cx="128.6" cy="116.0" r="1.9"/><circle cx="129.5" cy="116.0" r="1.9"/><circle cx="130.2" cy="116.0" r="1.9"/><circle cx="131.6" cy="116.0" r="1.9"/><circle cx="132.6" cy="116.0" r="1.9"/><circle cx="134.1" cy="116.0" r="1.9"/><circle cx="135.3" cy="116.0" r="1.9"/><circle cx="136.6" cy="116.0" r="1.9"/><circle cx="137.2" cy="116.0" r="1.9"/><circle cx="138.2" cy="116.0" r="1.9"/><circle cx="139.5" cy="116.0" r="1.9"/><circle cx="141.0" cy="116.0" r="1.9"/><circle cx="142.2" cy="116.0" r="1.9"/><circle cx="143.0" cy="116.0" r="1.9"/><circle cx="143.8" cy="116.0" r="1.9"/><circle cx="145.1" cy="116.0" r="1.9"/><circle cx="146.7" cy="116.0" r="1.9"/><circle cx="147.9" cy="116.0" r="1.9"/><circle cx="148.6" cy="116.0" r="1.9"/><circle cx="150.1" cy="116.0" r="1.9"/><circle cx="151.2" cy="116.0" r="1.9"/><circle cx="152.1" cy="116.0" r="1.9"/><circle cx="153.2" cy="116.0" r="1.9"/><circle cx="154.6" cy="116.0" r="1.9"/><circle cx="155.3" cy="116.0" r="1.9"/><circle cx="156.4" cy="116.0" r="1.9"/><circle cx="157.6" cy="116.0" r="1.9"/><circle cx="158.8" cy="116.0" r="1.9"/><circle cx="160.3" cy="116.0" r="1.9"/><circle cx="161.4" cy="116.0" r="1.9"/><circle cx="162.1" cy="116.0" r="1.9"/><circle cx="163.2" cy="116.0" r="1.9"/><circle cx="165.0" cy="116.0" r="1.9"/><circle cx="166.0" cy="116.0" r="1.9"/><circle cx="166.6" cy="116.0" r="1.9"/><circle cx="167.9" cy="116.0" r="1.9"/><circle cx="169.1" cy="116.0" r="1.9"/><circle cx="170.0" cy="116.0" r="1.9"/><circle cx="171.3" cy="116.0" r="1.9"/><circle cx="172.7" cy="116.0" r="1.9"/><circle cx="173.8" cy="116.0" r="1.9"/><circle cx="174.9" cy="116.0" r="1.9"/><circle cx="175.7" cy="116.0" r="1.9"/><circle cx="177.2" cy="116.0" r="1.9"/><circle cx="178.3" cy="116.0" r="1.9"/><circle cx="179.5" cy="116.0" r="1.9"/><circle cx="180.8" cy="116.0" r="1.9"/><circle cx="181.3" cy="116.0" r="1.9"/><circle cx="183.5" cy="116.0" r="1.9"/><circle cx="83.6" cy="113.1" r="1.9"/><circle cx="86.6" cy="113.1" r="1.9"/><circle cx="88.6" cy="113.1" r="1.9"/><circle cx="89.9" cy="113.1" r="1.9"/><circle cx="93.0" cy="113.1" r="1.9"/><circle cx="95.0" cy="113.1" r="1.9"/><circle cx="96.7" cy="113.1" r="1.9"/><circle cx="97.9" cy="113.1" r="1.9"/><circle cx="99.0" cy="113.1" r="1.9"/><circle cx="100.0" cy="113.1" r="1.9"/><circle cx="100.9" cy="113.1" r="1.9"/><circle cx="103.3" cy="113.1" r="1.9"/><circle cx="104.7" cy="113.1" r="1.9"/><circle cx="106.4" cy="113.1" r="1.9"/><circle cx="107.6" cy="113.1" r="1.9"/><circle cx="111.2" cy="113.1" r="1.9"/><circle cx="112.4" cy="113.1" r="1.9"/><circle cx="113.1" cy="113.1" r="1.9"/><circle cx="114.7" cy="113.1" r="1.9"/><circle cx="116.1" cy="113.1" r="1.9"/><circle cx="117.3" cy="113.1" r="1.9"/><circle cx="117.8" cy="113.1" r="1.9"/><circle cx="119.3" cy="113.1" r="1.9"/><circle cx="121.7" cy="113.1" r="1.9"/><circle cx="122.9" cy="113.1" r="1.9"/><circle cx="123.7" cy="113.1" r="1.9"/><circle cx="124.8" cy="113.1" r="1.9"/><circle cx="125.7" cy="113.1" r="1.9"/><circle cx="127.0" cy="113.1" r="1.9"/><circle cx="128.0" cy="113.1" r="1.9"/><circle cx="129.6" cy="113.1" r="1.9"/><circle cx="130.6" cy="113.1" r="1.9"/><circle cx="132.0" cy="113.1" r="1.9"/><circle cx="132.8" cy="113.1" r="1.9"/><circle cx="134.3" cy="113.1" r="1.9"/><circle cx="135.4" cy="113.1" r="1.9"/><circle cx="136.6" cy="113.1" r="1.9"/><circle cx="137.2" cy="113.1" r="1.9"/><circle cx="138.8" cy="113.1" r="1.9"/><circle cx="139.8" cy="113.1" r="1.9"/><circle cx="141.0" cy="113.1" r="1.9"/><circle cx="141.6" cy="113.1" r="1.9"/><circle cx="142.8" cy="113.1" r="1.9"/><circle cx="143.9" cy="113.1" r="1.9"/><circle cx="145.6" cy="113.1" r="1.9"/><circle cx="147.7" cy="113.1" r="1.9"/><circle cx="149.0" cy="113.1" r="1.9"/><circle cx="149.6" cy="113.1" r="1.9"/><circle cx="150.6" cy="113.1" r="1.9"/><circle cx="151.9" cy="113.1" r="1.9"/><circle cx="153.6" cy="113.1" r="1.9"/><circle cx="154.4" cy="113.1" r="1.9"/><circle cx="157.0" cy="113.1" r="1.9"/><circle cx="157.5" cy="113.1" r="1.9"/><circle cx="159.1" cy="113.1" r="1.9"/><circle cx="160.4" cy="113.1" r="1.9"/><circle cx="161.4" cy="113.1" r="1.9"/><circle cx="162.4" cy="113.1" r="1.9"/><circle cx="163.5" cy="113.1" r="1.9"/><circle cx="164.8" cy="113.1" r="1.9"/><circle cx="165.6" cy="113.1" r="1.9"/><circle cx="166.9" cy="113.1" r="1.9"/><circle cx="168.2" cy="113.1" r="1.9"/><circle cx="169.4" cy="113.1" r="1.9"/><circle cx="170.2" cy="113.1" r="1.9"/><circle cx="171.7" cy="113.1" r="1.9"/><circle cx="172.7" cy="113.1" r="1.9"/><circle cx="173.8" cy="113.1" r="1.9"/><circle cx="175.0" cy="113.1" r="1.9"/><circle cx="175.7" cy="113.1" r="1.9"/><circle cx="178.3" cy="113.1" r="1.9"/><circle cx="179.1" cy="113.1" r="1.9"/><circle cx="180.6" cy="113.1" r="1.9"/><circle cx="181.5" cy="113.1" r="1.9"/><circle cx="183.5" cy="113.1" r="1.9"/><circle cx="87.7" cy="110.3" r="1.9"/><circle cx="92.9" cy="110.3" r="1.9"/><circle cx="98.6" cy="110.3" r="1.9"/><circle cx="100.2" cy="110.3" r="1.9"/><circle cx="101.0" cy="110.3" r="1.9"/><circle cx="103.6" cy="110.3" r="1.9"/><circle cx="105.3" cy="110.3" r="1.9"/><circle cx="106.7" cy="110.3" r="1.9"/><circle cx="107.9" cy="110.3" r="1.9"/><circle cx="111.4" cy="110.3" r="1.9"/><circle cx="112.7" cy="110.3" r="1.9"/><circle cx="113.1" cy="110.3" r="1.9"/><circle cx="116.0" cy="110.3" r="1.9"/><circle cx="117.1" cy="110.3" r="1.9"/><circle cx="118.3" cy="110.3" r="1.9"/><circle cx="119.3" cy="110.3" r="1.9"/><circle cx="120.3" cy="110.3" r="1.9"/><circle cx="121.3" cy="110.3" r="1.9"/><circle cx="122.5" cy="110.3" r="1.9"/><circle cx="123.6" cy="110.3" r="1.9"/><circle cx="124.6" cy="110.3" r="1.9"/><circle cx="125.7" cy="110.3" r="1.9"/><circle cx="126.9" cy="110.3" r="1.9"/><circle cx="128.1" cy="110.3" r="1.9"/><circle cx="129.6" cy="110.3" r="1.9"/><circle cx="130.8" cy="110.3" r="1.9"/><circle cx="131.6" cy="110.3" r="1.9"/><circle cx="132.5" cy="110.3" r="1.9"/><circle cx="135.4" cy="110.3" r="1.9"/><circle cx="136.4" cy="110.3" r="1.9"/><circle cx="137.6" cy="110.3" r="1.9"/><circle cx="138.4" cy="110.3" r="1.9"/><circle cx="139.4" cy="110.3" r="1.9"/><circle cx="141.1" cy="110.3" r="1.9"/><circle cx="142.1" cy="110.3" r="1.9"/><circle cx="143.0" cy="110.3" r="1.9"/><circle cx="144.2" cy="110.3" r="1.9"/><circle cx="145.5" cy="110.3" r="1.9"/><circle cx="146.5" cy="110.3" r="1.9"/><circle cx="147.9" cy="110.3" r="1.9"/><circle cx="148.9" cy="110.3" r="1.9"/><circle cx="149.8" cy="110.3" r="1.9"/><circle cx="152.0" cy="110.3" r="1.9"/><circle cx="153.4" cy="110.3" r="1.9"/><circle cx="154.6" cy="110.3" r="1.9"/><circle cx="155.2" cy="110.3" r="1.9"/><circle cx="156.6" cy="110.3" r="1.9"/><circle cx="157.8" cy="110.3" r="1.9"/><circle cx="158.6" cy="110.3" r="1.9"/><circle cx="160.1" cy="110.3" r="1.9"/><circle cx="161.1" cy="110.3" r="1.9"/><circle cx="162.2" cy="110.3" r="1.9"/><circle cx="163.4" cy="110.3" r="1.9"/><circle cx="164.6" cy="110.3" r="1.9"/><circle cx="167.2" cy="110.3" r="1.9"/><circle cx="168.4" cy="110.3" r="1.9"/><circle cx="169.5" cy="110.3" r="1.9"/><circle cx="170.6" cy="110.3" r="1.9"/><circle cx="171.6" cy="110.3" r="1.9"/><circle cx="172.5" cy="110.3" r="1.9"/><circle cx="173.5" cy="110.3" r="1.9"/><circle cx="174.7" cy="110.3" r="1.9"/><circle cx="175.8" cy="110.3" r="1.9"/><circle cx="176.9" cy="110.3" r="1.9"/><circle cx="178.6" cy="110.3" r="1.9"/><circle cx="179.6" cy="110.3" r="1.9"/><circle cx="180.7" cy="110.3" r="1.9"/><circle cx="182.0" cy="110.3" r="1.9"/><circle cx="183.5" cy="110.3" r="1.9"/><circle cx="89.4" cy="107.5" r="1.9"/><circle cx="95.6" cy="107.5" r="1.9"/><circle cx="96.2" cy="107.5" r="1.9"/><circle cx="97.4" cy="107.5" r="1.9"/><circle cx="98.8" cy="107.5" r="1.9"/><circle cx="101.3" cy="107.5" r="1.9"/><circle cx="105.3" cy="107.5" r="1.9"/><circle cx="109.0" cy="107.5" r="1.9"/><circle cx="110.4" cy="107.5" r="1.9"/><circle cx="111.5" cy="107.5" r="1.9"/><circle cx="112.5" cy="107.5" r="1.9"/><circle cx="115.8" cy="107.5" r="1.9"/><circle cx="116.6" cy="107.5" r="1.9"/><circle cx="117.8" cy="107.5" r="1.9"/><circle cx="120.1" cy="107.5" r="1.9"/><circle cx="121.1" cy="107.5" r="1.9"/><circle cx="122.7" cy="107.5" r="1.9"/><circle cx="123.8" cy="107.5" r="1.9"/><circle cx="128.5" cy="107.5" r="1.9"/><circle cx="129.7" cy="107.5" r="1.9"/><circle cx="130.9" cy="107.5" r="1.9"/><circle cx="131.9" cy="107.5" r="1.9"/><circle cx="133.0" cy="107.5" r="1.9"/><circle cx="134.2" cy="107.5" r="1.9"/><circle cx="135.2" cy="107.5" r="1.9"/><circle cx="137.7" cy="107.5" r="1.9"/><circle cx="138.7" cy="107.5" r="1.9"/><circle cx="139.6" cy="107.5" r="1.9"/><circle cx="141.1" cy="107.5" r="1.9"/><circle cx="142.2" cy="107.5" r="1.9"/><circle cx="143.1" cy="107.5" r="1.9"/><circle cx="144.1" cy="107.5" r="1.9"/><circle cx="145.5" cy="107.5" r="1.9"/><circle cx="146.4" cy="107.5" r="1.9"/><circle cx="147.8" cy="107.5" r="1.9"/><circle cx="152.2" cy="107.5" r="1.9"/><circle cx="153.2" cy="107.5" r="1.9"/><circle cx="154.5" cy="107.5" r="1.9"/><circle cx="156.6" cy="107.5" r="1.9"/><circle cx="157.9" cy="107.5" r="1.9"/><circle cx="159.1" cy="107.5" r="1.9"/><circle cx="160.3" cy="107.5" r="1.9"/><circle cx="161.3" cy="107.5" r="1.9"/><circle cx="162.6" cy="107.5" r="1.9"/><circle cx="163.7" cy="107.5" r="1.9"/><circle cx="165.5" cy="107.5" r="1.9"/><circle cx="166.6" cy="107.5" r="1.9"/><circle cx="169.1" cy="107.5" r="1.9"/><circle cx="170.1" cy="107.5" r="1.9"/><circle cx="171.8" cy="107.5" r="1.9"/><circle cx="172.9" cy="107.5" r="1.9"/><circle cx="173.7" cy="107.5" r="1.9"/><circle cx="177.5" cy="107.5" r="1.9"/><circle cx="178.4" cy="107.5" r="1.9"/><circle cx="179.7" cy="107.5" r="1.9"/><circle cx="180.4" cy="107.5" r="1.9"/><circle cx="181.4" cy="107.5" r="1.9"/><circle cx="183.5" cy="107.5" r="1.9"/><circle cx="86.2" cy="104.7" r="1.9"/><circle cx="98.8" cy="104.7" r="1.9"/><circle cx="100.2" cy="104.7" r="1.9"/><circle cx="102.0" cy="104.7" r="1.9"/><circle cx="104.3" cy="104.7" r="1.9"/><circle cx="107.6" cy="104.7" r="1.9"/><circle cx="108.9" cy="104.7" r="1.9"/><circle cx="115.7" cy="104.7" r="1.9"/><circle cx="117.0" cy="104.7" r="1.9"/><circle cx="120.5" cy="104.7" r="1.9"/><circle cx="121.7" cy="104.7" r="1.9"/><circle cx="122.8" cy="104.7" r="1.9"/><circle cx="124.7" cy="104.7" r="1.9"/><circle cx="126.0" cy="104.7" r="1.9"/><circle cx="129.1" cy="104.7" r="1.9"/><circle cx="132.9" cy="104.7" r="1.9"/><circle cx="137.2" cy="104.7" r="1.9"/><circle cx="138.6" cy="104.7" r="1.9"/><circle cx="139.5" cy="104.7" r="1.9"/><circle cx="140.4" cy="104.7" r="1.9"/><circle cx="141.7" cy="104.7" r="1.9"/><circle cx="142.8" cy="104.7" r="1.9"/><circle cx="145.5" cy="104.7" r="1.9"/><circle cx="147.5" cy="104.7" r="1.9"/><circle cx="148.7" cy="104.7" r="1.9"/><circle cx="150.8" cy="104.7" r="1.9"/><circle cx="153.5" cy="104.7" r="1.9"/><circle cx="154.1" cy="104.7" r="1.9"/><circle cx="157.0" cy="104.7" r="1.9"/><circle cx="160.9" cy="104.7" r="1.9"/><circle cx="162.3" cy="104.7" r="1.9"/><circle cx="163.6" cy="104.7" r="1.9"/><circle cx="170.0" cy="104.7" r="1.9"/><circle cx="171.7" cy="104.7" r="1.9"/><circle cx="172.3" cy="104.7" r="1.9"/><circle cx="173.5" cy="104.7" r="1.9"/><circle cx="176.3" cy="104.7" r="1.9"/><circle cx="180.3" cy="104.7" r="1.9"/><circle cx="181.3" cy="104.7" r="1.9"/><circle cx="183.5" cy="104.7" r="1.9"/><circle cx="85.3" cy="101.9" r="1.9"/><circle cx="87.1" cy="101.9" r="1.9"/><circle cx="95.4" cy="101.9" r="1.9"/><circle cx="97.8" cy="101.9" r="1.9"/><circle cx="103.6" cy="101.9" r="1.9"/><circle cx="108.7" cy="101.9" r="1.9"/><circle cx="111.1" cy="101.9" r="1.9"/><circle cx="113.4" cy="101.9" r="1.9"/><circle cx="118.0" cy="101.9" r="1.9"/><circle cx="119.1" cy="101.9" r="1.9"/><circle cx="120.3" cy="101.9" r="1.9"/><circle cx="121.7" cy="101.9" r="1.9"/><circle cx="122.9" cy="101.9" r="1.9"/><circle cx="123.5" cy="101.9" r="1.9"/><circle cx="125.1" cy="101.9" r="1.9"/><circle cx="126.2" cy="101.9" r="1.9"/><circle cx="128.0" cy="101.9" r="1.9"/><circle cx="129.4" cy="101.9" r="1.9"/><circle cx="132.0" cy="101.9" r="1.9"/><circle cx="133.0" cy="101.9" r="1.9"/><circle cx="134.3" cy="101.9" r="1.9"/><circle cx="135.4" cy="101.9" r="1.9"/><circle cx="136.1" cy="101.9" r="1.9"/><circle cx="137.2" cy="101.9" r="1.9"/><circle cx="138.8" cy="101.9" r="1.9"/><circle cx="140.8" cy="101.9" r="1.9"/><circle cx="141.6" cy="101.9" r="1.9"/><circle cx="144.5" cy="101.9" r="1.9"/><circle cx="146.6" cy="101.9" r="1.9"/><circle cx="151.1" cy="101.9" r="1.9"/><circle cx="152.2" cy="101.9" r="1.9"/><circle cx="154.4" cy="101.9" r="1.9"/><circle cx="155.8" cy="101.9" r="1.9"/><circle cx="156.6" cy="101.9" r="1.9"/><circle cx="159.2" cy="101.9" r="1.9"/><circle cx="161.1" cy="101.9" r="1.9"/><circle cx="162.3" cy="101.9" r="1.9"/><circle cx="163.4" cy="101.9" r="1.9"/><circle cx="171.7" cy="101.9" r="1.9"/><circle cx="172.4" cy="101.9" r="1.9"/><circle cx="175.2" cy="101.9" r="1.9"/><circle cx="177.2" cy="101.9" r="1.9"/><circle cx="183.5" cy="101.9" r="1.9"/><circle cx="79.1" cy="99.0" r="1.9"/><circle cx="91.8" cy="99.0" r="1.9"/><circle cx="94.5" cy="99.0" r="1.9"/><circle cx="96.5" cy="99.0" r="1.9"/><circle cx="101.1" cy="99.0" r="1.9"/><circle cx="105.3" cy="99.0" r="1.9"/><circle cx="106.5" cy="99.0" r="1.9"/><circle cx="111.5" cy="99.0" r="1.9"/><circle cx="119.3" cy="99.0" r="1.9"/><circle cx="121.2" cy="99.0" r="1.9"/><circle cx="126.3" cy="99.0" r="1.9"/><circle cx="126.9" cy="99.0" r="1.9"/><circle cx="128.2" cy="99.0" r="1.9"/><circle cx="129.7" cy="99.0" r="1.9"/><circle cx="131.7" cy="99.0" r="1.9"/><circle cx="134.0" cy="99.0" r="1.9"/><circle cx="135.1" cy="99.0" r="1.9"/><circle cx="136.5" cy="99.0" r="1.9"/><circle cx="137.0" cy="99.0" r="1.9"/><circle cx="139.7" cy="99.0" r="1.9"/><circle cx="142.2" cy="99.0" r="1.9"/><circle cx="142.8" cy="99.0" r="1.9"/><circle cx="144.5" cy="99.0" r="1.9"/><circle cx="145.6" cy="99.0" r="1.9"/><circle cx="149.0" cy="99.0" r="1.9"/><circle cx="152.5" cy="99.0" r="1.9"/><circle cx="154.8" cy="99.0" r="1.9"/><circle cx="155.3" cy="99.0" r="1.9"/><circle cx="156.7" cy="99.0" r="1.9"/><circle cx="157.5" cy="99.0" r="1.9"/><circle cx="161.3" cy="99.0" r="1.9"/><circle cx="162.4" cy="99.0" r="1.9"/><circle cx="163.3" cy="99.0" r="1.9"/><circle cx="164.7" cy="99.0" r="1.9"/><circle cx="168.4" cy="99.0" r="1.9"/><circle cx="169.0" cy="99.0" r="1.9"/><circle cx="171.3" cy="99.0" r="1.9"/><circle cx="176.1" cy="99.0" r="1.9"/><circle cx="177.4" cy="99.0" r="1.9"/><circle cx="180.5" cy="99.0" r="1.9"/><circle cx="183.5" cy="99.0" r="1.9"/><circle cx="121.5" cy="96.2" r="1.9"/><circle cx="123.6" cy="96.2" r="1.9"/><circle cx="125.0" cy="96.2" r="1.9"/><circle cx="134.8" cy="96.2" r="1.9"/><circle cx="141.8" cy="96.2" r="1.9"/><circle cx="144.2" cy="96.2" r="1.9"/><circle cx="146.5" cy="96.2" r="1.9"/><circle cx="147.8" cy="96.2" r="1.9"/><circle cx="149.9" cy="96.2" r="1.9"/><circle cx="150.8" cy="96.2" r="1.9"/><circle cx="160.3" cy="96.2" r="1.9"/><circle cx="163.6" cy="96.2" r="1.9"/><circle cx="164.5" cy="96.2" r="1.9"/><circle cx="167.1" cy="96.2" r="1.9"/><circle cx="169.2" cy="96.2" r="1.9"/><circle cx="171.6" cy="96.2" r="1.9"/><circle cx="179.6" cy="96.2" r="1.9"/><circle cx="180.5" cy="96.2" r="1.9"/><circle cx="183.5" cy="96.2" r="1.9"/><circle cx="115.5" cy="93.4" r="1.9"/><circle cx="117.1" cy="93.4" r="1.9"/><circle cx="120.7" cy="93.4" r="1.9"/><circle cx="126.3" cy="93.4" r="1.9"/><circle cx="130.5" cy="93.4" r="1.9"/><circle cx="134.3" cy="93.4" r="1.9"/><circle cx="144.2" cy="93.4" r="1.9"/><circle cx="148.9" cy="93.4" r="1.9"/><circle cx="159.0" cy="93.4" r="1.9"/><circle cx="159.8" cy="93.4" r="1.9"/><circle cx="163.4" cy="93.4" r="1.9"/><circle cx="167.7" cy="93.4" r="1.9"/><circle cx="169.3" cy="93.4" r="1.9"/><circle cx="172.8" cy="93.4" r="1.9"/><circle cx="180.6" cy="93.4" r="1.9"/><circle cx="95.5" cy="90.6" r="1.9"/><circle cx="109.1" cy="90.6" r="1.9"/><circle cx="113.3" cy="90.6" r="1.9"/><circle cx="124.6" cy="90.6" r="1.9"/><circle cx="126.1" cy="90.6" r="1.9"/><circle cx="138.3" cy="90.6" r="1.9"/><circle cx="139.8" cy="90.6" r="1.9"/><circle cx="140.8" cy="90.6" r="1.9"/><circle cx="144.0" cy="90.6" r="1.9"/><circle cx="146.7" cy="90.6" r="1.9"/><circle cx="147.3" cy="90.6" r="1.9"/><circle cx="153.5" cy="90.6" r="1.9"/><circle cx="161.3" cy="90.6" r="1.9"/><circle cx="168.9" cy="90.6" r="1.9"/><circle cx="170.1" cy="90.6" r="1.9"/><circle cx="183.5" cy="90.6" r="1.9"/><circle cx="96.7" cy="87.8" r="1.9"/><circle cx="121.4" cy="87.8" r="1.9"/><circle cx="133.7" cy="87.8" r="1.9"/><circle cx="139.7" cy="87.8" r="1.9"/><circle cx="144.1" cy="87.8" r="1.9"/><circle cx="145.4" cy="87.8" r="1.9"/><circle cx="153.6" cy="87.8" r="1.9"/><circle cx="160.4" cy="87.8" r="1.9"/><circle cx="162.7" cy="87.8" r="1.9"/><circle cx="170.4" cy="87.8" r="1.9"/><circle cx="171.4" cy="87.8" r="1.9"/><circle cx="123.9" cy="84.9" r="1.9"/><circle cx="136.6" cy="84.9" r="1.9"/><circle cx="138.1" cy="84.9" r="1.9"/><circle cx="147.7" cy="84.9" r="1.9"/><circle cx="149.0" cy="84.9" r="1.9"/><circle cx="162.1" cy="84.9" r="1.9"/><circle cx="183.5" cy="84.9" r="1.9"/><circle cx="120.4" cy="82.1" r="1.9"/><circle cx="127.1" cy="82.1" r="1.9"/><circle cx="131.4" cy="82.1" r="1.9"/><circle cx="141.9" cy="82.1" r="1.9"/><circle cx="107.0" cy="79.3" r="1.9"/><circle cx="115.6" cy="79.3" r="1.9"/><circle cx="119.2" cy="79.3" r="1.9"/><circle cx="144.3" cy="79.3" r="1.9"/><circle cx="152.5" cy="79.3" r="1.9"/><circle cx="183.5" cy="79.3" r="1.9"/><circle cx="134.8" cy="76.5" r="1.9"/><circle cx="180.7" cy="76.5" r="1.9"/><circle cx="133.8" cy="73.7" r="1.9"/><circle cx="179.3" cy="70.8" r="1.9"/><circle cx="140.5" cy="68.0" r="1.9"/></g><g fill="#a0a0ff"><rect x="67.2" y="204.3" width="1.2" height="1"/><rect x="83.2" y="204.3" width="1.2" height="1"/><rect x="109.0" y="204.3" width="1.2" height="1"/><rect x="117.1" y="204.3" width="1.2" height="1"/><rect x="157.1" y="204.3" width="1.2" height="1"/><rect x="54.8" y="201.5" width="1.2" height="1"/><rect x="60.9" y="201.5" width="1.2" height="1"/><rect x="108.1" y="201.5" width="1.2" height="1"/><rect x="197.3" y="201.5" width="1.2" height="1"/><rect x="90.8" y="198.6" width="1.2" height="1"/><rect x="175.2" y="198.6" width="1.2" height="1"/><rect x="93.3" y="195.8" width="1.2" height="1"/><rect x="125.0" y="195.8" width="1.2" height="1"/><rect x="156.2" y="195.8" width="1.2" height="1"/><rect x="189.3" y="195.8" width="1.2" height="1"/><rect x="68.0" y="193.0" width="1.2" height="1"/><rect x="69.1" y="193.0" width="1.2" height="1"/><rect x="76.9" y="193.0" width="1.2" height="1"/><rect x="78.1" y="193.0" width="1.2" height="1"/><rect x="82.1" y="193.0" width="1.2" height="1"/><rect x="84.8" y="193.0" width="1.2" height="1"/><rect x="88.3" y="193.0" width="1.2" height="1"/><rect x="90.1" y="193.0" width="1.2" height="1"/><rect x="97.8" y="193.0" width="1.2" height="1"/><rect x="101.2" y="193.0" width="1.2" height="1"/><rect x="102.8" y="193.0" width="1.2" height="1"/><rect x="105.8" y="193.0" width="1.2" height="1"/><rect x="106.9" y="193.0" width="1.2" height="1"/><rect x="137.7" y="193.0" width="1.2" height="1"/><rect x="141.1" y="193.0" width="1.2" height="1"/><rect x="145.1" y="193.0" width="1.2" height="1"/><rect x="148.9" y="193.0" width="1.2" height="1"/><rect x="170.9" y="193.0" width="1.2" height="1"/><rect x="172.7" y="193.0" width="1.2" height="1"/><rect x="198.7" y="193.0" width="1.2" height="1"/><rect x="70.9" y="190.2" width="1.2" height="1"/><rect x="78.2" y="190.2" width="1.2" height="1"/><rect x="84.9" y="190.2" width="1.2" height="1"/><rect x="98.2" y="190.2" width="1.2" height="1"/><rect x="98.9" y="190.2" width="1.2" height="1"/><rect x="103.3" y="190.2" width="1.2" height="1"/><rect x="103.7" y="190.2" width="1.2" height="1"/><rect x="110.1" y="190.2" width="1.2" height="1"/><rect x="115.2" y="190.2" width="1.2" height="1"/><rect x="117.9" y="190.2" width="1.2" height="1"/><rect x="123.0" y="190.2" width="1.2" height="1"/><rect x="123.8" y="190.2" width="1.2" height="1"/><rect x="125.2" y="190.2" width="1.2" height="1"/><rect x="142.8" y="190.2" width="1.2" height="1"/><rect x="148.7" y="190.2" width="1.2" height="1"/><rect x="155.9" y="190.2" width="1.2" height="1"/><rect x="162.9" y="190.2" width="1.2" height="1"/><rect x="172.8" y="190.2" width="1.2" height="1"/><rect x="173.8" y="190.2" width="1.2" height="1"/><rect x="174.9" y="190.2" width="1.2" height="1"/><rect x="176.3" y="190.2" width="1.2" height="1"/><rect x="178.1" y="190.2" width="1.2" height="1"/><rect x="187.9" y="190.2" width="1.2" height="1"/><rect x="189.9" y="190.2" width="1.2" height="1"/><rect x="192.1" y="190.2" width="1.2" height="1"/><rect x="194.8" y="190.2" width="1.2" height="1"/><rect x="197.1" y="190.2" width="1.2" height="1"/><rect x="78.3" y="187.4" width="1.2" height="1"/><rect x="83.2" y="187.4" width="1.2" height="1"/><rect x="96.2" y="187.4" width="1.2" height="1"/><rect x="101.0" y="187.4" width="1.2" height="1"/><rect x="101.8" y="187.4" width="1.2" height="1"/><rect x="108.8" y="187.4" width="1.2" height="1"/><rect x="118.2" y="187.4" width="1.2" height="1"/><rect x="123.1" y="187.4" width="1.2" height="1"/><rect x="126.2" y="187.4" width="1.2" height="1"/><rect x="132.2" y="187.4" width="1.2" height="1"/><rect x="135.8" y="187.4" width="1.2" height="1"/><rect x="141.9" y="187.4" width="1.2" height="1"/><rect x="166.1" y="187.4" width="1.2" height="1"/><rect x="167.1" y="187.4" width="1.2" height="1"/><rect x="169.8" y="187.4" width="1.2" height="1"/><rect x="175.1" y="187.4" width="1.2" height="1"/><rect x="187.8" y="187.4" width="1.2" height="1"/><rect x="64.2" y="184.5" width="1.2" height="1"/><rect x="72.3" y="184.5" width="1.2" height="1"/><rect x="75.2" y="184.5" width="1.2" height="1"/><rect x="76.8" y="184.5" width="1.2" height="1"/><rect x="78.7" y="184.5" width="1.2" height="1"/><rect x="79.8" y="184.5" width="1.2" height="1"/><rect x="86.8" y="184.5" width="1.2" height="1"/><rect x="94.3" y="184.5" width="1.2" height="1"/><rect x="105.3" y="184.5" width="1.2" height="1"/><rect x="109.8" y="184.5" width="1.2" height="1"/><rect x="115.7" y="184.5" width="1.2" height="1"/><rect x="116.8" y="184.5" width="1.2" height="1"/><rect x="125.1" y="184.5" width="1.2" height="1"/><rect x="135.9" y="184.5" width="1.2" height="1"/><rect x="143.1" y="184.5" width="1.2" height="1"/><rect x="144.8" y="184.5" width="1.2" height="1"/><rect x="161.0" y="184.5" width="1.2" height="1"/><rect x="163.3" y="184.5" width="1.2" height="1"/><rect x="183.2" y="184.5" width="1.2" height="1"/><rect x="193.8" y="184.5" width="1.2" height="1"/><rect x="195.0" y="184.5" width="1.2" height="1"/><rect x="198.9" y="184.5" width="1.2" height="1"/><rect x="68.9" y="181.7" width="1.2" height="1"/><rect x="71.9" y="181.7" width="1.2" height="1"/><rect x="76.2" y="181.7" width="1.2" height="1"/><rect x="87.8" y="181.7" width="1.2" height="1"/><rect x="97.2" y="181.7" width="1.2" height="1"/><rect x="104.8" y="181.7" width="1.2" height="1"/><rect x="112.2" y="181.7" width="1.2" height="1"/><rect x="113.2" y="181.7" width="1.2" height="1"/><rect x="115.3" y="181.7" width="1.2" height="1"/><rect x="119.8" y="181.7" width="1.2" height="1"/><rect x="131.9" y="181.7" width="1.2" height="1"/><rect x="138.0" y="181.7" width="1.2" height="1"/><rect x="143.1" y="181.7" width="1.2" height="1"/><rect x="146.7" y="181.7" width="1.2" height="1"/><rect x="180.9" y="181.7" width="1.2" height="1"/><rect x="188.3" y="181.7" width="1.2" height="1"/><rect x="192.0" y="181.7" width="1.2" height="1"/><rect x="196.9" y="181.7" width="1.2" height="1"/><rect x="73.9" y="178.9" width="1.2" height="1"/><rect x="83.9" y="178.9" width="1.2" height="1"/><rect x="89.8" y="178.9" width="1.2" height="1"/><rect x="95.7" y="178.9" width="1.2" height="1"/><rect x="97.0" y="178.9" width="1.2" height="1"/><rect x="99.3" y="178.9" width="1.2" height="1"/><rect x="100.0" y="178.9" width="1.2" height="1"/><rect x="101.9" y="178.9" width="1.2" height="1"/><rect x="106.7" y="178.9" width="1.2" height="1"/><rect x="108.9" y="178.9" width="1.2" height="1"/><rect x="111.2" y="178.9" width="1.2" height="1"/><rect x="130.9" y="178.9" width="1.2" height="1"/><rect x="137.8" y="178.9" width="1.2" height="1"/><rect x="142.7" y="178.9" width="1.2" height="1"/><rect x="149.0" y="178.9" width="1.2" height="1"/><rect x="152.0" y="178.9" width="1.2" height="1"/><rect x="156.9" y="178.9" width="1.2" height="1"/><rect x="160.1" y="178.9" width="1.2" height="1"/><rect x="169.1" y="178.9" width="1.2" height="1"/><rect x="192.9" y="178.9" width="1.2" height="1"/><rect x="195.9" y="178.9" width="1.2" height="1"/><rect x="71.3" y="176.1" width="1.2" height="1"/><rect x="87.0" y="176.1" width="1.2" height="1"/><rect x="88.8" y="176.1" width="1.2" height="1"/><rect x="101.1" y="176.1" width="1.2" height="1"/><rect x="102.9" y="176.1" width="1.2" height="1"/><rect x="105.2" y="176.1" width="1.2" height="1"/><rect x="112.0" y="176.1" width="1.2" height="1"/><rect x="118.9" y="176.1" width="1.2" height="1"/><rect x="122.0" y="176.1" width="1.2" height="1"/><rect x="139.0" y="176.1" width="1.2" height="1"/><rect x="148.9" y="176.1" width="1.2" height="1"/><rect x="151.8" y="176.1" width="1.2" height="1"/><rect x="162.7" y="176.1" width="1.2" height="1"/><rect x="171.0" y="176.1" width="1.2" height="1"/><rect x="183.9" y="176.1" width="1.2" height="1"/><rect x="195.3" y="176.1" width="1.2" height="1"/><rect x="196.8" y="176.1" width="1.2" height="1"/><rect x="199.1" y="176.1" width="1.2" height="1"/><rect x="85.2" y="173.3" width="1.2" height="1"/><rect x="88.3" y="173.3" width="1.2" height="1"/><rect x="93.0" y="173.3" width="1.2" height="1"/><rect x="97.0" y="173.3" width="1.2" height="1"/><rect x="99.7" y="173.3" width="1.2" height="1"/><rect x="110.3" y="173.3" width="1.2" height="1"/><rect x="114.1" y="173.3" width="1.2" height="1"/><rect x="117.8" y="173.3" width="1.2" height="1"/><rect x="127.2" y="173.3" width="1.2" height="1"/><rect x="134.1" y="173.3" width="1.2" height="1"/><rect x="146.0" y="173.3" width="1.2" height="1"/><rect x="148.1" y="173.3" width="1.2" height="1"/><rect x="162.8" y="173.3" width="1.2" height="1"/><rect x="173.3" y="173.3" width="1.2" height="1"/><rect x="174.0" y="173.3" width="1.2" height="1"/><rect x="179.8" y="173.3" width="1.2" height="1"/><rect x="186.1" y="173.3" width="1.2" height="1"/><rect x="189.7" y="173.3" width="1.2" height="1"/><rect x="196.8" y="173.3" width="1.2" height="1"/><rect x="199.2" y="173.3" width="1.2" height="1"/><rect x="97.8" y="170.4" width="1.2" height="1"/><rect x="111.2" y="170.4" width="1.2" height="1"/><rect x="85.8" y="167.6" width="1.2" height="1"/><rect x="96.1" y="167.6" width="1.2" height="1"/><rect x="159.9" y="167.6" width="1.2" height="1"/><rect x="194.2" y="167.6" width="1.2" height="1"/><rect x="99.0" y="164.8" width="1.2" height="1"/><rect x="147.8" y="164.8" width="1.2" height="1"/><rect x="168.9" y="164.8" width="1.2" height="1"/><rect x="121.1" y="162.0" width="1.2" height="1"/><rect x="147.0" y="162.0" width="1.2" height="1"/><rect x="101.2" y="159.2" width="1.2" height="1"/><rect x="113.9" y="159.2" width="1.2" height="1"/><rect x="174.8" y="159.2" width="1.2" height="1"/><rect x="161.2" y="156.3" width="1.2" height="1"/><rect x="166.8" y="156.3" width="1.2" height="1"/><rect x="175.0" y="156.3" width="1.2" height="1"/><rect x="121.2" y="153.5" width="1.2" height="1"/><rect x="189.3" y="153.5" width="1.2" height="1"/><rect x="106.7" y="150.7" width="1.2" height="1"/><rect x="137.7" y="150.7" width="1.2" height="1"/><rect x="143.1" y="150.7" width="1.2" height="1"/><rect x="152.2" y="150.7" width="1.2" height="1"/><rect x="153.2" y="150.7" width="1.2" height="1"/><rect x="185.0" y="150.7" width="1.2" height="1"/><rect x="185.9" y="150.7" width="1.2" height="1"/><rect x="135.7" y="147.9" width="1.2" height="1"/><rect x="191.8" y="145.1" width="1.2" height="1"/><rect x="114.8" y="142.2" width="1.2" height="1"/><rect x="179.8" y="142.2" width="1.2" height="1"/><rect x="174.9" y="139.4" width="1.2" height="1"/><rect x="106.8" y="131.0" width="1.2" height="1"/><rect x="131.2" y="131.0" width="1.2" height="1"/><rect x="184.3" y="131.0" width="1.2" height="1"/><rect x="180.9" y="128.1" width="1.2" height="1"/><rect x="127.0" y="125.3" width="1.2" height="1"/><rect x="120.1" y="122.5" width="1.2" height="1"/><rect x="134.8" y="122.5" width="1.2" height="1"/><rect x="176.8" y="119.7" width="1.2" height="1"/></g></g>
 <g stroke="#333" stroke-width="0.8" stroke-dasharray="2.5,2" fill="none">
   <line x1="38" y1="67.5" x2="94.4" y2="67.5"/><line x1="94.4" y1="67.5" x2="94.4" y2="206"/>
 </g>
 <line x1="90.5" y1="203.6" x2="104" y2="195" stroke="#222" stroke-width="0.8"/>
 <path d="M38.0,205.30 L39.0,205.30 L40.0,205.30 L41.0,205.30 L42.0,205.30 L43.0,205.29 L44.0,205.29 L45.0,205.28 L46.0,205.27 L47.0,205.25 L48.0,205.24 L49.0,205.22 L50.0,205.20 L51.0,205.17 L52.0,205.14 L53.0,205.11 L54.0,205.07 L55.0,205.02 L56.0,204.97 L57.0,204.92 L58.0,204.86 L59.0,204.79 L60.0,204.72 L61.0,204.64 L62.0,204.56 L63.0,204.47 L64.0,204.37 L65.0,204.27 L66.0,204.15 L67.0,204.03 L68.0,203.91 L69.0,203.77 L70.0,203.62 L71.0,203.47 L72.0,203.31 L73.0,203.14 L74.0,202.96 L75.0,202.77 L76.0,202.57 L77.0,202.36 L78.0,202.14 L79.0,201.91 L80.0,201.67 L81.0,201.42 L82.0,201.16 L83.0,200.89 L84.0,200.60 L85.0,200.31 L86.0,200.00 L87.0,199.68 L88.0,199.34 L89.0,198.99 L90.0,198.61 L91.0,198.21 L92.0,197.77 L93.0,197.27 L94.0,196.70 L95.0,196.02 L96.0,195.23 L97.0,194.30 L98.0,193.26 L99.0,192.13 L100.0,190.94 L101.0,189.70 L102.0,188.44 L103.0,187.16 L104.0,185.88 L105.0,184.59 L106.0,183.29 L107.0,181.99 L108.0,180.70 L109.0,179.40 L110.0,178.10 L111.0,176.80 L112.0,175.50 L113.0,174.20 L114.0,172.90 L115.0,171.60 L116.0,170.30 L117.0,169.00 L118.0,167.70 L119.0,166.40 L120.0,165.10 L121.0,163.80 L122.0,162.50 L123.0,161.20 L124.0,159.90 L125.0,158.60 L126.0,157.30 L127.0,156.00 L128.0,154.70 L129.0,153.40 L130.0,152.10 L131.0,150.80 L132.0,149.50 L133.0,148.20 L134.0,146.90 L135.0,145.60 L136.0,144.30 L137.0,143.00 L138.0,141.70 L139.0,140.40 L140.0,139.10 L141.0,137.80 L142.0,136.50 L143.0,135.20 L144.0,133.90 L145.0,132.60 L146.0,131.30 L147.0,130.00 L148.0,128.70 L149.0,127.40 L150.0,126.10 L151.0,124.80 L152.0,123.50 L153.0,122.20 L154.0,120.90 L155.0,119.60 L156.0,118.30 L157.0,117.00 L158.0,115.70 L159.0,114.40 L160.0,113.10 L161.0,111.80 L162.0,110.50 L163.0,109.20 L164.0,107.90 L165.0,106.60 L166.0,105.30 L167.0,104.00 L168.0,102.70 L169.0,101.40 L170.0,100.10 L171.0,98.80 L172.0,97.50 L173.0,96.20 L174.0,94.90 L175.0,93.60 L176.0,92.30 L177.0,91.00 L178.0,89.70 L179.0,88.40 L180.0,87.10 L181.0,85.80 L182.0,84.50 L183.0,83.20 L184.0,81.90 L185.0,80.60 L186.0,79.30 L187.0,78.00 L188.0,76.70 L189.0,75.40 L190.0,74.10 L191.0,72.80 L192.0,71.50 L193.0,70.20 L194.0,68.90 L195.0,67.60 L196.0,66.30 L197.0,65.00 L198.0,63.70 L199.0,62.40 L200.0,61.10 L201.0,59.80 L202.0,58.50" fill="none" stroke="#ffff00" stroke-width="1.5"/>
 <path d="M37.8,206.2 C38.1,204.6 39.1,199.6 39.8,196.5 C40.5,193.3 41.1,190.2 41.8,187.3 C42.5,184.3 43.1,181.4 43.8,178.6 C44.5,175.8 45.1,173.1 45.8,170.5 C46.5,167.8 47.1,165.3 47.8,162.8 C48.5,160.3 49.1,157.9 49.8,155.5 C50.5,153.2 51.1,150.9 51.8,148.7 C52.5,146.5 53.1,144.3 53.8,142.2 C54.5,140.1 55.1,138.1 55.8,136.1 C56.5,134.2 57.1,132.3 57.8,130.4 C58.5,128.6 59.1,126.8 59.8,125.0 C60.5,123.2 61.1,121.5 61.8,119.9 C62.5,118.2 63.1,116.6 63.8,115.1 C64.5,113.5 65.1,112.0 65.8,110.5 C66.5,109.1 67.1,107.6 67.8,106.2 C68.5,104.8 69.1,103.5 69.8,102.2 C70.5,100.9 71.1,99.6 71.8,98.4 C72.5,97.1 73.1,95.9 73.8,94.7 C74.5,93.6 75.1,92.4 75.8,91.3 C76.5,90.2 77.1,89.2 77.8,88.1 C78.5,87.1 79.1,86.0 79.8,85.1 C80.5,84.1 81.1,83.1 81.8,82.2 C82.5,81.2 83.1,80.3 83.8,79.5 C84.5,78.6 85.1,77.7 85.8,76.9 C86.5,76.0 87.1,75.2 87.8,74.4 C88.5,73.6 89.1,72.9 89.8,72.1 C90.5,71.4 91.1,70.7 91.8,69.9 C92.5,69.2 93.1,68.6 93.8,67.9 C94.5,67.2 95.1,66.6 95.8,65.9 C96.5,65.3 97.1,64.7 97.8,64.1 C98.5,63.5 99.1,62.9 99.8,62.3 C100.5,61.7 101.1,61.2 101.8,60.6 C102.5,60.1 103.1,59.6 103.8,59.1 C104.5,58.5 105.1,58.0 105.8,57.6 C106.5,57.1 107.1,56.6 107.8,56.1 C108.5,55.7 109.1,55.2 109.8,54.8 C110.5,54.3 111.1,53.9 111.8,53.5 C112.5,53.1 113.1,52.7 113.8,52.3 C114.5,51.9 115.1,51.5 115.8,51.1 C116.5,50.7 117.1,50.3 117.8,50.0 C118.5,49.6 119.1,49.3 119.8,48.9 C120.5,48.6 121.1,48.3 121.8,47.9 C122.5,47.6 123.1,47.3 123.8,47.0 C124.5,46.7 125.1,46.3 125.8,46.0 C126.5,45.7 127.1,45.5 127.8,45.2 C128.5,44.9 129.1,44.6 129.8,44.3 C130.5,44.1 131.1,43.8 131.8,43.5 C132.5,43.3 133.1,43.0 133.8,42.8 C134.5,42.5 135.1,42.3 135.8,42.0 C136.5,41.8 137.1,41.6 137.8,41.3 C138.5,41.1 139.1,40.9 139.8,40.7 C140.5,40.4 141.1,40.2 141.8,40.0 C142.5,39.8 143.1,39.6 143.8,39.4 C144.5,39.2 145.1,39.0 145.8,38.8 C146.5,38.6 147.1,38.4 147.8,38.2 C148.5,38.0 149.1,37.9 149.8,37.7 C150.5,37.5 151.1,37.3 151.8,37.1 C152.5,37.0 153.1,36.8 153.8,36.6 C154.5,36.5 155.1,36.3 155.8,36.1 C156.5,36.0 157.1,35.8 157.8,35.7 C158.5,35.5 159.1,35.3 159.8,35.2 C160.5,35.0 161.1,34.9 161.8,34.7 C162.5,34.6 163.1,34.4 163.8,34.3 C164.5,34.2 165.1,34.0 165.8,33.9 C166.5,33.7 167.1,33.6 167.8,33.5 C168.5,33.3 169.1,33.2 169.8,33.1 C170.5,32.9 171.1,32.8 171.8,32.7 C172.5,32.6 173.1,32.4 173.8,32.3 C174.5,32.2 175.1,32.1 175.8,31.9 C176.5,31.8 177.1,31.7 177.8,31.6 C178.5,31.5 179.1,31.4 179.8,31.2 C180.5,31.1 181.1,31.0 181.8,30.9 C182.5,30.8 183.1,30.7 183.8,30.6 C184.5,30.4 185.1,30.3 185.8,30.2 C186.5,30.1 187.1,30.0 187.8,29.9 C188.5,29.8 189.1,29.7 189.8,29.6 C190.5,29.5 191.1,29.4 191.8,29.3 C192.5,29.2 193.1,29.1 193.8,29.0 C194.5,28.9 195.3,28.7 195.8,28.7 C196.3,28.7 196.5,28.7 197.0,28.8 C197.5,28.9 198.3,29.0 198.8,29.3 C199.3,29.6 200.0,30.4 200.2,30.6" fill="none" stroke="#ff0000" stroke-width="1.8" stroke-linecap="round"/>
 <g stroke="#606060" stroke-width="1.6" fill="none">
   <path d="M38,8.7 V206.2 H234.5 V8.7 H38"/>
 </g>
 <g stroke="#606060" stroke-width="1"><line x1="35" y1="206.2" x2="38" y2="206.2"/><line x1="35" y1="178.0" x2="38" y2="178.0"/><line x1="35" y1="149.8" x2="38" y2="149.8"/><line x1="35" y1="121.6" x2="38" y2="121.6"/><line x1="35" y1="93.3" x2="38" y2="93.3"/><line x1="35" y1="65.1" x2="38" y2="65.1"/><line x1="35" y1="36.9" x2="38" y2="36.9"/><line x1="35" y1="8.7" x2="38" y2="8.7"/><line x1="234" y1="206.2" x2="237" y2="206.2"/><line x1="234" y1="181.5" x2="237" y2="181.5"/><line x1="234" y1="156.8" x2="237" y2="156.8"/><line x1="234" y1="132.1" x2="237" y2="132.1"/><line x1="234" y1="107.4" x2="237" y2="107.4"/><line x1="234" y1="82.8" x2="237" y2="82.8"/><line x1="234" y1="58.1" x2="237" y2="58.1"/><line x1="234" y1="33.4" x2="237" y2="33.4"/><line x1="234" y1="8.7" x2="237" y2="8.7"/><line x1="38.0" y1="206" x2="38.0" y2="209"/><line x1="87.0" y1="206" x2="87.0" y2="209"/><line x1="136.0" y1="206" x2="136.0" y2="209"/><line x1="185.0" y1="206" x2="185.0" y2="209"/><line x1="234.0" y1="206" x2="234.0" y2="209"/></g>
 <g font-family="Liberation Serif, serif" font-size="10" fill="#111"><text x="33" y="209.7" text-anchor="end">0</text><text x="33" y="181.5" text-anchor="end">10</text><text x="33" y="153.3" text-anchor="end">20</text><text x="33" y="125.1" text-anchor="end">30</text><text x="33" y="96.8" text-anchor="end">40</text><text x="33" y="68.6" text-anchor="end">50</text><text x="33" y="40.4" text-anchor="end">60</text><text x="33" y="12.2" text-anchor="end">70</text><text x="240" y="209.7">0</text><text x="240" y="185.0">20k</text><text x="240" y="160.3">40k</text><text x="240" y="135.6">60k</text><text x="240" y="110.9">80k</text><text x="240" y="86.3">100k</text><text x="240" y="61.6">120k</text><text x="240" y="36.9">140k</text><text x="240" y="12.2">160k</text><text x="38.0" y="220" text-anchor="middle">0</text><text x="87.0" y="220" text-anchor="middle">2</text><text x="136.0" y="220" text-anchor="middle">4</text><text x="185.0" y="220" text-anchor="middle">6</text><text x="234.0" y="220" text-anchor="middle">8</text></g>
 <g stroke="#666" stroke-width="1.1" fill="none"><line x1="87" y1="41.8" x2="114.5" y2="41.8"/><path d="M195.3,59 V51.3 H221"/></g>
 <path d="M83.8,41.8 L88.8,40.1 L88.8,43.5 Z" fill="#111"/>
 <path d="M225.2,51.3 L220.2,49.6 L220.2,53 Z" fill="#111"/>
 <g font-family="Liberation Serif, serif" fill="#000" stroke="#000" stroke-width="0.06">
   <text x="39.8" y="62.6" font-size="9.5">σ</text><text x="44.6" y="66" font-size="6.5">AF</text>
   <text x="93.4" y="213.2" font-size="9">ε</text><text x="97.6" y="216.6" font-size="6.5">AL</text>
   <text x="94" y="238.4" font-size="12.5">Deformation (%)</text>
   <text transform="translate(14.2,140.8) rotate(-90)" font-size="13">Stress (MPa)</text>
   <text transform="translate(264.4,32) rotate(90)" font-size="12.5">Cumulative number of signals</text>
   <text x="130.2" y="270.2" font-size="13">(<tspan font-weight="bold">a</tspan>)</text>
   <text x="409.4" y="270.2" font-size="13">(<tspan font-weight="bold">b</tspan>)</text>
 </g>
</svg>
<div class="sem"><svg width="258" height="193" viewBox="0 0 258 193"><style>.gr rect{width:7px;height:7px}</style>
<defs><filter id="bl" x="-10%" y="-10%" width="120%" height="120%"><feGaussianBlur stdDeviation="3.5"/></filter>
<filter id="b3" x="-20%" y="-20%" width="140%" height="140%"><feGaussianBlur stdDeviation="3"/></filter>
<linearGradient id="gv" x1="0" y1="0" x2="1" y2="0"><stop offset="0" stop-color="#cfcfcf"/><stop offset="0.3" stop-color="#ababab"/><stop offset="0.75" stop-color="#959595"/><stop offset="1" stop-color="#b5b5b5"/></linearGradient>
<linearGradient id="gh" x1="0" y1="0" x2="0" y2="1"><stop offset="0" stop-color="#cdcdcd"/><stop offset="0.35" stop-color="#b0b0b0"/><stop offset="0.8" stop-color="#999"/><stop offset="1" stop-color="#aaa"/></linearGradient>
<linearGradient id="gb" x1="0" y1="0" x2="1" y2="1"><stop offset="0" stop-color="#b5b5b5"/><stop offset="1" stop-color="#8e8e8e"/></linearGradient>
<radialGradient id="ge" cx="0.4" cy="0.4" r="0.7"><stop offset="0" stop-color="#b0b0b0"/><stop offset="1" stop-color="#8c8c8c"/></radialGradient>
<filter id="b1" x="-20%" y="-20%" width="140%" height="140%"><feGaussianBlur stdDeviation="0.75"/></filter></defs>
<g filter="url(#bl)" class="gr"><rect x="-16" y="-16" fill="#1a1a1a"/><rect x="-11" y="-16" fill="#151515"/><rect x="-5" y="-16" fill="#0f0f0f"/><rect x="0" y="-16" fill="#171717"/><rect x="5" y="-16" fill="#363636"/><rect x="11" y="-16" fill="#5d5d5d"/><rect x="16" y="-16" fill="#767676"/><rect x="22" y="-16" fill="#6c6c6c"/><rect x="27" y="-16" fill="#494949"/><rect x="32" y="-16" fill="#232323"/><rect x="38" y="-16" fill="#121212"/><rect x="43" y="-16" fill="#181818"/><rect x="48" y="-16" fill="#2d2d2d"/><rect x="54" y="-16" fill="#474747"/><rect x="59" y="-16" fill="#5d5d5d"/><rect x="64" y="-16" fill="#696969"/><rect x="70" y="-16" fill="#626262"/><rect x="75" y="-16" fill="#4c4c4c"/><rect x="81" y="-16" fill="#363636"/><rect x="86" y="-16" fill="#2f2f2f"/><rect x="91" y="-16" fill="#3c3c3c"/><rect x="97" y="-16" fill="#515151"/><rect x="102" y="-16" fill="#5f5f5f"/><rect x="108" y="-16" fill="#5d5d5d"/><rect x="113" y="-16" fill="#535353"/><rect x="118" y="-16" fill="#4a4a4a"/><rect x="124" y="-16" fill="#4a4a4a"/><rect x="129" y="-16" fill="#4d4d4d"/><rect x="134" y="-16" fill="#4a4a4a"/><rect x="140" y="-16" fill="#3d3d3d"/><rect x="145" y="-16" fill="#2f2f2f"/><rect x="150" y="-16" fill="#2e2e2e"/><rect x="156" y="-16" fill="#444444"/><rect x="161" y="-16" fill="#656565"/><rect x="167" y="-16" fill="#7d7d7d"/><rect x="172" y="-16" fill="#787878"/><rect x="177" y="-16" fill="#5c5c5c"/><rect x="183" y="-16" fill="#3b3b3b"/><rect x="188" y="-16" fill="#282828"/><rect x="194" y="-16" fill="#262626"/><rect x="199" y="-16" fill="#2e2e2e"/><rect x="204" y="-16" fill="#393939"/><rect x="210" y="-16" fill="#434343"/><rect x="215" y="-16" fill="#494949"/><rect x="220" y="-16" fill="#4c4c4c"/><rect x="226" y="-16" fill="#4b4b4b"/><rect x="231" y="-16" fill="#474747"/><rect x="236" y="-16" fill="#404040"/><rect x="242" y="-16" fill="#383838"/><rect x="247" y="-16" fill="#313131"/><rect x="253" y="-16" fill="#2d2d2d"/><rect x="258" y="-16" fill="#2b2b2b"/><rect x="263" y="-16" fill="#2c2c2c"/><rect x="269" y="-16" fill="#2d2d2d"/><rect x="-16" y="-11" fill="#181818"/><rect x="-11" y="-11" fill="#131313"/><rect x="-5" y="-11" fill="#0d0d0d"/><rect x="0" y="-11" fill="#151515"/><rect x="5" y="-11" fill="#363636"/><rect x="11" y="-11" fill="#5f5f5f"/><rect x="16" y="-11" fill="#797979"/><rect x="22" y="-11" fill="#6e6e6e"/><rect x="27" y="-11" fill="#494949"/><rect x="32" y="-11" fill="#222222"/><rect x="38" y="-11" fill="#111111"/><rect x="43" y="-11" fill="#191919"/><rect x="48" y="-11" fill="#2f2f2f"/><rect x="54" y="-11" fill="#4a4a4a"/><rect x="59" y="-11" fill="#616161"/><rect x="64" y="-11" fill="#6b6b6b"/><rect x="70" y="-11" fill="#646464"/><rect x="75" y="-11" fill="#4d4d4d"/><rect x="81" y="-11" fill="#363636"/><rect x="86" y="-11" fill="#303030"/><rect x="91" y="-11" fill="#3e3e3e"/><rect x="97" y="-11" fill="#545454"/><rect x="102" y="-11" fill="#616161"/><rect x="108" y="-11" fill="#5e5e5e"/><rect x="113" y="-11" fill="#525252"/><rect x="118" y="-11" fill="#494949"/><rect x="124" y="-11" fill="#4a4a4a"/><rect x="129" y="-11" fill="#4e4e4e"/><rect x="134" y="-11" fill="#4c4c4c"/><rect x="140" y="-11" fill="#3e3e3e"/><rect x="145" y="-11" fill="#2e2e2e"/><rect x="150" y="-11" fill="#2b2b2b"/><rect x="156" y="-11" fill="#434343"/><rect x="161" y="-11" fill="#676767"/><rect x="167" y="-11" fill="#818181"/><rect x="172" y="-11" fill="#7c7c7c"/><rect x="177" y="-11" fill="#5d5d5d"/><rect x="183" y="-11" fill="#3a3a3a"/><rect x="188" y="-11" fill="#252525"/><rect x="194" y="-11" fill="#242424"/><rect x="199" y="-11" fill="#2d2d2d"/><rect x="204" y="-11" fill="#3a3a3a"/><rect x="210" y="-11" fill="#434343"/><rect x="215" y="-11" fill="#4a4a4a"/><rect x="220" y="-11" fill="#4c4c4c"/><rect x="226" y="-11" fill="#4a4a4a"/><rect x="231" y="-11" fill="#464646"/><rect x="236" y="-11" fill="#3f3f3f"/><rect x="242" y="-11" fill="#383838"/><rect x="247" y="-11" fill="#313131"/><rect x="253" y="-11" fill="#2d2d2d"/><rect x="258" y="-11" fill="#2c2c2c"/><rect x="263" y="-11" fill="#2c2c2c"/><rect x="269" y="-11" fill="#2d2d2d"/><rect x="-16" y="-5" fill="#161616"/><rect x="-11" y="-5" fill="#111111"/><rect x="-5" y="-5" fill="#0a0a0a"/><rect x="0" y="-5" fill="#131313"/><rect x="5" y="-5" fill="#363636"/><rect x="11" y="-5" fill="#616161"/><rect x="16" y="-5" fill="#7c7c7c"/><rect x="22" y="-5" fill="#717171"/><rect x="27" y="-5" fill="#494949"/><rect x="32" y="-5" fill="#202020"/><rect x="38" y="-5" fill="#0f0f0f"/><rect x="43" y="-5" fill="#191919"/><rect x="48" y="-5" fill="#323232"/><rect x="54" y="-5" fill="#4e4e4e"/><rect x="59" y="-5" fill="#646464"/><rect x="64" y="-5" fill="#6e6e6e"/><rect x="70" y="-5" fill="#656565"/><rect x="75" y="-5" fill="#4e4e4e"/><rect x="81" y="-5" fill="#373737"/><rect x="86" y="-5" fill="#313131"/><rect x="91" y="-5" fill="#414141"/><rect x="97" y="-5" fill="#585858"/><rect x="102" y="-5" fill="#656565"/><rect x="108" y="-5" fill="#5f5f5f"/><rect x="113" y="-5" fill="#515151"/><rect x="118" y="-5" fill="#474747"/><rect x="124" y="-5" fill="#494949"/><rect x="129" y="-5" fill="#4f4f4f"/><rect x="134" y="-5" fill="#4e4e4e"/><rect x="140" y="-5" fill="#3e3e3e"/><rect x="145" y="-5" fill="#2c2c2c"/><rect x="150" y="-5" fill="#282828"/><rect x="156" y="-5" fill="#414141"/><rect x="161" y="-5" fill="#696969"/><rect x="167" y="-5" fill="#868686"/><rect x="172" y="-5" fill="#808080"/><rect x="177" y="-5" fill="#5e5e5e"/><rect x="183" y="-5" fill="#383838"/><rect x="188" y="-5" fill="#222222"/><rect x="194" y="-5" fill="#212121"/><rect x="199" y="-5" fill="#2c2c2c"/><rect x="204" y="-5" fill="#3a3a3a"/><rect x="210" y="-5" fill="#444444"/><rect x="215" y="-5" fill="#4a4a4a"/><rect x="220" y="-5" fill="#4c4c4c"/><rect x="226" y="-5" fill="#494949"/><rect x="231" y="-5" fill="#444444"/><rect x="236" y="-5" fill="#3d3d3d"/><rect x="242" y="-5" fill="#363636"/><rect x="247" y="-5" fill="#303030"/><rect x="253" y="-5" fill="#2d2d2d"/><rect x="258" y="-5" fill="#2c2c2c"/><rect x="263" y="-5" fill="#2c2c2c"/><rect x="269" y="-5" fill="#2d2d2d"/><rect x="-16" y="0" fill="#191919"/><rect x="-11" y="0" fill="#141414"/><rect x="-5" y="0" fill="#0e0e0e"/><rect x="0" y="0" fill="#161616"/><rect x="5" y="0" fill="#363636"/><rect x="11" y="0" fill="#5f5f5f"/><rect x="16" y="0" fill="#787878"/><rect x="22" y="0" fill="#6d6d6d"/><rect x="27" y="0" fill="#494949"/><rect x="32" y="0" fill="#222222"/><rect x="38" y="0" fill="#111111"/><rect x="43" y="0" fill="#191919"/><rect x="48" y="0" fill="#2f2f2f"/><rect x="54" y="0" fill="#494949"/><rect x="59" y="0" fill="#5f5f5f"/><rect x="64" y="0" fill="#6a6a6a"/><rect x="70" y="0" fill="#636363"/><rect x="75" y="0" fill="#4d4d4d"/><rect x="81" y="0" fill="#363636"/><rect x="86" y="0" fill="#2f2f2f"/><rect x="91" y="0" fill="#3e3e3e"/><rect x="97" y="0" fill="#535353"/><rect x="102" y="0" fill="#616161"/><rect x="108" y="0" fill="#5d5d5d"/><rect x="113" y="0" fill="#525252"/><rect x="118" y="0" fill="#494949"/><rect x="124" y="0" fill="#4a4a4a"/><rect x="129" y="0" fill="#4d4d4d"/><rect x="134" y="0" fill="#4b4b4b"/><rect x="140" y="0" fill="#3d3d3d"/><rect x="145" y="0" fill="#2e2e2e"/><rect x="150" y="0" fill="#2d2d2d"/><rect x="156" y="0" fill="#434343"/><rect x="161" y="0" fill="#676767"/><rect x="167" y="0" fill="#808080"/><rect x="172" y="0" fill="#7b7b7b"/><rect x="177" y="0" fill="#5d5d5d"/><rect x="183" y="0" fill="#3a3a3a"/><rect x="188" y="0" fill="#262626"/><rect x="194" y="0" fill="#252525"/><rect x="199" y="0" fill="#2e2e2e"/><rect x="204" y="0" fill="#3a3a3a"/><rect x="210" y="0" fill="#434343"/><rect x="215" y="0" fill="#4a4a4a"/><rect x="220" y="0" fill="#4c4c4c"/><rect x="226" y="0" fill="#4b4b4b"/><rect x="231" y="0" fill="#464646"/><rect x="236" y="0" fill="#3f3f3f"/><rect x="242" y="0" fill="#383838"/><rect x="247" y="0" fill="#313131"/><rect x="253" y="0" fill="#2d2d2d"/><rect x="258" y="0" fill="#2c2c2c"/><rect x="263" y="0" fill="#2c2c2c"/><rect x="269" y="0" fill="#2d2d2d"/><rect x="-16" y="5" fill="#242424"/><rect x="-11" y="5" fill="#212121"/><rect x="-5" y="5" fill="#1d1d1d"/><rect x="0" y="5" fill="#232323"/><rect x="5" y="5" fill="#383838"/><rect x="11" y="5" fill="#535353"/><rect x="16" y="5" fill="#656565"/><rect x="22" y="5" fill="#5f5f5f"/><rect x="27" y="5" fill="#474747"/><rect x="32" y="5" fill="#2b2b2b"/><rect x="38" y="5" fill="#1a1a1a"/><rect x="43" y="5" fill="#171717"/><rect x="48" y="5" fill="#212121"/><rect x="54" y="5" fill="#343434"/><rect x="59" y="5" fill="#4c4c4c"/><rect x="64" y="5" fill="#5c5c5c"/><rect x="70" y="5" fill="#5b5b5b"/><rect x="75" y="5" fill="#494949"/><rect x="81" y="5" fill="#333333"/><rect x="86" y="5" fill="#292929"/><rect x="91" y="5" fill="#303030"/><rect x="97" y="5" fill="#414141"/><rect x="102" y="5" fill="#505050"/><rect x="108" y="5" fill="#575757"/><rect x="113" y="5" fill="#585858"/><rect x="118" y="5" fill="#545454"/><rect x="124" y="5" fill="#4d4d4d"/><rect x="129" y="5" fill="#464646"/><rect x="134" y="5" fill="#3e3e3e"/><rect x="140" y="5" fill="#3a3a3a"/><rect x="145" y="5" fill="#393939"/><rect x="150" y="5" fill="#3f3f3f"/><rect x="156" y="5" fill="#4c4c4c"/><rect x="161" y="5" fill="#5b5b5b"/><rect x="167" y="5" fill="#666666"/><rect x="172" y="5" fill="#636363"/><rect x="177" y="5" fill="#565656"/><rect x="183" y="5" fill="#464646"/><rect x="188" y="5" fill="#393939"/><rect x="194" y="5" fill="#343434"/><rect x="199" y="5" fill="#343434"/><rect x="204" y="5" fill="#383838"/><rect x="210" y="5" fill="#3f3f3f"/><rect x="215" y="5" fill="#474747"/><rect x="220" y="5" fill="#4d4d4d"/><rect x="226" y="5" fill="#505050"/><rect x="231" y="5" fill="#4e4e4e"/><rect x="236" y="5" fill="#484848"/><rect x="242" y="5" fill="#3e3e3e"/><rect x="247" y="5" fill="#343434"/><rect x="253" y="5" fill="#2c2c2c"/><rect x="258" y="5" fill="#2b2b2b"/><rect x="263" y="5" fill="#2c2c2c"/><rect x="269" y="5" fill="#2d2d2d"/><rect x="-16" y="11" fill="#373737"/><rect x="-11" y="11" fill="#363636"/><rect x="-5" y="11" fill="#353535"/><rect x="0" y="11" fill="#373737"/><rect x="5" y="11" fill="#3c3c3c"/><rect x="11" y="11" fill="#444444"/><rect x="16" y="11" fill="#494949"/><rect x="22" y="11" fill="#4a4a4a"/><rect x="27" y="11" fill="#434343"/><rect x="32" y="11" fill="#383838"/><rect x="38" y="11" fill="#272727"/><rect x="43" y="11" fill="#171717"/><rect x="48" y="11" fill="#101010"/><rect x="54" y="11" fill="#1a1a1a"/><rect x="59" y="11" fill="#323232"/><rect x="64" y="11" fill="#484848"/><rect x="70" y="11" fill="#4f4f4f"/><rect x="75" y="11" fill="#424242"/><rect x="81" y="11" fill="#2f2f2f"/><rect x="86" y="11" fill="#202020"/><rect x="91" y="11" fill="#1e1e1e"/><rect x="97" y="11" fill="#272727"/><rect x="102" y="11" fill="#383838"/><rect x="108" y="11" fill="#4e4e4e"/><rect x="113" y="11" fill="#5f5f5f"/><rect x="118" y="11" fill="#626262"/><rect x="124" y="11" fill="#525252"/><rect x="129" y="11" fill="#3c3c3c"/><rect x="134" y="11" fill="#2e2e2e"/><rect x="140" y="11" fill="#343434"/><rect x="145" y="11" fill="#464646"/><rect x="150" y="11" fill="#555555"/><rect x="156" y="11" fill="#555555"/><rect x="161" y="11" fill="#4a4a4a"/><rect x="167" y="11" fill="#414141"/><rect x="172" y="11" fill="#434343"/><rect x="177" y="11" fill="#4d4d4d"/><rect x="183" y="11" fill="#565656"/><rect x="188" y="11" fill="#545454"/><rect x="194" y="11" fill="#484848"/><rect x="199" y="11" fill="#3a3a3a"/><rect x="204" y="11" fill="#343434"/><rect x="210" y="11" fill="#383838"/><rect x="215" y="11" fill="#424242"/><rect x="220" y="11" fill="#4e4e4e"/><rect x="226" y="11" fill="#575757"/><rect x="231" y="11" fill="#5a5a5a"/><rect x="236" y="11" fill="#545454"/><rect x="242" y="11" fill="#474747"/><rect x="247" y="11" fill="#363636"/><rect x="253" y="11" fill="#2b2b2b"/><rect x="258" y="11" fill="#282828"/><rect x="263" y="11" fill="#2a2a2a"/><rect x="269" y="11" fill="#2c2c2c"/><rect x="-16" y="16" fill="#4e4e4e"/><rect x="-11" y="16" fill="#505050"/><rect x="-5" y="16" fill="#515151"/><rect x="0" y="16" fill="#4f4f4f"/><rect x="5" y="16" fill="#454545"/><rect x="11" y="16" fill="#383838"/><rect x="16" y="16" fill="#303030"/><rect x="22" y="16" fill="#343434"/><rect x="27" y="16" fill="#3e3e3e"/><rect x="32" y="16" fill="#424242"/><rect x="38" y="16" fill="#363636"/><rect x="43" y="16" fill="#1e1e1e"/><rect x="48" y="16" fill="#0b0b0b"/><rect x="54" y="16" fill="#0b0b0b"/><rect x="59" y="16" fill="#1e1e1e"/><rect x="64" y="16" fill="#353535"/><rect x="70" y="16" fill="#404040"/><rect x="75" y="16" fill="#3a3a3a"/><rect x="81" y="16" fill="#2b2b2b"/><rect x="86" y="16" fill="#1b1b1b"/><rect x="91" y="16" fill="#111111"/><rect x="97" y="16" fill="#131313"/><rect x="102" y="16" fill="#252525"/><rect x="108" y="16" fill="#444444"/><rect x="113" y="16" fill="#616161"/><rect x="118" y="16" fill="#6a6a6a"/><rect x="124" y="16" fill="#565656"/><rect x="129" y="16" fill="#363636"/><rect x="134" y="16" fill="#242424"/><rect x="140" y="16" fill="#303030"/><rect x="145" y="16" fill="#4d4d4d"/><rect x="150" y="16" fill="#606060"/><rect x="156" y="16" fill="#555555"/><rect x="161" y="16" fill="#383838"/><rect x="167" y="16" fill="#212121"/><rect x="172" y="16" fill="#282828"/><rect x="177" y="16" fill="#464646"/><rect x="183" y="16" fill="#636363"/><rect x="188" y="16" fill="#696969"/><rect x="194" y="16" fill="#565656"/><rect x="199" y="16" fill="#3c3c3c"/><rect x="204" y="16" fill="#2c2c2c"/><rect x="210" y="16" fill="#2e2e2e"/><rect x="215" y="16" fill="#3a3a3a"/><rect x="220" y="16" fill="#4c4c4c"/><rect x="226" y="16" fill="#5d5d5d"/><rect x="231" y="16" fill="#666666"/><rect x="236" y="16" fill="#616161"/><rect x="242" y="16" fill="#4f4f4f"/><rect x="247" y="16" fill="#373737"/><rect x="253" y="16" fill="#262626"/><rect x="258" y="16" fill="#212121"/><rect x="263" y="16" fill="#252525"/><rect x="269" y="16" fill="#272727"/><rect x="-16" y="21" fill="#656565"/><rect x="-11" y="21" fill="#686868"/><rect x="-5" y="21" fill="#6c6c6c"/><rect x="0" y="21" fill="#676767"/><rect x="5" y="21" fill="#515151"/><rect x="11" y="21" fill="#353535"/><rect x="16" y="21" fill="#222222"/><rect x="22" y="21" fill="#262626"/><rect x="27" y="21" fill="#373737"/><rect x="32" y="21" fill="#464646"/><rect x="38" y="21" fill="#434343"/><rect x="43" y="21" fill="#303030"/><rect x="48" y="21" fill="#1c1c1c"/><rect x="54" y="21" fill="#151515"/><rect x="59" y="21" fill="#1e1e1e"/><rect x="64" y="21" fill="#2c2c2c"/><rect x="70" y="21" fill="#343434"/><rect x="75" y="21" fill="#323232"/><rect x="81" y="21" fill="#292929"/><rect x="86" y="21" fill="#1c1c1c"/><rect x="91" y="21" fill="#121212"/><rect x="97" y="21" fill="#101010"/><rect x="102" y="21" fill="#1e1e1e"/><rect x="108" y="21" fill="#3c3c3c"/><rect x="113" y="21" fill="#5b5b5b"/><rect x="118" y="21" fill="#676767"/><rect x="124" y="21" fill="#565656"/><rect x="129" y="21" fill="#3a3a3a"/><rect x="134" y="21" fill="#272727"/><rect x="140" y="21" fill="#303030"/><rect x="145" y="21" fill="#464646"/><rect x="150" y="21" fill="#535353"/><rect x="156" y="21" fill="#454545"/><rect x="161" y="21" fill="#282828"/><rect x="167" y="21" fill="#161616"/><rect x="172" y="21" fill="#232323"/><rect x="177" y="21" fill="#474747"/><rect x="183" y="21" fill="#686868"/><rect x="188" y="21" fill="#6c6c6c"/><rect x="194" y="21" fill="#545454"/><rect x="199" y="21" fill="#343434"/><rect x="204" y="21" fill="#1f1f1f"/><rect x="210" y="21" fill="#1f1f1f"/><rect x="215" y="21" fill="#2e2e2e"/><rect x="220" y="21" fill="#454545"/><rect x="226" y="21" fill="#5e5e5e"/><rect x="231" y="21" fill="#6e6e6e"/><rect x="236" y="21" fill="#6b6b6b"/><rect x="242" y="21" fill="#535353"/><rect x="247" y="21" fill="#343434"/><rect x="253" y="21" fill="#1d1d1d"/><rect x="258" y="21" fill="#171717"/><rect x="263" y="21" fill="#1b1b1b"/><rect x="269" y="21" fill="#1f1f1f"/><rect x="-16" y="27" fill="#787878"/><rect x="-11" y="27" fill="#7d7d7d"/><rect x="-5" y="27" fill="#818181"/><rect x="0" y="27" fill="#7a7a7a"/><rect x="5" y="27" fill="#5f5f5f"/><rect x="11" y="27" fill="#3b3b3b"/><rect x="16" y="27" fill="#202020"/><rect x="22" y="27" fill="#1f1f1f"/><rect x="27" y="27" fill="#313131"/><rect x="32" y="27" fill="#464646"/><rect x="38" y="27" fill="#4e4e4e"/><rect x="43" y="27" fill="#484848"/><rect x="48" y="27" fill="#3c3c3c"/><rect x="54" y="27" fill="#323232"/><rect x="59" y="27" fill="#2e2e2e"/><rect x="64" y="27" fill="#2d2d2d"/><rect x="70" y="27" fill="#2d2d2d"/><rect x="75" y="27" fill="#2c2c2c"/><rect x="81" y="27" fill="#292929"/><rect x="86" y="27" fill="#232323"/><rect x="91" y="27" fill="#1c1c1c"/><rect x="97" y="27" fill="#1a1a1a"/><rect x="102" y="27" fill="#222222"/><rect x="108" y="27" fill="#383838"/><rect x="113" y="27" fill="#4f4f4f"/><rect x="118" y="27" fill="#5b5b5b"/><rect x="124" y="27" fill="#545454"/><rect x="129" y="27" fill="#434343"/><rect x="134" y="27" fill="#353535"/><rect x="140" y="27" fill="#333333"/><rect x="145" y="27" fill="#373737"/><rect x="150" y="27" fill="#383838"/><rect x="156" y="27" fill="#2e2e2e"/><rect x="161" y="27" fill="#212121"/><rect x="167" y="27" fill="#1d1d1d"/><rect x="172" y="27" fill="#2d2d2d"/><rect x="177" y="27" fill="#4b4b4b"/><rect x="183" y="27" fill="#616161"/><rect x="188" y="27" fill="#5f5f5f"/><rect x="194" y="27" fill="#474747"/><rect x="199" y="27" fill="#282828"/><rect x="204" y="27" fill="#141414"/><rect x="210" y="27" fill="#131313"/><rect x="215" y="27" fill="#212121"/><rect x="220" y="27" fill="#3c3c3c"/><rect x="226" y="27" fill="#5a5a5a"/><rect x="231" y="27" fill="#6f6f6f"/><rect x="236" y="27" fill="#6f6f6f"/><rect x="242" y="27" fill="#535353"/><rect x="247" y="27" fill="#2e2e2e"/><rect x="253" y="27" fill="#131313"/><rect x="258" y="27" fill="#0c0c0c"/><rect x="263" y="27" fill="#101010"/><rect x="269" y="27" fill="#151515"/><rect x="-16" y="32" fill="#858585"/><rect x="-11" y="32" fill="#898989"/><rect x="-5" y="32" fill="#8e8e8e"/><rect x="0" y="32" fill="#878787"/><rect x="5" y="32" fill="#6a6a6a"/><rect x="11" y="32" fill="#424242"/><rect x="16" y="32" fill="#242424"/><rect x="22" y="32" fill="#1f1f1f"/><rect x="27" y="32" fill="#303030"/><rect x="32" y="32" fill="#474747"/><rect x="38" y="32" fill="#575757"/><rect x="43" y="32" fill="#5c5c5c"/><rect x="48" y="32" fill="#595959"/><rect x="54" y="32" fill="#505050"/><rect x="59" y="32" fill="#444444"/><rect x="64" y="32" fill="#383838"/><rect x="70" y="32" fill="#313131"/><rect x="75" y="32" fill="#2e2e2e"/><rect x="81" y="32" fill="#2d2d2d"/><rect x="86" y="32" fill="#2a2a2a"/><rect x="91" y="32" fill="#272727"/><rect x="97" y="32" fill="#262626"/><rect x="102" y="32" fill="#2b2b2b"/><rect x="108" y="32" fill="#383838"/><rect x="113" y="32" fill="#464646"/><rect x="118" y="32" fill="#505050"/><rect x="124" y="32" fill="#515151"/><rect x="129" y="32" fill="#4a4a4a"/><rect x="134" y="32" fill="#404040"/><rect x="140" y="32" fill="#353535"/><rect x="145" y="32" fill="#2b2b2b"/><rect x="150" y="32" fill="#242424"/><rect x="156" y="32" fill="#222222"/><rect x="161" y="32" fill="#242424"/><rect x="167" y="32" fill="#2d2d2d"/><rect x="172" y="32" fill="#3b3b3b"/><rect x="177" y="32" fill="#4a4a4a"/><rect x="183" y="32" fill="#535353"/><rect x="188" y="32" fill="#4c4c4c"/><rect x="194" y="32" fill="#3a3a3a"/><rect x="199" y="32" fill="#242424"/><rect x="204" y="32" fill="#151515"/><rect x="210" y="32" fill="#111111"/><rect x="215" y="32" fill="#1a1a1a"/><rect x="220" y="32" fill="#323232"/><rect x="226" y="32" fill="#515151"/><rect x="231" y="32" fill="#6a6a6a"/><rect x="236" y="32" fill="#6b6b6b"/><rect x="242" y="32" fill="#505050"/><rect x="247" y="32" fill="#2a2a2a"/><rect x="253" y="32" fill="#0e0e0e"/><rect x="258" y="32" fill="#060606"/><rect x="263" y="32" fill="#0b0b0b"/><rect x="269" y="32" fill="#101010"/><rect x="-16" y="38" fill="#878787"/><rect x="-11" y="38" fill="#8b8b8b"/><rect x="-5" y="38" fill="#909090"/><rect x="0" y="38" fill="#898989"/><rect x="5" y="38" fill="#6c6c6c"/><rect x="11" y="38" fill="#444444"/><rect x="16" y="38" fill="#272727"/><rect x="22" y="38" fill="#242424"/><rect x="27" y="38" fill="#373737"/><rect x="32" y="38" fill="#505050"/><rect x="38" y="38" fill="#606060"/><rect x="43" y="38" fill="#646464"/><rect x="48" y="38" fill="#616161"/><rect x="54" y="38" fill="#5a5a5a"/><rect x="59" y="38" fill="#535353"/><rect x="64" y="38" fill="#4b4b4b"/><rect x="70" y="38" fill="#434343"/><rect x="75" y="38" fill="#3a3a3a"/><rect x="81" y="38" fill="#323232"/><rect x="86" y="38" fill="#2c2c2c"/><rect x="91" y="38" fill="#292929"/><rect x="97" y="38" fill="#2a2a2a"/><rect x="102" y="38" fill="#303030"/><rect x="108" y="38" fill="#3c3c3c"/><rect x="113" y="38" fill="#484848"/><rect x="118" y="38" fill="#4f4f4f"/><rect x="124" y="38" fill="#4d4d4d"/><rect x="129" y="38" fill="#454545"/><rect x="134" y="38" fill="#3c3c3c"/><rect x="140" y="38" fill="#343434"/><rect x="145" y="38" fill="#2f2f2f"/><rect x="150" y="38" fill="#2e2e2e"/><rect x="156" y="38" fill="#313131"/><rect x="161" y="38" fill="#363636"/><rect x="167" y="38" fill="#3b3b3b"/><rect x="172" y="38" fill="#3f3f3f"/><rect x="177" y="38" fill="#404040"/><rect x="183" y="38" fill="#3f3f3f"/><rect x="188" y="38" fill="#3d3d3d"/><rect x="194" y="38" fill="#393939"/><rect x="199" y="38" fill="#343434"/><rect x="204" y="38" fill="#2a2a2a"/><rect x="210" y="38" fill="#202020"/><rect x="215" y="38" fill="#1e1e1e"/><rect x="220" y="38" fill="#2a2a2a"/><rect x="226" y="38" fill="#444444"/><rect x="231" y="38" fill="#5c5c5c"/><rect x="236" y="38" fill="#606060"/><rect x="242" y="38" fill="#4b4b4b"/><rect x="247" y="38" fill="#2c2c2c"/><rect x="253" y="38" fill="#141414"/><rect x="258" y="38" fill="#0d0d0d"/><rect x="263" y="38" fill="#121212"/><rect x="269" y="38" fill="#161616"/><rect x="-16" y="43" fill="#808080"/><rect x="-11" y="43" fill="#858585"/><rect x="-5" y="43" fill="#8a8a8a"/><rect x="0" y="43" fill="#828282"/><rect x="5" y="43" fill="#666666"/><rect x="11" y="43" fill="#404040"/><rect x="16" y="43" fill="#262626"/><rect x="22" y="43" fill="#2a2a2a"/><rect x="27" y="43" fill="#434343"/><rect x="32" y="43" fill="#5d5d5d"/><rect x="38" y="43" fill="#666666"/><rect x="43" y="43" fill="#5e5e5e"/><rect x="48" y="43" fill="#525252"/><rect x="54" y="43" fill="#505050"/><rect x="59" y="43" fill="#585858"/><rect x="64" y="43" fill="#616161"/><rect x="70" y="43" fill="#5e5e5e"/><rect x="75" y="43" fill="#4e4e4e"/><rect x="81" y="43" fill="#3a3a3a"/><rect x="86" y="43" fill="#292929"/><rect x="91" y="43" fill="#222222"/><rect x="97" y="43" fill="#252525"/><rect x="102" y="43" fill="#313131"/><rect x="108" y="43" fill="#434343"/><rect x="113" y="43" fill="#535353"/><rect x="118" y="43" fill="#575757"/><rect x="124" y="43" fill="#4a4a4a"/><rect x="129" y="43" fill="#373737"/><rect x="134" y="43" fill="#2c2c2c"/><rect x="140" y="43" fill="#313131"/><rect x="145" y="43" fill="#424242"/><rect x="150" y="43" fill="#525252"/><rect x="156" y="43" fill="#565656"/><rect x="161" y="43" fill="#505050"/><rect x="167" y="43" fill="#444444"/><rect x="172" y="43" fill="#363636"/><rect x="177" y="43" fill="#2c2c2c"/><rect x="183" y="43" fill="#2a2a2a"/><rect x="188" y="43" fill="#343434"/><rect x="194" y="43" fill="#464646"/><rect x="199" y="43" fill="#535353"/><rect x="204" y="43" fill="#505050"/><rect x="210" y="43" fill="#3d3d3d"/><rect x="215" y="43" fill="#2b2b2b"/><rect x="220" y="43" fill="#272727"/><rect x="226" y="43" fill="#363636"/><rect x="231" y="43" fill="#494949"/><rect x="236" y="43" fill="#515151"/><rect x="242" y="43" fill="#464646"/><rect x="247" y="43" fill="#323232"/><rect x="253" y="43" fill="#222222"/><rect x="258" y="43" fill="#1e1e1e"/><rect x="263" y="43" fill="#212121"/><rect x="269" y="43" fill="#242424"/><rect x="-16" y="48" fill="#777777"/><rect x="-11" y="48" fill="#7b7b7b"/><rect x="-5" y="48" fill="#808080"/><rect x="0" y="48" fill="#797979"/><rect x="5" y="48" fill="#5e5e5e"/><rect x="11" y="48" fill="#3a3a3a"/><rect x="16" y="48" fill="#252525"/><rect x="22" y="48" fill="#2e2e2e"/><rect x="27" y="48" fill="#4b4b4b"/><rect x="32" y="48" fill="#656565"/><rect x="38" y="48" fill="#656565"/><rect x="43" y="48" fill="#505050"/><rect x="48" y="48" fill="#3b3b3b"/><rect x="54" y="48" fill="#3d3d3d"/><rect x="59" y="48" fill="#555555"/><rect x="64" y="48" fill="#6e6e6e"/><rect x="70" y="48" fill="#737373"/><rect x="75" y="48" fill="#5f5f5f"/><rect x="81" y="48" fill="#404040"/><rect x="86" y="48" fill="#262626"/><rect x="91" y="48" fill="#1b1b1b"/><rect x="97" y="48" fill="#1f1f1f"/><rect x="102" y="48" fill="#2f2f2f"/><rect x="108" y="48" fill="#484848"/><rect x="113" y="48" fill="#5c5c5c"/><rect x="118" y="48" fill="#5e5e5e"/><rect x="124" y="48" fill="#474747"/><rect x="129" y="48" fill="#2a2a2a"/><rect x="134" y="48" fill="#1c1c1c"/><rect x="140" y="48" fill="#303030"/><rect x="145" y="48" fill="#565656"/><rect x="150" y="48" fill="#757575"/><rect x="156" y="48" fill="#787878"/><rect x="161" y="48" fill="#646464"/><rect x="167" y="48" fill="#464646"/><rect x="172" y="48" fill="#2b2b2b"/><rect x="177" y="48" fill="#1c1c1c"/><rect x="183" y="48" fill="#1e1e1e"/><rect x="188" y="48" fill="#343434"/><rect x="194" y="48" fill="#565656"/><rect x="199" y="48" fill="#717171"/><rect x="204" y="48" fill="#727272"/><rect x="210" y="48" fill="#595959"/><rect x="215" y="48" fill="#393939"/><rect x="220" y="48" fill="#282828"/><rect x="226" y="48" fill="#2d2d2d"/><rect x="231" y="48" fill="#3a3a3a"/><rect x="236" y="48" fill="#434343"/><rect x="242" y="48" fill="#414141"/><rect x="247" y="48" fill="#383838"/><rect x="253" y="48" fill="#303030"/><rect x="258" y="48" fill="#2e2e2e"/><rect x="263" y="48" fill="#303030"/><rect x="269" y="48" fill="#313131"/><rect x="-16" y="54" fill="#727272"/><rect x="-11" y="54" fill="#767676"/><rect x="-5" y="54" fill="#7b7b7b"/><rect x="0" y="54" fill="#747474"/><rect x="5" y="54" fill="#595959"/><rect x="11" y="54" fill="#383838"/><rect x="16" y="54" fill="#232323"/><rect x="22" y="54" fill="#2c2c2c"/><rect x="27" y="54" fill="#474747"/><rect x="32" y="54" fill="#5d5d5d"/><rect x="38" y="54" fill="#5a5a5a"/><rect x="43" y="54" fill="#414141"/><rect x="48" y="54" fill="#2b2b2b"/><rect x="54" y="54" fill="#2f2f2f"/><rect x="59" y="54" fill="#4b4b4b"/><rect x="64" y="54" fill="#6a6a6a"/><rect x="70" y="54" fill="#737373"/><rect x="75" y="54" fill="#616161"/><rect x="81" y="54" fill="#424242"/><rect x="86" y="54" fill="#282828"/><rect x="91" y="54" fill="#1d1d1d"/><rect x="97" y="54" fill="#202020"/><rect x="102" y="54" fill="#303030"/><rect x="108" y="54" fill="#484848"/><rect x="113" y="54" fill="#5b5b5b"/><rect x="118" y="54" fill="#5d5d5d"/><rect x="124" y="54" fill="#454545"/><rect x="129" y="54" fill="#282828"/><rect x="134" y="54" fill="#1c1c1c"/><rect x="140" y="54" fill="#343434"/><rect x="145" y="54" fill="#5d5d5d"/><rect x="150" y="54" fill="#7d7d7d"/><rect x="156" y="54" fill="#7e7e7e"/><rect x="161" y="54" fill="#646464"/><rect x="167" y="54" fill="#424242"/><rect x="172" y="54" fill="#262626"/><rect x="177" y="54" fill="#1a1a1a"/><rect x="183" y="54" fill="#202020"/><rect x="188" y="54" fill="#3a3a3a"/><rect x="194" y="54" fill="#5f5f5f"/><rect x="199" y="54" fill="#7c7c7c"/><rect x="204" y="54" fill="#7d7d7d"/><rect x="210" y="54" fill="#636363"/><rect x="215" y="54" fill="#424242"/><rect x="220" y="54" fill="#2d2d2d"/><rect x="226" y="54" fill="#2d2d2d"/><rect x="231" y="54" fill="#373737"/><rect x="236" y="54" fill="#3f3f3f"/><rect x="242" y="54" fill="#3e3e3e"/><rect x="247" y="54" fill="#393939"/><rect x="253" y="54" fill="#343434"/><rect x="258" y="54" fill="#333333"/><rect x="263" y="54" fill="#343434"/><rect x="269" y="54" fill="#353535"/><rect x="-16" y="59" fill="#717171"/><rect x="-11" y="59" fill="#757575"/><rect x="-5" y="59" fill="#797979"/><rect x="0" y="59" fill="#737373"/><rect x="5" y="59" fill="#5a5a5a"/><rect x="11" y="59" fill="#3a3a3a"/><rect x="16" y="59" fill="#232323"/><rect x="22" y="59" fill="#242424"/><rect x="27" y="59" fill="#363636"/><rect x="32" y="59" fill="#464646"/><rect x="38" y="59" fill="#454545"/><rect x="43" y="59" fill="#353535"/><rect x="48" y="59" fill="#262626"/><rect x="54" y="59" fill="#2a2a2a"/><rect x="59" y="59" fill="#3f3f3f"/><rect x="64" y="59" fill="#565656"/><rect x="70" y="59" fill="#5e5e5e"/><rect x="75" y="59" fill="#545454"/><rect x="81" y="59" fill="#414141"/><rect x="86" y="59" fill="#303030"/><rect x="91" y="59" fill="#282828"/><rect x="97" y="59" fill="#2a2a2a"/><rect x="102" y="59" fill="#333333"/><rect x="108" y="59" fill="#414141"/><rect x="113" y="59" fill="#4d4d4d"/><rect x="118" y="59" fill="#4e4e4e"/><rect x="124" y="59" fill="#434343"/><rect x="129" y="59" fill="#343434"/><rect x="134" y="59" fill="#2f2f2f"/><rect x="140" y="59" fill="#3d3d3d"/><rect x="145" y="59" fill="#545454"/><rect x="150" y="59" fill="#646464"/><rect x="156" y="59" fill="#626262"/><rect x="161" y="59" fill="#505050"/><rect x="167" y="59" fill="#3a3a3a"/><rect x="172" y="59" fill="#2b2b2b"/><rect x="177" y="59" fill="#282828"/><rect x="183" y="59" fill="#313131"/><rect x="188" y="59" fill="#454545"/><rect x="194" y="59" fill="#5e5e5e"/><rect x="199" y="59" fill="#707070"/><rect x="204" y="59" fill="#6e6e6e"/><rect x="210" y="59" fill="#595959"/><rect x="215" y="59" fill="#404040"/><rect x="220" y="59" fill="#333333"/><rect x="226" y="59" fill="#363636"/><rect x="231" y="59" fill="#404040"/><rect x="236" y="59" fill="#454545"/><rect x="242" y="59" fill="#404040"/><rect x="247" y="59" fill="#353535"/><rect x="253" y="59" fill="#2d2d2d"/><rect x="258" y="59" fill="#2a2a2a"/><rect x="263" y="59" fill="#2c2c2c"/><rect x="269" y="59" fill="#2d2d2d"/><rect x="-16" y="64" fill="#6e6e6e"/><rect x="-11" y="64" fill="#727272"/><rect x="-5" y="64" fill="#757575"/><rect x="0" y="64" fill="#707070"/><rect x="5" y="64" fill="#5a5a5a"/><rect x="11" y="64" fill="#3d3d3d"/><rect x="16" y="64" fill="#242424"/><rect x="22" y="64" fill="#1d1d1d"/><rect x="27" y="64" fill="#232323"/><rect x="32" y="64" fill="#2d2d2d"/><rect x="38" y="64" fill="#303030"/><rect x="43" y="64" fill="#2c2c2c"/><rect x="48" y="64" fill="#292929"/><rect x="54" y="64" fill="#2c2c2c"/><rect x="59" y="64" fill="#353535"/><rect x="64" y="64" fill="#3e3e3e"/><rect x="70" y="64" fill="#434343"/><rect x="75" y="64" fill="#414141"/><rect x="81" y="64" fill="#3b3b3b"/><rect x="86" y="64" fill="#363636"/><rect x="91" y="64" fill="#343434"/><rect x="97" y="64" fill="#333333"/><rect x="102" y="64" fill="#343434"/><rect x="108" y="64" fill="#353535"/><rect x="113" y="64" fill="#373737"/><rect x="118" y="64" fill="#3b3b3b"/><rect x="124" y="64" fill="#404040"/><rect x="129" y="64" fill="#454545"/><rect x="134" y="64" fill="#484848"/><rect x="140" y="64" fill="#484848"/><rect x="145" y="64" fill="#454545"/><rect x="150" y="64" fill="#414141"/><rect x="156" y="64" fill="#3b3b3b"/><rect x="161" y="64" fill="#373737"/><rect x="167" y="64" fill="#343434"/><rect x="172" y="64" fill="#353535"/><rect x="177" y="64" fill="#3a3a3a"/><rect x="183" y="64" fill="#424242"/><rect x="188" y="64" fill="#4d4d4d"/><rect x="194" y="64" fill="#575757"/><rect x="199" y="64" fill="#5b5b5b"/><rect x="204" y="64" fill="#545454"/><rect x="210" y="64" fill="#464646"/><rect x="215" y="64" fill="#383838"/><rect x="220" y="64" fill="#363636"/><rect x="226" y="64" fill="#414141"/><rect x="231" y="64" fill="#4d4d4d"/><rect x="236" y="64" fill="#505050"/><rect x="242" y="64" fill="#444444"/><rect x="247" y="64" fill="#313131"/><rect x="253" y="64" fill="#232323"/><rect x="258" y="64" fill="#1f1f1f"/><rect x="263" y="64" fill="#212121"/><rect x="269" y="64" fill="#242424"/><rect x="-16" y="70" fill="#636363"/><rect x="-11" y="70" fill="#666666"/><rect x="-5" y="70" fill="#696969"/><rect x="0" y="70" fill="#656565"/><rect x="5" y="70" fill="#555555"/><rect x="11" y="70" fill="#3d3d3d"/><rect x="16" y="70" fill="#282828"/><rect x="22" y="70" fill="#1d1d1d"/><rect x="27" y="70" fill="#1c1c1c"/><rect x="32" y="70" fill="#1f1f1f"/><rect x="38" y="70" fill="#242424"/><rect x="43" y="70" fill="#292929"/><rect x="48" y="70" fill="#2c2c2c"/><rect x="54" y="70" fill="#2f2f2f"/><rect x="59" y="70" fill="#323232"/><rect x="64" y="70" fill="#333333"/><rect x="70" y="70" fill="#343434"/><rect x="75" y="70" fill="#343434"/><rect x="81" y="70" fill="#333333"/><rect x="86" y="70" fill="#333333"/><rect x="91" y="70" fill="#333333"/><rect x="97" y="70" fill="#323232"/><rect x="102" y="70" fill="#2e2e2e"/><rect x="108" y="70" fill="#282828"/><rect x="113" y="70" fill="#242424"/><rect x="118" y="70" fill="#2a2a2a"/><rect x="124" y="70" fill="#3c3c3c"/><rect x="129" y="70" fill="#505050"/><rect x="134" y="70" fill="#595959"/><rect x="140" y="70" fill="#505050"/><rect x="145" y="70" fill="#3b3b3b"/><rect x="150" y="70" fill="#292929"/><rect x="156" y="70" fill="#252525"/><rect x="161" y="70" fill="#2b2b2b"/><rect x="167" y="70" fill="#373737"/><rect x="172" y="70" fill="#404040"/><rect x="177" y="70" fill="#454545"/><rect x="183" y="70" fill="#484848"/><rect x="188" y="70" fill="#4b4b4b"/><rect x="194" y="70" fill="#4d4d4d"/><rect x="199" y="70" fill="#4b4b4b"/><rect x="204" y="70" fill="#424242"/><rect x="210" y="70" fill="#363636"/><rect x="215" y="70" fill="#2f2f2f"/><rect x="220" y="70" fill="#343434"/><rect x="226" y="70" fill="#454545"/><rect x="231" y="70" fill="#555555"/><rect x="236" y="70" fill="#595959"/><rect x="242" y="70" fill="#494949"/><rect x="247" y="70" fill="#323232"/><rect x="253" y="70" fill="#202020"/><rect x="258" y="70" fill="#1c1c1c"/><rect x="263" y="70" fill="#1f1f1f"/><rect x="269" y="70" fill="#222222"/><rect x="-16" y="75" fill="#4f4f4f"/><rect x="-11" y="75" fill="#515151"/><rect x="-5" y="75" fill="#525252"/><rect x="0" y="75" fill="#505050"/><rect x="5" y="75" fill="#474747"/><rect x="11" y="75" fill="#3a3a3a"/><rect x="16" y="75" fill="#2e2e2e"/><rect x="22" y="75" fill="#272727"/><rect x="27" y="75" fill="#252525"/><rect x="32" y="75" fill="#262626"/><rect x="38" y="75" fill="#272727"/><rect x="43" y="75" fill="#2a2a2a"/><rect x="48" y="75" fill="#2d2d2d"/><rect x="54" y="75" fill="#323232"/><rect x="59" y="75" fill="#383838"/><rect x="64" y="75" fill="#3b3b3b"/><rect x="70" y="75" fill="#3a3a3a"/><rect x="75" y="75" fill="#333333"/><rect x="81" y="75" fill="#2b2b2b"/><rect x="86" y="75" fill="#252525"/><rect x="91" y="75" fill="#252525"/><rect x="97" y="75" fill="#252525"/><rect x="102" y="75" fill="#222222"/><rect x="108" y="75" fill="#1c1c1c"/><rect x="113" y="75" fill="#1a1a1a"/><rect x="118" y="75" fill="#222222"/><rect x="124" y="75" fill="#383838"/><rect x="129" y="75" fill="#505050"/><rect x="134" y="75" fill="#5c5c5c"/><rect x="140" y="75" fill="#525252"/><rect x="145" y="75" fill="#3d3d3d"/><rect x="150" y="75" fill="#2a2a2a"/><rect x="156" y="75" fill="#2a2a2a"/><rect x="161" y="75" fill="#363636"/><rect x="167" y="75" fill="#434343"/><rect x="172" y="75" fill="#464646"/><rect x="177" y="75" fill="#424242"/><rect x="183" y="75" fill="#3c3c3c"/><rect x="188" y="75" fill="#3d3d3d"/><rect x="194" y="75" fill="#434343"/><rect x="199" y="75" fill="#474747"/><rect x="204" y="75" fill="#414141"/><rect x="210" y="75" fill="#323232"/><rect x="215" y="75" fill="#272727"/><rect x="220" y="75" fill="#2a2a2a"/><rect x="226" y="75" fill="#3e3e3e"/><rect x="231" y="75" fill="#545454"/><rect x="236" y="75" fill="#5c5c5c"/><rect x="242" y="75" fill="#505050"/><rect x="247" y="75" fill="#3b3b3b"/><rect x="253" y="75" fill="#2b2b2b"/><rect x="258" y="75" fill="#262626"/><rect x="263" y="75" fill="#292929"/><rect x="269" y="75" fill="#2c2c2c"/><rect x="-16" y="80" fill="#3d3d3d"/><rect x="-11" y="80" fill="#3d3d3d"/><rect x="-5" y="80" fill="#3e3e3e"/><rect x="0" y="80" fill="#3d3d3d"/><rect x="5" y="80" fill="#3a3a3a"/><rect x="11" y="80" fill="#363636"/><rect x="16" y="80" fill="#333333"/><rect x="22" y="80" fill="#343434"/><rect x="27" y="80" fill="#373737"/><rect x="32" y="80" fill="#383838"/><rect x="38" y="80" fill="#343434"/><rect x="43" y="80" fill="#2e2e2e"/><rect x="48" y="80" fill="#2c2c2c"/><rect x="54" y="80" fill="#343434"/><rect x="59" y="80" fill="#424242"/><rect x="64" y="80" fill="#4e4e4e"/><rect x="70" y="80" fill="#4b4b4b"/><rect x="75" y="80" fill="#3a3a3a"/><rect x="81" y="80" fill="#242424"/><rect x="86" y="80" fill="#151515"/><rect x="91" y="80" fill="#121212"/><rect x="97" y="80" fill="#151515"/><rect x="102" y="80" fill="#191919"/><rect x="108" y="80" fill="#191919"/><rect x="113" y="80" fill="#1a1a1a"/><rect x="118" y="80" fill="#232323"/><rect x="124" y="80" fill="#353535"/><rect x="129" y="80" fill="#494949"/><rect x="134" y="80" fill="#545454"/><rect x="140" y="80" fill="#4f4f4f"/><rect x="145" y="80" fill="#424242"/><rect x="150" y="80" fill="#383838"/><rect x="156" y="80" fill="#3c3c3c"/><rect x="161" y="80" fill="#484848"/><rect x="167" y="80" fill="#505050"/><rect x="172" y="80" fill="#4a4a4a"/><rect x="177" y="80" fill="#3a3a3a"/><rect x="183" y="80" fill="#2d2d2d"/><rect x="188" y="80" fill="#2e2e2e"/><rect x="194" y="80" fill="#3c3c3c"/><rect x="199" y="80" fill="#494949"/><rect x="204" y="80" fill="#474747"/><rect x="210" y="80" fill="#353535"/><rect x="215" y="80" fill="#242424"/><rect x="220" y="80" fill="#232323"/><rect x="226" y="80" fill="#363636"/><rect x="231" y="80" fill="#4d4d4d"/><rect x="236" y="80" fill="#5a5a5a"/><rect x="242" y="80" fill="#555555"/><rect x="247" y="80" fill="#474747"/><rect x="253" y="80" fill="#3b3b3b"/><rect x="258" y="80" fill="#383838"/><rect x="263" y="80" fill="#3a3a3a"/><rect x="269" y="80" fill="#3c3c3c"/><rect x="-16" y="86" fill="#383838"/><rect x="-11" y="86" fill="#383838"/><rect x="-5" y="86" fill="#393939"/><rect x="0" y="86" fill="#383838"/><rect x="5" y="86" fill="#353535"/><rect x="11" y="86" fill="#333333"/><rect x="16" y="86" fill="#343434"/><rect x="22" y="86" fill="#3c3c3c"/><rect x="27" y="86" fill="#474747"/><rect x="32" y="86" fill="#4c4c4c"/><rect x="38" y="86" fill="#444444"/><rect x="43" y="86" fill="#353535"/><rect x="48" y="86" fill="#2c2c2c"/><rect x="54" y="86" fill="#343434"/><rect x="59" y="86" fill="#4b4b4b"/><rect x="64" y="86" fill="#5f5f5f"/><rect x="70" y="86" fill="#5d5d5d"/><rect x="75" y="86" fill="#444444"/><rect x="81" y="86" fill="#232323"/><rect x="86" y="86" fill="#0d0d0d"/><rect x="91" y="86" fill="#090909"/><rect x="97" y="86" fill="#111111"/><rect x="102" y="86" fill="#1c1c1c"/><rect x="108" y="86" fill="#232323"/><rect x="113" y="86" fill="#282828"/><rect x="118" y="86" fill="#2f2f2f"/><rect x="124" y="86" fill="#383838"/><rect x="129" y="86" fill="#404040"/><rect x="134" y="86" fill="#464646"/><rect x="140" y="86" fill="#454545"/><rect x="145" y="86" fill="#434343"/><rect x="150" y="86" fill="#434343"/><rect x="156" y="86" fill="#494949"/><rect x="161" y="86" fill="#515151"/><rect x="167" y="86" fill="#545454"/><rect x="172" y="86" fill="#494949"/><rect x="177" y="86" fill="#373737"/><rect x="183" y="86" fill="#292929"/><rect x="188" y="86" fill="#2a2a2a"/><rect x="194" y="86" fill="#393939"/><rect x="199" y="86" fill="#474747"/><rect x="204" y="86" fill="#474747"/><rect x="210" y="86" fill="#393939"/><rect x="215" y="86" fill="#2a2a2a"/><rect x="220" y="86" fill="#272727"/><rect x="226" y="86" fill="#343434"/><rect x="231" y="86" fill="#484848"/><rect x="236" y="86" fill="#555555"/><rect x="242" y="86" fill="#565656"/><rect x="247" y="86" fill="#505050"/><rect x="253" y="86" fill="#4b4b4b"/><rect x="258" y="86" fill="#494949"/><rect x="263" y="86" fill="#4a4a4a"/><rect x="269" y="86" fill="#4b4b4b"/><rect x="-16" y="91" fill="#464646"/><rect x="-11" y="91" fill="#484848"/><rect x="-5" y="91" fill="#4a4a4a"/><rect x="0" y="91" fill="#474747"/><rect x="5" y="91" fill="#3e3e3e"/><rect x="11" y="91" fill="#333333"/><rect x="16" y="91" fill="#303030"/><rect x="22" y="91" fill="#3c3c3c"/><rect x="27" y="91" fill="#4f4f4f"/><rect x="32" y="91" fill="#5b5b5b"/><rect x="38" y="91" fill="#545454"/><rect x="43" y="91" fill="#3e3e3e"/><rect x="48" y="91" fill="#2d2d2d"/><rect x="54" y="91" fill="#333333"/><rect x="59" y="91" fill="#4e4e4e"/><rect x="64" y="91" fill="#676767"/><rect x="70" y="91" fill="#676767"/><rect x="75" y="91" fill="#4c4c4c"/><rect x="81" y="91" fill="#282828"/><rect x="86" y="91" fill="#121212"/><rect x="91" y="91" fill="#121212"/><rect x="97" y="91" fill="#202020"/><rect x="102" y="91" fill="#313131"/><rect x="108" y="91" fill="#3d3d3d"/><rect x="113" y="91" fill="#434343"/><rect x="118" y="91" fill="#444444"/><rect x="124" y="91" fill="#404040"/><rect x="129" y="91" fill="#3b3b3b"/><rect x="134" y="91" fill="#373737"/><rect x="140" y="91" fill="#373737"/><rect x="145" y="91" fill="#3b3b3b"/><rect x="150" y="91" fill="#414141"/><rect x="156" y="91" fill="#464646"/><rect x="161" y="91" fill="#4a4a4a"/><rect x="167" y="91" fill="#4a4a4a"/><rect x="172" y="91" fill="#454545"/><rect x="177" y="91" fill="#3f3f3f"/><rect x="183" y="91" fill="#393939"/><rect x="188" y="91" fill="#373737"/><rect x="194" y="91" fill="#393939"/><rect x="199" y="91" fill="#3c3c3c"/><rect x="204" y="91" fill="#3d3d3d"/><rect x="210" y="91" fill="#3a3a3a"/><rect x="215" y="91" fill="#383838"/><rect x="220" y="91" fill="#3a3a3a"/><rect x="226" y="91" fill="#404040"/><rect x="231" y="91" fill="#474747"/><rect x="236" y="91" fill="#4e4e4e"/><rect x="242" y="91" fill="#515151"/><rect x="247" y="91" fill="#535353"/><rect x="253" y="91" fill="#535353"/><rect x="258" y="91" fill="#535353"/><rect x="263" y="91" fill="#535353"/><rect x="269" y="91" fill="#535353"/><rect x="-16" y="96" fill="#5b5b5b"/><rect x="-11" y="96" fill="#5e5e5e"/><rect x="-5" y="96" fill="#616161"/><rect x="0" y="96" fill="#5d5d5d"/><rect x="5" y="96" fill="#4a4a4a"/><rect x="11" y="96" fill="#343434"/><rect x="16" y="96" fill="#292929"/><rect x="22" y="96" fill="#363636"/><rect x="27" y="96" fill="#525252"/><rect x="32" y="96" fill="#666666"/><rect x="38" y="96" fill="#606060"/><rect x="43" y="96" fill="#464646"/><rect x="48" y="96" fill="#2f2f2f"/><rect x="54" y="96" fill="#313131"/><rect x="59" y="96" fill="#4b4b4b"/><rect x="64" y="96" fill="#656565"/><rect x="70" y="96" fill="#686868"/><rect x="75" y="96" fill="#505050"/><rect x="81" y="96" fill="#303030"/><rect x="86" y="96" fill="#1d1d1d"/><rect x="91" y="96" fill="#222222"/><rect x="97" y="96" fill="#343434"/><rect x="102" y="96" fill="#494949"/><rect x="108" y="96" fill="#585858"/><rect x="113" y="96" fill="#5e5e5e"/><rect x="118" y="96" fill="#5a5a5a"/><rect x="124" y="96" fill="#4b4b4b"/><rect x="129" y="96" fill="#393939"/><rect x="134" y="96" fill="#2c2c2c"/><rect x="140" y="96" fill="#2b2b2b"/><rect x="145" y="96" fill="#313131"/><rect x="150" y="96" fill="#383838"/><rect x="156" y="96" fill="#3b3b3b"/><rect x="161" y="96" fill="#3a3a3a"/><rect x="167" y="96" fill="#3b3b3b"/><rect x="172" y="96" fill="#424242"/><rect x="177" y="96" fill="#4c4c4c"/><rect x="183" y="96" fill="#515151"/><rect x="188" y="96" fill="#4b4b4b"/><rect x="194" y="96" fill="#3c3c3c"/><rect x="199" y="96" fill="#303030"/><rect x="204" y="96" fill="#2f2f2f"/><rect x="210" y="96" fill="#3c3c3c"/><rect x="215" y="96" fill="#4b4b4b"/><rect x="220" y="96" fill="#535353"/><rect x="226" y="96" fill="#505050"/><rect x="231" y="96" fill="#484848"/><rect x="236" y="96" fill="#454545"/><rect x="242" y="96" fill="#484848"/><rect x="247" y="96" fill="#505050"/><rect x="253" y="96" fill="#565656"/><rect x="258" y="96" fill="#575757"/><rect x="263" y="96" fill="#565656"/><rect x="269" y="96" fill="#555555"/><rect x="-16" y="102" fill="#646464"/><rect x="-11" y="102" fill="#686868"/><rect x="-5" y="102" fill="#6c6c6c"/><rect x="0" y="102" fill="#666666"/><rect x="5" y="102" fill="#4e4e4e"/><rect x="11" y="102" fill="#323232"/><rect x="16" y="102" fill="#232323"/><rect x="22" y="102" fill="#323232"/><rect x="27" y="102" fill="#535353"/><rect x="32" y="102" fill="#6d6d6d"/><rect x="38" y="102" fill="#6a6a6a"/><rect x="43" y="102" fill="#4e4e4e"/><rect x="48" y="102" fill="#333333"/><rect x="54" y="102" fill="#2f2f2f"/><rect x="59" y="102" fill="#454545"/><rect x="64" y="102" fill="#5c5c5c"/><rect x="70" y="102" fill="#616161"/><rect x="75" y="102" fill="#4d4d4d"/><rect x="81" y="102" fill="#333333"/><rect x="86" y="102" fill="#252525"/><rect x="91" y="102" fill="#2c2c2c"/><rect x="97" y="102" fill="#404040"/><rect x="102" y="102" fill="#565656"/><rect x="108" y="102" fill="#656565"/><rect x="113" y="102" fill="#6b6b6b"/><rect x="118" y="102" fill="#656565"/><rect x="124" y="102" fill="#535353"/><rect x="129" y="102" fill="#3d3d3d"/><rect x="134" y="102" fill="#2d2d2d"/><rect x="140" y="102" fill="#292929"/><rect x="145" y="102" fill="#2e2e2e"/><rect x="150" y="102" fill="#333333"/><rect x="156" y="102" fill="#333333"/><rect x="161" y="102" fill="#313131"/><rect x="167" y="102" fill="#333333"/><rect x="172" y="102" fill="#424242"/><rect x="177" y="102" fill="#555555"/><rect x="183" y="102" fill="#616161"/><rect x="188" y="102" fill="#585858"/><rect x="194" y="102" fill="#404040"/><rect x="199" y="102" fill="#2b2b2b"/><rect x="204" y="102" fill="#2c2c2c"/><rect x="210" y="102" fill="#434343"/><rect x="215" y="102" fill="#5d5d5d"/><rect x="220" y="102" fill="#666666"/><rect x="226" y="102" fill="#5a5a5a"/><rect x="231" y="102" fill="#464646"/><rect x="236" y="102" fill="#3a3a3a"/><rect x="242" y="102" fill="#3e3e3e"/><rect x="247" y="102" fill="#4b4b4b"/><rect x="253" y="102" fill="#555555"/><rect x="258" y="102" fill="#585858"/><rect x="263" y="102" fill="#565656"/><rect x="269" y="102" fill="#555555"/><rect x="-16" y="107" fill="#545454"/><rect x="-11" y="107" fill="#575757"/><rect x="-5" y="107" fill="#5a5a5a"/><rect x="0" y="107" fill="#565656"/><rect x="5" y="107" fill="#424242"/><rect x="11" y="107" fill="#2c2c2c"/><rect x="16" y="107" fill="#232323"/><rect x="22" y="107" fill="#363636"/><rect x="27" y="107" fill="#585858"/><rect x="32" y="107" fill="#727272"/><rect x="38" y="107" fill="#6f6f6f"/><rect x="43" y="107" fill="#535353"/><rect x="48" y="107" fill="#363636"/><rect x="54" y="107" fill="#2e2e2e"/><rect x="59" y="107" fill="#3c3c3c"/><rect x="64" y="107" fill="#4e4e4e"/><rect x="70" y="107" fill="#525252"/><rect x="75" y="107" fill="#424242"/><rect x="81" y="107" fill="#2d2d2d"/><rect x="86" y="107" fill="#212121"/><rect x="91" y="107" fill="#272727"/><rect x="97" y="107" fill="#363636"/><rect x="102" y="107" fill="#494949"/><rect x="108" y="107" fill="#575757"/><rect x="113" y="107" fill="#606060"/><rect x="118" y="107" fill="#5f5f5f"/><rect x="124" y="107" fill="#555555"/><rect x="129" y="107" fill="#474747"/><rect x="134" y="107" fill="#3b3b3b"/><rect x="140" y="107" fill="#363636"/><rect x="145" y="107" fill="#373737"/><rect x="150" y="107" fill="#393939"/><rect x="156" y="107" fill="#393939"/><rect x="161" y="107" fill="#383838"/><rect x="167" y="107" fill="#3c3c3c"/><rect x="172" y="107" fill="#474747"/><rect x="177" y="107" fill="#565656"/><rect x="183" y="107" fill="#5d5d5d"/><rect x="188" y="107" fill="#565656"/><rect x="194" y="107" fill="#444444"/><rect x="199" y="107" fill="#353535"/><rect x="204" y="107" fill="#3a3a3a"/><rect x="210" y="107" fill="#515151"/><rect x="215" y="107" fill="#676767"/><rect x="220" y="107" fill="#6b6b6b"/><rect x="226" y="107" fill="#575757"/><rect x="231" y="107" fill="#3d3d3d"/><rect x="236" y="107" fill="#2f2f2f"/><rect x="242" y="107" fill="#353535"/><rect x="247" y="107" fill="#464646"/><rect x="253" y="107" fill="#545454"/><rect x="258" y="107" fill="#575757"/><rect x="263" y="107" fill="#555555"/><rect x="269" y="107" fill="#535353"/><rect x="-16" y="113" fill="#383838"/><rect x="-11" y="113" fill="#3a3a3a"/><rect x="-5" y="113" fill="#3b3b3b"/><rect x="0" y="113" fill="#393939"/><rect x="5" y="113" fill="#303030"/><rect x="11" y="113" fill="#262626"/><rect x="16" y="113" fill="#282828"/><rect x="22" y="113" fill="#3e3e3e"/><rect x="27" y="113" fill="#5e5e5e"/><rect x="32" y="113" fill="#747474"/><rect x="38" y="113" fill="#6f6f6f"/><rect x="43" y="113" fill="#555555"/><rect x="48" y="113" fill="#383838"/><rect x="54" y="113" fill="#2c2c2c"/><rect x="59" y="113" fill="#333333"/><rect x="64" y="113" fill="#3f3f3f"/><rect x="70" y="113" fill="#414141"/><rect x="75" y="113" fill="#353535"/><rect x="81" y="113" fill="#252525"/><rect x="86" y="113" fill="#1a1a1a"/><rect x="91" y="113" fill="#191919"/><rect x="97" y="113" fill="#202020"/><rect x="102" y="113" fill="#2d2d2d"/><rect x="108" y="113" fill="#3a3a3a"/><rect x="113" y="113" fill="#474747"/><rect x="118" y="113" fill="#505050"/><rect x="124" y="113" fill="#545454"/><rect x="129" y="113" fill="#545454"/><rect x="134" y="113" fill="#505050"/><rect x="140" y="113" fill="#4b4b4b"/><rect x="145" y="113" fill="#474747"/><rect x="150" y="113" fill="#444444"/><rect x="156" y="113" fill="#444444"/><rect x="161" y="113" fill="#484848"/><rect x="167" y="113" fill="#4b4b4b"/><rect x="172" y="113" fill="#4e4e4e"/><rect x="177" y="113" fill="#4e4e4e"/><rect x="183" y="113" fill="#4d4d4d"/><rect x="188" y="113" fill="#4a4a4a"/><rect x="194" y="113" fill="#474747"/><rect x="199" y="113" fill="#484848"/><rect x="204" y="113" fill="#525252"/><rect x="210" y="113" fill="#616161"/><rect x="215" y="113" fill="#6a6a6a"/><rect x="220" y="113" fill="#636363"/><rect x="226" y="113" fill="#4a4a4a"/><rect x="231" y="113" fill="#303030"/><rect x="236" y="113" fill="#242424"/><rect x="242" y="113" fill="#2d2d2d"/><rect x="247" y="113" fill="#414141"/><rect x="253" y="113" fill="#515151"/><rect x="258" y="113" fill="#565656"/><rect x="263" y="113" fill="#535353"/><rect x="269" y="113" fill="#505050"/><rect x="-16" y="118" fill="#252525"/><rect x="-11" y="118" fill="#252525"/><rect x="-5" y="118" fill="#262626"/><rect x="0" y="118" fill="#252525"/><rect x="5" y="118" fill="#242424"/><rect x="11" y="118" fill="#272727"/><rect x="16" y="118" fill="#313131"/><rect x="22" y="118" fill="#474747"/><rect x="27" y="118" fill="#616161"/><rect x="32" y="118" fill="#707070"/><rect x="38" y="118" fill="#6a6a6a"/><rect x="43" y="118" fill="#515151"/><rect x="48" y="118" fill="#363636"/><rect x="54" y="118" fill="#292929"/><rect x="59" y="118" fill="#2c2c2c"/><rect x="64" y="118" fill="#333333"/><rect x="70" y="118" fill="#363636"/><rect x="75" y="118" fill="#2f2f2f"/><rect x="81" y="118" fill="#242424"/><rect x="86" y="118" fill="#181818"/><rect x="91" y="118" fill="#101010"/><rect x="97" y="118" fill="#0d0d0d"/><rect x="102" y="118" fill="#121212"/><rect x="108" y="118" fill="#202020"/><rect x="113" y="118" fill="#333333"/><rect x="118" y="118" fill="#464646"/><rect x="124" y="118" fill="#575757"/><rect x="129" y="118" fill="#616161"/><rect x="134" y="118" fill="#646464"/><rect x="140" y="118" fill="#5d5d5d"/><rect x="145" y="118" fill="#525252"/><rect x="150" y="118" fill="#4a4a4a"/><rect x="156" y="118" fill="#4a4a4a"/><rect x="161" y="118" fill="#505050"/><rect x="167" y="118" fill="#545454"/><rect x="172" y="118" fill="#505050"/><rect x="177" y="118" fill="#464646"/><rect x="183" y="118" fill="#3e3e3e"/><rect x="188" y="118" fill="#3f3f3f"/><rect x="194" y="118" fill="#4a4a4a"/><rect x="199" y="118" fill="#595959"/><rect x="204" y="118" fill="#666666"/><rect x="210" y="118" fill="#6c6c6c"/><rect x="215" y="118" fill="#696969"/><rect x="220" y="118" fill="#585858"/><rect x="226" y="118" fill="#3d3d3d"/><rect x="231" y="118" fill="#242424"/><rect x="236" y="118" fill="#1c1c1c"/><rect x="242" y="118" fill="#272727"/><rect x="247" y="118" fill="#3d3d3d"/><rect x="253" y="118" fill="#4e4e4e"/><rect x="258" y="118" fill="#525252"/><rect x="263" y="118" fill="#4f4f4f"/><rect x="269" y="118" fill="#4c4c4c"/><rect x="-16" y="123" fill="#2c2c2c"/><rect x="-11" y="123" fill="#2c2c2c"/><rect x="-5" y="123" fill="#2c2c2c"/><rect x="0" y="123" fill="#2c2c2c"/><rect x="5" y="123" fill="#2d2d2d"/><rect x="11" y="123" fill="#323232"/><rect x="16" y="123" fill="#3b3b3b"/><rect x="22" y="123" fill="#4c4c4c"/><rect x="27" y="123" fill="#5d5d5d"/><rect x="32" y="123" fill="#666666"/><rect x="38" y="123" fill="#5e5e5e"/><rect x="43" y="123" fill="#484848"/><rect x="48" y="123" fill="#313131"/><rect x="54" y="123" fill="#252525"/><rect x="59" y="123" fill="#272727"/><rect x="64" y="123" fill="#303030"/><rect x="70" y="123" fill="#363636"/><rect x="75" y="123" fill="#373737"/><rect x="81" y="123" fill="#313131"/><rect x="86" y="123" fill="#252525"/><rect x="91" y="123" fill="#151515"/><rect x="97" y="123" fill="#090909"/><rect x="102" y="123" fill="#090909"/><rect x="108" y="123" fill="#1a1a1a"/><rect x="113" y="123" fill="#343434"/><rect x="118" y="123" fill="#4e4e4e"/><rect x="124" y="123" fill="#626262"/><rect x="129" y="123" fill="#6d6d6d"/><rect x="134" y="123" fill="#6d6d6d"/><rect x="140" y="123" fill="#616161"/><rect x="145" y="123" fill="#515151"/><rect x="150" y="123" fill="#444444"/><rect x="156" y="123" fill="#414141"/><rect x="161" y="123" fill="#464646"/><rect x="167" y="123" fill="#4a4a4a"/><rect x="172" y="123" fill="#484848"/><rect x="177" y="123" fill="#404040"/><rect x="183" y="123" fill="#3b3b3b"/><rect x="188" y="123" fill="#404040"/><rect x="194" y="123" fill="#4e4e4e"/><rect x="199" y="123" fill="#5e5e5e"/><rect x="204" y="123" fill="#696969"/><rect x="210" y="123" fill="#6b6b6b"/><rect x="215" y="123" fill="#636363"/><rect x="220" y="123" fill="#505050"/><rect x="226" y="123" fill="#363636"/><rect x="231" y="123" fill="#1f1f1f"/><rect x="236" y="123" fill="#181818"/><rect x="242" y="123" fill="#242424"/><rect x="247" y="123" fill="#383838"/><rect x="253" y="123" fill="#484848"/><rect x="258" y="123" fill="#4c4c4c"/><rect x="263" y="123" fill="#494949"/><rect x="269" y="123" fill="#474747"/><rect x="-16" y="129" fill="#474747"/><rect x="-11" y="129" fill="#474747"/><rect x="-5" y="129" fill="#484848"/><rect x="0" y="129" fill="#474747"/><rect x="5" y="129" fill="#444444"/><rect x="11" y="129" fill="#424242"/><rect x="16" y="129" fill="#444444"/><rect x="22" y="129" fill="#4b4b4b"/><rect x="27" y="129" fill="#555555"/><rect x="32" y="129" fill="#585858"/><rect x="38" y="129" fill="#4e4e4e"/><rect x="43" y="129" fill="#3a3a3a"/><rect x="48" y="129" fill="#282828"/><rect x="54" y="129" fill="#212121"/><rect x="59" y="129" fill="#272727"/><rect x="64" y="129" fill="#343434"/><rect x="70" y="129" fill="#414141"/><rect x="75" y="129" fill="#484848"/><rect x="81" y="129" fill="#474747"/><rect x="86" y="129" fill="#3a3a3a"/><rect x="91" y="129" fill="#242424"/><rect x="97" y="129" fill="#121212"/><rect x="102" y="129" fill="#101010"/><rect x="108" y="129" fill="#262626"/><rect x="113" y="129" fill="#474747"/><rect x="118" y="129" fill="#656565"/><rect x="124" y="129" fill="#747474"/><rect x="129" y="129" fill="#757575"/><rect x="134" y="129" fill="#6b6b6b"/><rect x="140" y="129" fill="#595959"/><rect x="145" y="129" fill="#454545"/><rect x="150" y="129" fill="#353535"/><rect x="156" y="129" fill="#2e2e2e"/><rect x="161" y="129" fill="#303030"/><rect x="167" y="129" fill="#363636"/><rect x="172" y="129" fill="#3b3b3b"/><rect x="177" y="129" fill="#3e3e3e"/><rect x="183" y="129" fill="#434343"/><rect x="188" y="129" fill="#494949"/><rect x="194" y="129" fill="#515151"/><rect x="199" y="129" fill="#585858"/><rect x="204" y="129" fill="#5e5e5e"/><rect x="210" y="129" fill="#5f5f5f"/><rect x="215" y="129" fill="#595959"/><rect x="220" y="129" fill="#4b4b4b"/><rect x="226" y="129" fill="#363636"/><rect x="231" y="129" fill="#232323"/><rect x="236" y="129" fill="#1c1c1c"/><rect x="242" y="129" fill="#252525"/><rect x="247" y="129" fill="#343434"/><rect x="253" y="129" fill="#404040"/><rect x="258" y="129" fill="#434343"/><rect x="263" y="129" fill="#414141"/><rect x="269" y="129" fill="#3f3f3f"/><rect x="-16" y="134" fill="#606060"/><rect x="-11" y="134" fill="#616161"/><rect x="-5" y="134" fill="#636363"/><rect x="0" y="134" fill="#616161"/><rect x="5" y="134" fill="#585858"/><rect x="11" y="134" fill="#4e4e4e"/><rect x="16" y="134" fill="#464646"/><rect x="22" y="134" fill="#464646"/><rect x="27" y="134" fill="#4a4a4a"/><rect x="32" y="134" fill="#4a4a4a"/><rect x="38" y="134" fill="#3f3f3f"/><rect x="43" y="134" fill="#2c2c2c"/><rect x="48" y="134" fill="#1e1e1e"/><rect x="54" y="134" fill="#1d1d1d"/><rect x="59" y="134" fill="#2c2c2c"/><rect x="64" y="134" fill="#404040"/><rect x="70" y="134" fill="#525252"/><rect x="75" y="134" fill="#5a5a5a"/><rect x="81" y="134" fill="#575757"/><rect x="86" y="134" fill="#474747"/><rect x="91" y="134" fill="#2f2f2f"/><rect x="97" y="134" fill="#1c1c1c"/><rect x="102" y="134" fill="#1e1e1e"/><rect x="108" y="134" fill="#3b3b3b"/><rect x="113" y="134" fill="#616161"/><rect x="118" y="134" fill="#7f7f7f"/><rect x="124" y="134" fill="#868686"/><rect x="129" y="134" fill="#7a7a7a"/><rect x="134" y="134" fill="#646464"/><rect x="140" y="134" fill="#4b4b4b"/><rect x="145" y="134" fill="#353535"/><rect x="150" y="134" fill="#252525"/><rect x="156" y="134" fill="#1f1f1f"/><rect x="161" y="134" fill="#212121"/><rect x="167" y="134" fill="#292929"/><rect x="172" y="134" fill="#343434"/><rect x="177" y="134" fill="#404040"/><rect x="183" y="134" fill="#494949"/><rect x="188" y="134" fill="#4e4e4e"/><rect x="194" y="134" fill="#4f4f4f"/><rect x="199" y="134" fill="#4e4e4e"/><rect x="204" y="134" fill="#4e4e4e"/><rect x="210" y="134" fill="#4e4e4e"/><rect x="215" y="134" fill="#4c4c4c"/><rect x="220" y="134" fill="#464646"/><rect x="226" y="134" fill="#3c3c3c"/><rect x="231" y="134" fill="#313131"/><rect x="236" y="134" fill="#2c2c2c"/><rect x="242" y="134" fill="#2d2d2d"/><rect x="247" y="134" fill="#313131"/><rect x="253" y="134" fill="#363636"/><rect x="258" y="134" fill="#373737"/><rect x="263" y="134" fill="#363636"/><rect x="269" y="134" fill="#353535"/><rect x="-16" y="139" fill="#666666"/><rect x="-11" y="139" fill="#686868"/><rect x="-5" y="139" fill="#6a6a6a"/><rect x="0" y="139" fill="#676767"/><rect x="5" y="139" fill="#5b5b5b"/><rect x="11" y="139" fill="#4b4b4b"/><rect x="16" y="139" fill="#3f3f3f"/><rect x="22" y="139" fill="#3c3c3c"/><rect x="27" y="139" fill="#3f3f3f"/><rect x="32" y="139" fill="#3f3f3f"/><rect x="38" y="139" fill="#343434"/><rect x="43" y="139" fill="#212121"/><rect x="48" y="139" fill="#161616"/><rect x="54" y="139" fill="#1d1d1d"/><rect x="59" y="139" fill="#363636"/><rect x="64" y="139" fill="#525252"/><rect x="70" y="139" fill="#636363"/><rect x="75" y="139" fill="#636363"/><rect x="81" y="139" fill="#555555"/><rect x="86" y="139" fill="#404040"/><rect x="91" y="139" fill="#2a2a2a"/><rect x="97" y="139" fill="#202020"/><rect x="102" y="139" fill="#2b2b2b"/><rect x="108" y="139" fill="#4e4e4e"/><rect x="113" y="139" fill="#787878"/><rect x="118" y="139" fill="#939393"/><rect x="124" y="139" fill="#919191"/><rect x="129" y="139" fill="#7a7a7a"/><rect x="134" y="139" fill="#5b5b5b"/><rect x="140" y="139" fill="#3e3e3e"/><rect x="145" y="139" fill="#292929"/><rect x="150" y="139" fill="#1d1d1d"/><rect x="156" y="139" fill="#1e1e1e"/><rect x="161" y="139" fill="#272727"/><rect x="167" y="139" fill="#333333"/><rect x="172" y="139" fill="#3d3d3d"/><rect x="177" y="139" fill="#424242"/><rect x="183" y="139" fill="#454545"/><rect x="188" y="139" fill="#464646"/><rect x="194" y="139" fill="#474747"/><rect x="199" y="139" fill="#474747"/><rect x="204" y="139" fill="#444444"/><rect x="210" y="139" fill="#3f3f3f"/><rect x="215" y="139" fill="#3c3c3c"/><rect x="220" y="139" fill="#3e3e3e"/><rect x="226" y="139" fill="#454545"/><rect x="231" y="139" fill="#4a4a4a"/><rect x="236" y="139" fill="#494949"/><rect x="242" y="139" fill="#3f3f3f"/><rect x="247" y="139" fill="#323232"/><rect x="253" y="139" fill="#282828"/><rect x="258" y="139" fill="#252525"/><rect x="263" y="139" fill="#272727"/><rect x="269" y="139" fill="#282828"/><rect x="-16" y="145" fill="#585858"/><rect x="-11" y="145" fill="#5a5a5a"/><rect x="-5" y="145" fill="#5c5c5c"/><rect x="0" y="145" fill="#595959"/><rect x="5" y="145" fill="#4d4d4d"/><rect x="11" y="145" fill="#3d3d3d"/><rect x="16" y="145" fill="#313131"/><rect x="22" y="145" fill="#313131"/><rect x="27" y="145" fill="#363636"/><rect x="32" y="145" fill="#383838"/><rect x="38" y="145" fill="#2d2d2d"/><rect x="43" y="145" fill="#1b1b1b"/><rect x="48" y="145" fill="#121212"/><rect x="54" y="145" fill="#202020"/><rect x="59" y="145" fill="#424242"/><rect x="64" y="145" fill="#646464"/><rect x="70" y="145" fill="#707070"/><rect x="75" y="145" fill="#606060"/><rect x="81" y="145" fill="#434343"/><rect x="86" y="145" fill="#282828"/><rect x="91" y="145" fill="#1a1a1a"/><rect x="97" y="145" fill="#1c1c1c"/><rect x="102" y="145" fill="#333333"/><rect x="108" y="145" fill="#5b5b5b"/><rect x="113" y="145" fill="#848484"/><rect x="118" y="145" fill="#9b9b9b"/><rect x="124" y="145" fill="#929292"/><rect x="129" y="145" fill="#757575"/><rect x="134" y="145" fill="#515151"/><rect x="140" y="145" fill="#333333"/><rect x="145" y="145" fill="#212121"/><rect x="150" y="145" fill="#1d1d1d"/><rect x="156" y="145" fill="#2a2a2a"/><rect x="161" y="145" fill="#3f3f3f"/><rect x="167" y="145" fill="#505050"/><rect x="172" y="145" fill="#505050"/><rect x="177" y="145" fill="#444444"/><rect x="183" y="145" fill="#373737"/><rect x="188" y="145" fill="#343434"/><rect x="194" y="145" fill="#3c3c3c"/><rect x="199" y="145" fill="#434343"/><rect x="204" y="145" fill="#404040"/><rect x="210" y="145" fill="#343434"/><rect x="215" y="145" fill="#2c2c2c"/><rect x="220" y="145" fill="#343434"/><rect x="226" y="145" fill="#4d4d4d"/><rect x="231" y="145" fill="#676767"/><rect x="236" y="145" fill="#6c6c6c"/><rect x="242" y="145" fill="#555555"/><rect x="247" y="145" fill="#343434"/><rect x="253" y="145" fill="#1a1a1a"/><rect x="258" y="145" fill="#131313"/><rect x="263" y="145" fill="#181818"/><rect x="269" y="145" fill="#1c1c1c"/><rect x="-16" y="150" fill="#444444"/><rect x="-11" y="150" fill="#454545"/><rect x="-5" y="150" fill="#474747"/><rect x="0" y="150" fill="#444444"/><rect x="5" y="150" fill="#3b3b3b"/><rect x="11" y="150" fill="#2e2e2e"/><rect x="16" y="150" fill="#252525"/><rect x="22" y="150" fill="#272727"/><rect x="27" y="150" fill="#2f2f2f"/><rect x="32" y="150" fill="#323232"/><rect x="38" y="150" fill="#292929"/><rect x="43" y="150" fill="#1a1a1a"/><rect x="48" y="150" fill="#141414"/><rect x="54" y="150" fill="#262626"/><rect x="59" y="150" fill="#4b4b4b"/><rect x="64" y="150" fill="#6c6c6c"/><rect x="70" y="150" fill="#727272"/><rect x="75" y="150" fill="#575757"/><rect x="81" y="150" fill="#303030"/><rect x="86" y="150" fill="#131313"/><rect x="91" y="150" fill="#0e0e0e"/><rect x="97" y="150" fill="#1c1c1c"/><rect x="102" y="150" fill="#3b3b3b"/><rect x="108" y="150" fill="#616161"/><rect x="113" y="150" fill="#838383"/><rect x="118" y="150" fill="#939393"/><rect x="124" y="150" fill="#868686"/><rect x="129" y="150" fill="#686868"/><rect x="134" y="150" fill="#454545"/><rect x="140" y="150" fill="#2a2a2a"/><rect x="145" y="150" fill="#1d1d1d"/><rect x="150" y="150" fill="#212121"/><rect x="156" y="150" fill="#383838"/><rect x="161" y="150" fill="#565656"/><rect x="167" y="150" fill="#686868"/><rect x="172" y="150" fill="#606060"/><rect x="177" y="150" fill="#434343"/><rect x="183" y="150" fill="#292929"/><rect x="188" y="150" fill="#242424"/><rect x="194" y="150" fill="#323232"/><rect x="199" y="150" fill="#424242"/><rect x="204" y="150" fill="#414141"/><rect x="210" y="150" fill="#2f2f2f"/><rect x="215" y="150" fill="#212121"/><rect x="220" y="150" fill="#2c2c2c"/><rect x="226" y="150" fill="#525252"/><rect x="231" y="150" fill="#797979"/><rect x="236" y="150" fill="#838383"/><rect x="242" y="150" fill="#656565"/><rect x="247" y="150" fill="#363636"/><rect x="253" y="150" fill="#121212"/><rect x="258" y="150" fill="#080808"/><rect x="263" y="150" fill="#0f0f0f"/><rect x="269" y="150" fill="#151515"/><rect x="-16" y="155" fill="#363636"/><rect x="-11" y="155" fill="#373737"/><rect x="-5" y="155" fill="#383838"/><rect x="0" y="155" fill="#373737"/><rect x="5" y="155" fill="#303030"/><rect x="11" y="155" fill="#282828"/><rect x="16" y="155" fill="#232323"/><rect x="22" y="155" fill="#242424"/><rect x="27" y="155" fill="#292929"/><rect x="32" y="155" fill="#2c2c2c"/><rect x="38" y="155" fill="#272727"/><rect x="43" y="155" fill="#1e1e1e"/><rect x="48" y="155" fill="#1d1d1d"/><rect x="54" y="155" fill="#2e2e2e"/><rect x="59" y="155" fill="#4b4b4b"/><rect x="64" y="155" fill="#626262"/><rect x="70" y="155" fill="#626262"/><rect x="75" y="155" fill="#494949"/><rect x="81" y="155" fill="#282828"/><rect x="86" y="155" fill="#141414"/><rect x="91" y="155" fill="#161616"/><rect x="97" y="155" fill="#292929"/><rect x="102" y="155" fill="#434343"/><rect x="108" y="155" fill="#5f5f5f"/><rect x="113" y="155" fill="#737373"/><rect x="118" y="155" fill="#797979"/><rect x="124" y="155" fill="#6b6b6b"/><rect x="129" y="155" fill="#515151"/><rect x="134" y="155" fill="#363636"/><rect x="140" y="155" fill="#222222"/><rect x="145" y="155" fill="#1a1a1a"/><rect x="150" y="155" fill="#222222"/><rect x="156" y="155" fill="#3a3a3a"/><rect x="161" y="155" fill="#575757"/><rect x="167" y="155" fill="#676767"/><rect x="172" y="155" fill="#5d5d5d"/><rect x="177" y="155" fill="#3f3f3f"/><rect x="183" y="155" fill="#242424"/><rect x="188" y="155" fill="#202020"/><rect x="194" y="155" fill="#313131"/><rect x="199" y="155" fill="#434343"/><rect x="204" y="155" fill="#434343"/><rect x="210" y="155" fill="#313131"/><rect x="215" y="155" fill="#222222"/><rect x="220" y="155" fill="#2b2b2b"/><rect x="226" y="155" fill="#4f4f4f"/><rect x="231" y="155" fill="#757575"/><rect x="236" y="155" fill="#808080"/><rect x="242" y="155" fill="#646464"/><rect x="247" y="155" fill="#383838"/><rect x="253" y="155" fill="#161616"/><rect x="258" y="155" fill="#0d0d0d"/><rect x="263" y="155" fill="#131313"/><rect x="269" y="155" fill="#181818"/><rect x="-16" y="161" fill="#333333"/><rect x="-11" y="161" fill="#333333"/><rect x="-5" y="161" fill="#343434"/><rect x="0" y="161" fill="#333333"/><rect x="5" y="161" fill="#323232"/><rect x="11" y="161" fill="#2f2f2f"/><rect x="16" y="161" fill="#2c2c2c"/><rect x="22" y="161" fill="#292929"/><rect x="27" y="161" fill="#262626"/><rect x="32" y="161" fill="#242424"/><rect x="38" y="161" fill="#252525"/><rect x="43" y="161" fill="#272727"/><rect x="48" y="161" fill="#2d2d2d"/><rect x="54" y="161" fill="#363636"/><rect x="59" y="161" fill="#414141"/><rect x="64" y="161" fill="#474747"/><rect x="70" y="161" fill="#454545"/><rect x="75" y="161" fill="#3a3a3a"/><rect x="81" y="161" fill="#2f2f2f"/><rect x="86" y="161" fill="#2b2b2b"/><rect x="91" y="161" fill="#333333"/><rect x="97" y="161" fill="#404040"/><rect x="102" y="161" fill="#4d4d4d"/><rect x="108" y="161" fill="#565656"/><rect x="113" y="161" fill="#585858"/><rect x="118" y="161" fill="#535353"/><rect x="124" y="161" fill="#454545"/><rect x="129" y="161" fill="#353535"/><rect x="134" y="161" fill="#252525"/><rect x="140" y="161" fill="#1b1b1b"/><rect x="145" y="161" fill="#191919"/><rect x="150" y="161" fill="#202020"/><rect x="156" y="161" fill="#303030"/><rect x="161" y="161" fill="#424242"/><rect x="167" y="161" fill="#4c4c4c"/><rect x="172" y="161" fill="#474747"/><rect x="177" y="161" fill="#383838"/><rect x="183" y="161" fill="#2a2a2a"/><rect x="188" y="161" fill="#2a2a2a"/><rect x="194" y="161" fill="#373737"/><rect x="199" y="161" fill="#434343"/><rect x="204" y="161" fill="#434343"/><rect x="210" y="161" fill="#383838"/><rect x="215" y="161" fill="#2d2d2d"/><rect x="220" y="161" fill="#313131"/><rect x="226" y="161" fill="#454545"/><rect x="231" y="161" fill="#5b5b5b"/><rect x="236" y="161" fill="#616161"/><rect x="242" y="161" fill="#525252"/><rect x="247" y="161" fill="#383838"/><rect x="253" y="161" fill="#252525"/><rect x="258" y="161" fill="#1f1f1f"/><rect x="263" y="161" fill="#232323"/><rect x="269" y="161" fill="#262626"/><rect x="-16" y="166" fill="#353535"/><rect x="-11" y="166" fill="#343434"/><rect x="-5" y="166" fill="#343434"/><rect x="0" y="166" fill="#343434"/><rect x="5" y="166" fill="#383838"/><rect x="11" y="166" fill="#3b3b3b"/><rect x="16" y="166" fill="#3a3a3a"/><rect x="22" y="166" fill="#313131"/><rect x="27" y="166" fill="#262626"/><rect x="32" y="166" fill="#202020"/><rect x="38" y="166" fill="#242424"/><rect x="43" y="166" fill="#313131"/><rect x="48" y="166" fill="#3d3d3d"/><rect x="54" y="166" fill="#3e3e3e"/><rect x="59" y="166" fill="#353535"/><rect x="64" y="166" fill="#2a2a2a"/><rect x="70" y="166" fill="#262626"/><rect x="75" y="166" fill="#2d2d2d"/><rect x="81" y="166" fill="#3a3a3a"/><rect x="86" y="166" fill="#474747"/><rect x="91" y="166" fill="#525252"/><rect x="97" y="166" fill="#575757"/><rect x="102" y="166" fill="#565656"/><rect x="108" y="166" fill="#4c4c4c"/><rect x="113" y="166" fill="#3e3e3e"/><rect x="118" y="166" fill="#303030"/><rect x="124" y="166" fill="#252525"/><rect x="129" y="166" fill="#1d1d1d"/><rect x="134" y="166" fill="#191919"/><rect x="140" y="166" fill="#1a1a1a"/><rect x="145" y="166" fill="#1c1c1c"/><rect x="150" y="166" fill="#212121"/><rect x="156" y="166" fill="#252525"/><rect x="161" y="166" fill="#292929"/><rect x="167" y="166" fill="#2c2c2c"/><rect x="172" y="166" fill="#2e2e2e"/><rect x="177" y="166" fill="#303030"/><rect x="183" y="166" fill="#323232"/><rect x="188" y="166" fill="#373737"/><rect x="194" y="166" fill="#3d3d3d"/><rect x="199" y="166" fill="#414141"/><rect x="204" y="166" fill="#424242"/><rect x="210" y="166" fill="#3f3f3f"/><rect x="215" y="166" fill="#3c3c3c"/><rect x="220" y="166" fill="#3a3a3a"/><rect x="226" y="166" fill="#3b3b3b"/><rect x="231" y="166" fill="#3d3d3d"/><rect x="236" y="166" fill="#3e3e3e"/><rect x="242" y="166" fill="#3c3c3c"/><rect x="247" y="166" fill="#393939"/><rect x="253" y="166" fill="#373737"/><rect x="258" y="166" fill="#363636"/><rect x="263" y="166" fill="#363636"/><rect x="269" y="166" fill="#373737"/><rect x="-16" y="172" fill="#343434"/><rect x="-11" y="172" fill="#333333"/><rect x="-5" y="172" fill="#313131"/><rect x="0" y="172" fill="#333333"/><rect x="5" y="172" fill="#3b3b3b"/><rect x="11" y="172" fill="#444444"/><rect x="16" y="172" fill="#464646"/><rect x="22" y="172" fill="#3c3c3c"/><rect x="27" y="172" fill="#2c2c2c"/><rect x="32" y="172" fill="#222222"/><rect x="38" y="172" fill="#282828"/><rect x="43" y="172" fill="#393939"/><rect x="48" y="172" fill="#474747"/><rect x="54" y="172" fill="#434343"/><rect x="59" y="172" fill="#2e2e2e"/><rect x="64" y="172" fill="#191919"/><rect x="70" y="172" fill="#141414"/><rect x="75" y="172" fill="#242424"/><rect x="81" y="172" fill="#3e3e3e"/><rect x="86" y="172" fill="#555555"/><rect x="91" y="172" fill="#616161"/><rect x="97" y="172" fill="#626262"/><rect x="102" y="172" fill="#595959"/><rect x="108" y="172" fill="#474747"/><rect x="113" y="172" fill="#323232"/><rect x="118" y="172" fill="#212121"/><rect x="124" y="172" fill="#181818"/><rect x="129" y="172" fill="#161616"/><rect x="134" y="172" fill="#191919"/><rect x="140" y="172" fill="#1f1f1f"/><rect x="145" y="172" fill="#262626"/><rect x="150" y="172" fill="#282828"/><rect x="156" y="172" fill="#252525"/><rect x="161" y="172" fill="#202020"/><rect x="167" y="172" fill="#1c1c1c"/><rect x="172" y="172" fill="#212121"/><rect x="177" y="172" fill="#2b2b2b"/><rect x="183" y="172" fill="#363636"/><rect x="188" y="172" fill="#3b3b3b"/><rect x="194" y="172" fill="#3c3c3c"/><rect x="199" y="172" fill="#3c3c3c"/><rect x="204" y="172" fill="#3e3e3e"/><rect x="210" y="172" fill="#434343"/><rect x="215" y="172" fill="#454545"/><rect x="220" y="172" fill="#414141"/><rect x="226" y="172" fill="#363636"/><rect x="231" y="172" fill="#2c2c2c"/><rect x="236" y="172" fill="#292929"/><rect x="242" y="172" fill="#303030"/><rect x="247" y="172" fill="#3b3b3b"/><rect x="253" y="172" fill="#434343"/><rect x="258" y="172" fill="#464646"/><rect x="263" y="172" fill="#444444"/><rect x="269" y="172" fill="#434343"/><rect x="-16" y="177" fill="#2e2e2e"/><rect x="-11" y="177" fill="#2c2c2c"/><rect x="-5" y="177" fill="#2a2a2a"/><rect x="0" y="177" fill="#2d2d2d"/><rect x="5" y="177" fill="#393939"/><rect x="11" y="177" fill="#474747"/><rect x="16" y="177" fill="#4e4e4e"/><rect x="22" y="177" fill="#464646"/><rect x="27" y="177" fill="#363636"/><rect x="32" y="177" fill="#2a2a2a"/><rect x="38" y="177" fill="#2e2e2e"/><rect x="43" y="177" fill="#3d3d3d"/><rect x="48" y="177" fill="#494949"/><rect x="54" y="177" fill="#444444"/><rect x="59" y="177" fill="#2f2f2f"/><rect x="64" y="177" fill="#191919"/><rect x="70" y="177" fill="#131313"/><rect x="75" y="177" fill="#212121"/><rect x="81" y="177" fill="#383838"/><rect x="86" y="177" fill="#4e4e4e"/><rect x="91" y="177" fill="#5a5a5a"/><rect x="97" y="177" fill="#5d5d5d"/><rect x="102" y="177" fill="#565656"/><rect x="108" y="177" fill="#494949"/><rect x="113" y="177" fill="#383838"/><rect x="118" y="177" fill="#2a2a2a"/><rect x="124" y="177" fill="#222222"/><rect x="129" y="177" fill="#212121"/><rect x="134" y="177" fill="#252525"/><rect x="140" y="177" fill="#2d2d2d"/><rect x="145" y="177" fill="#353535"/><rect x="150" y="177" fill="#393939"/><rect x="156" y="177" fill="#353535"/><rect x="161" y="177" fill="#2d2d2d"/><rect x="167" y="177" fill="#262626"/><rect x="172" y="177" fill="#262626"/><rect x="177" y="177" fill="#2a2a2a"/><rect x="183" y="177" fill="#303030"/><rect x="188" y="177" fill="#333333"/><rect x="194" y="177" fill="#333333"/><rect x="199" y="177" fill="#343434"/><rect x="204" y="177" fill="#383838"/><rect x="210" y="177" fill="#404040"/><rect x="215" y="177" fill="#464646"/><rect x="220" y="177" fill="#444444"/><rect x="226" y="177" fill="#3a3a3a"/><rect x="231" y="177" fill="#303030"/><rect x="236" y="177" fill="#2c2c2c"/><rect x="242" y="177" fill="#333333"/><rect x="247" y="177" fill="#3e3e3e"/><rect x="253" y="177" fill="#474747"/><rect x="258" y="177" fill="#4a4a4a"/><rect x="263" y="177" fill="#484848"/><rect x="269" y="177" fill="#474747"/><rect x="-16" y="182" fill="#262626"/><rect x="-11" y="182" fill="#242424"/><rect x="-5" y="182" fill="#212121"/><rect x="0" y="182" fill="#252525"/><rect x="5" y="182" fill="#333333"/><rect x="11" y="182" fill="#464646"/><rect x="16" y="182" fill="#525252"/><rect x="22" y="182" fill="#4f4f4f"/><rect x="27" y="182" fill="#414141"/><rect x="32" y="182" fill="#353535"/><rect x="38" y="182" fill="#353535"/><rect x="43" y="182" fill="#3e3e3e"/><rect x="48" y="182" fill="#474747"/><rect x="54" y="182" fill="#434343"/><rect x="59" y="182" fill="#343434"/><rect x="64" y="182" fill="#232323"/><rect x="70" y="182" fill="#1c1c1c"/><rect x="75" y="182" fill="#212121"/><rect x="81" y="182" fill="#2e2e2e"/><rect x="86" y="182" fill="#3c3c3c"/><rect x="91" y="182" fill="#484848"/><rect x="97" y="182" fill="#4f4f4f"/><rect x="102" y="182" fill="#515151"/><rect x="108" y="182" fill="#4e4e4e"/><rect x="113" y="182" fill="#464646"/><rect x="118" y="182" fill="#3e3e3e"/><rect x="124" y="182" fill="#383838"/><rect x="129" y="182" fill="#353535"/><rect x="134" y="182" fill="#363636"/><rect x="140" y="182" fill="#3c3c3c"/><rect x="145" y="182" fill="#454545"/><rect x="150" y="182" fill="#4a4a4a"/><rect x="156" y="182" fill="#4a4a4a"/><rect x="161" y="182" fill="#454545"/><rect x="167" y="182" fill="#3c3c3c"/><rect x="172" y="182" fill="#333333"/><rect x="177" y="182" fill="#2c2c2c"/><rect x="183" y="182" fill="#272727"/><rect x="188" y="182" fill="#252525"/><rect x="194" y="182" fill="#262626"/><rect x="199" y="182" fill="#2b2b2b"/><rect x="204" y="182" fill="#323232"/><rect x="210" y="182" fill="#3b3b3b"/><rect x="215" y="182" fill="#424242"/><rect x="220" y="182" fill="#444444"/><rect x="226" y="182" fill="#414141"/><rect x="231" y="182" fill="#3d3d3d"/><rect x="236" y="182" fill="#3c3c3c"/><rect x="242" y="182" fill="#3e3e3e"/><rect x="247" y="182" fill="#424242"/><rect x="253" y="182" fill="#464646"/><rect x="258" y="182" fill="#474747"/><rect x="263" y="182" fill="#464646"/><rect x="269" y="182" fill="#464646"/><rect x="-16" y="188" fill="#202020"/><rect x="-11" y="188" fill="#1e1e1e"/><rect x="-5" y="188" fill="#1b1b1b"/><rect x="0" y="188" fill="#1f1f1f"/><rect x="5" y="188" fill="#2f2f2f"/><rect x="11" y="188" fill="#444444"/><rect x="16" y="188" fill="#535353"/><rect x="22" y="188" fill="#535353"/><rect x="27" y="188" fill="#494949"/><rect x="32" y="188" fill="#3d3d3d"/><rect x="38" y="188" fill="#393939"/><rect x="43" y="188" fill="#3e3e3e"/><rect x="48" y="188" fill="#444444"/><rect x="54" y="188" fill="#424242"/><rect x="59" y="188" fill="#383838"/><rect x="64" y="188" fill="#2d2d2d"/><rect x="70" y="188" fill="#242424"/><rect x="75" y="188" fill="#222222"/><rect x="81" y="188" fill="#262626"/><rect x="86" y="188" fill="#2e2e2e"/><rect x="91" y="188" fill="#393939"/><rect x="97" y="188" fill="#444444"/><rect x="102" y="188" fill="#4d4d4d"/><rect x="108" y="188" fill="#525252"/><rect x="113" y="188" fill="#535353"/><rect x="118" y="188" fill="#4f4f4f"/><rect x="124" y="188" fill="#494949"/><rect x="129" y="188" fill="#444444"/><rect x="134" y="188" fill="#424242"/><rect x="140" y="188" fill="#474747"/><rect x="145" y="188" fill="#4f4f4f"/><rect x="150" y="188" fill="#575757"/><rect x="156" y="188" fill="#5a5a5a"/><rect x="161" y="188" fill="#575757"/><rect x="167" y="188" fill="#4e4e4e"/><rect x="172" y="188" fill="#3f3f3f"/><rect x="177" y="188" fill="#2e2e2e"/><rect x="183" y="188" fill="#1f1f1f"/><rect x="188" y="188" fill="#1a1a1a"/><rect x="194" y="188" fill="#1d1d1d"/><rect x="199" y="188" fill="#252525"/><rect x="204" y="188" fill="#2e2e2e"/><rect x="210" y="188" fill="#373737"/><rect x="215" y="188" fill="#3e3e3e"/><rect x="220" y="188" fill="#434343"/><rect x="226" y="188" fill="#474747"/><rect x="231" y="188" fill="#4a4a4a"/><rect x="236" y="188" fill="#4a4a4a"/><rect x="242" y="188" fill="#484848"/><rect x="247" y="188" fill="#454545"/><rect x="253" y="188" fill="#434343"/><rect x="258" y="188" fill="#434343"/><rect x="263" y="188" fill="#434343"/><rect x="269" y="188" fill="#434343"/><rect x="-16" y="193" fill="#1f1f1f"/><rect x="-11" y="193" fill="#1c1c1c"/><rect x="-5" y="193" fill="#1a1a1a"/><rect x="0" y="193" fill="#1e1e1e"/><rect x="5" y="193" fill="#2e2e2e"/><rect x="11" y="193" fill="#444444"/><rect x="16" y="193" fill="#545454"/><rect x="22" y="193" fill="#555555"/><rect x="27" y="193" fill="#4a4a4a"/><rect x="32" y="193" fill="#3f3f3f"/><rect x="38" y="193" fill="#3b3b3b"/><rect x="43" y="193" fill="#3e3e3e"/><rect x="48" y="193" fill="#434343"/><rect x="54" y="193" fill="#424242"/><rect x="59" y="193" fill="#3a3a3a"/><rect x="64" y="193" fill="#2f2f2f"/><rect x="70" y="193" fill="#272727"/><rect x="75" y="193" fill="#222222"/><rect x="81" y="193" fill="#232323"/><rect x="86" y="193" fill="#2a2a2a"/><rect x="91" y="193" fill="#353535"/><rect x="97" y="193" fill="#414141"/><rect x="102" y="193" fill="#4c4c4c"/><rect x="108" y="193" fill="#535353"/><rect x="113" y="193" fill="#555555"/><rect x="118" y="193" fill="#535353"/><rect x="124" y="193" fill="#4e4e4e"/><rect x="129" y="193" fill="#474747"/><rect x="134" y="193" fill="#454545"/><rect x="140" y="193" fill="#494949"/><rect x="145" y="193" fill="#525252"/><rect x="150" y="193" fill="#5a5a5a"/><rect x="156" y="193" fill="#5e5e5e"/><rect x="161" y="193" fill="#5c5c5c"/><rect x="167" y="193" fill="#535353"/><rect x="172" y="193" fill="#424242"/><rect x="177" y="193" fill="#2e2e2e"/><rect x="183" y="193" fill="#1e1e1e"/><rect x="188" y="193" fill="#171717"/><rect x="194" y="193" fill="#1b1b1b"/><rect x="199" y="193" fill="#242424"/><rect x="204" y="193" fill="#2d2d2d"/><rect x="210" y="193" fill="#353535"/><rect x="215" y="193" fill="#3d3d3d"/><rect x="220" y="193" fill="#434343"/><rect x="226" y="193" fill="#494949"/><rect x="231" y="193" fill="#4d4d4d"/><rect x="236" y="193" fill="#4d4d4d"/><rect x="242" y="193" fill="#4a4a4a"/><rect x="247" y="193" fill="#464646"/><rect x="253" y="193" fill="#434343"/><rect x="258" y="193" fill="#424242"/><rect x="263" y="193" fill="#424242"/><rect x="269" y="193" fill="#434343"/><rect x="-16" y="198" fill="#202020"/><rect x="-11" y="198" fill="#1e1e1e"/><rect x="-5" y="198" fill="#1b1b1b"/><rect x="0" y="198" fill="#1f1f1f"/><rect x="5" y="198" fill="#2f2f2f"/><rect x="11" y="198" fill="#444444"/><rect x="16" y="198" fill="#535353"/><rect x="22" y="198" fill="#545454"/><rect x="27" y="198" fill="#494949"/><rect x="32" y="198" fill="#3d3d3d"/><rect x="38" y="198" fill="#3a3a3a"/><rect x="43" y="198" fill="#3e3e3e"/><rect x="48" y="198" fill="#434343"/><rect x="54" y="198" fill="#424242"/><rect x="59" y="198" fill="#393939"/><rect x="64" y="198" fill="#2d2d2d"/><rect x="70" y="198" fill="#252525"/><rect x="75" y="198" fill="#222222"/><rect x="81" y="198" fill="#252525"/><rect x="86" y="198" fill="#2d2d2d"/><rect x="91" y="198" fill="#383838"/><rect x="97" y="198" fill="#444444"/><rect x="102" y="198" fill="#4d4d4d"/><rect x="108" y="198" fill="#525252"/><rect x="113" y="198" fill="#535353"/><rect x="118" y="198" fill="#505050"/><rect x="124" y="198" fill="#4a4a4a"/><rect x="129" y="198" fill="#454545"/><rect x="134" y="198" fill="#434343"/><rect x="140" y="198" fill="#474747"/><rect x="145" y="198" fill="#505050"/><rect x="150" y="198" fill="#585858"/><rect x="156" y="198" fill="#5b5b5b"/><rect x="161" y="198" fill="#585858"/><rect x="167" y="198" fill="#4f4f4f"/><rect x="172" y="198" fill="#404040"/><rect x="177" y="198" fill="#2e2e2e"/><rect x="183" y="198" fill="#1f1f1f"/><rect x="188" y="198" fill="#191919"/><rect x="194" y="198" fill="#1c1c1c"/><rect x="199" y="198" fill="#252525"/><rect x="204" y="198" fill="#2e2e2e"/><rect x="210" y="198" fill="#363636"/><rect x="215" y="198" fill="#3d3d3d"/><rect x="220" y="198" fill="#434343"/><rect x="226" y="198" fill="#484848"/><rect x="231" y="198" fill="#4a4a4a"/><rect x="236" y="198" fill="#4b4b4b"/><rect x="242" y="198" fill="#484848"/><rect x="247" y="198" fill="#454545"/><rect x="253" y="198" fill="#434343"/><rect x="258" y="198" fill="#434343"/><rect x="263" y="198" fill="#434343"/><rect x="269" y="198" fill="#434343"/><rect x="-16" y="204" fill="#212121"/><rect x="-11" y="204" fill="#1f1f1f"/><rect x="-5" y="204" fill="#1c1c1c"/><rect x="0" y="204" fill="#202020"/><rect x="5" y="204" fill="#2f2f2f"/><rect x="11" y="204" fill="#444444"/><rect x="16" y="204" fill="#535353"/><rect x="22" y="204" fill="#535353"/><rect x="27" y="204" fill="#484848"/><rect x="32" y="204" fill="#3c3c3c"/><rect x="38" y="204" fill="#393939"/><rect x="43" y="204" fill="#3e3e3e"/><rect x="48" y="204" fill="#444444"/><rect x="54" y="204" fill="#424242"/><rect x="59" y="204" fill="#383838"/><rect x="64" y="204" fill="#2c2c2c"/><rect x="70" y="204" fill="#232323"/><rect x="75" y="204" fill="#222222"/><rect x="81" y="204" fill="#262626"/><rect x="86" y="204" fill="#2f2f2f"/><rect x="91" y="204" fill="#3a3a3a"/><rect x="97" y="204" fill="#454545"/><rect x="102" y="204" fill="#4e4e4e"/><rect x="108" y="204" fill="#525252"/><rect x="113" y="204" fill="#515151"/><rect x="118" y="204" fill="#4d4d4d"/><rect x="124" y="204" fill="#474747"/><rect x="129" y="204" fill="#424242"/><rect x="134" y="204" fill="#414141"/><rect x="140" y="204" fill="#464646"/><rect x="145" y="204" fill="#4e4e4e"/><rect x="150" y="204" fill="#565656"/><rect x="156" y="204" fill="#585858"/><rect x="161" y="204" fill="#555555"/><rect x="167" y="204" fill="#4c4c4c"/><rect x="172" y="204" fill="#3e3e3e"/><rect x="177" y="204" fill="#2d2d2d"/><rect x="183" y="204" fill="#202020"/><rect x="188" y="204" fill="#1b1b1b"/><rect x="194" y="204" fill="#1e1e1e"/><rect x="199" y="204" fill="#262626"/><rect x="204" y="204" fill="#2f2f2f"/><rect x="210" y="204" fill="#373737"/><rect x="215" y="204" fill="#3e3e3e"/><rect x="220" y="204" fill="#434343"/><rect x="226" y="204" fill="#474747"/><rect x="231" y="204" fill="#484848"/><rect x="236" y="204" fill="#484848"/><rect x="242" y="204" fill="#474747"/><rect x="247" y="204" fill="#454545"/><rect x="253" y="204" fill="#444444"/><rect x="258" y="204" fill="#434343"/><rect x="263" y="204" fill="#434343"/><rect x="269" y="204" fill="#444444"/></g>
<filter id="tex" x="0" y="0" width="100%" height="100%">
 <feTurbulence type="fractalNoise" baseFrequency="0.03 0.04" numOctaves="4" seed="5" result="n"/>
 <feColorMatrix in="n" type="matrix" values="0 0 0 0 1  0 0 0 0 1  0 0 0 0 1  1 0 0 0 0" result="a"/>
 <feComponentTransfer in="a" result="r"><feFuncA type="table" tableValues="0 0 0 0.05 0.3 0.9 0.3 0.05 0 0 0"/></feComponentTransfer>
 <feGaussianBlur in="r" stdDeviation="0.6"/>
</filter>
<filter id="texb" x="0" y="0" width="100%" height="100%">
 <feTurbulence type="fractalNoise" baseFrequency="0.05 0.035" numOctaves="3" seed="23" result="n"/>
 <feColorMatrix in="n" type="matrix" values="0 0 0 0 1  0 0 0 0 1  0 0 0 0 1  1 0 0 0 0" result="a"/>
 <feComponentTransfer in="a" result="r"><feFuncA type="table" tableValues="0 0 0 0 0.1 0.8 0.1 0 0 0 0"/></feComponentTransfer>
 <feGaussianBlur in="r" stdDeviation="0.5"/>
</filter>
<filter id="lit" x="0" y="0" width="100%" height="100%">
 <feTurbulence type="fractalNoise" baseFrequency="0.035" numOctaves="4" seed="3" result="n"/>
 <feColorMatrix in="n" type="matrix" values="0 0 0 0 0  0 0 0 0 0  0 0 0 0 0  1 0 0 0 0" result="h"/>
 <feDiffuseLighting in="h" surfaceScale="6" diffuseConstant="1" lighting-color="#fff" result="L"><feDistantLight azimuth="235" elevation="40"/></feDiffuseLighting>
</filter>
<filter id="tex2" x="0" y="0" width="100%" height="100%">
 <feTurbulence type="fractalNoise" baseFrequency="0.06" numOctaves="3" seed="9" result="n"/>
 <feColorMatrix in="n" type="matrix" values="1 0 0 0 0  1 0 0 0 0  1 0 0 0 0  0 0 0 0 1"/>
</filter>
<rect width="258" height="193" fill="#fff" filter="url(#lit)" opacity="0.75" style="mix-blend-mode:overlay"/>
<rect width="258" height="193" fill="#fff" filter="url(#tex)" opacity="0.3"/>
<rect width="258" height="193" fill="#fff" filter="url(#texb)" opacity="0.15"/>
<g transform="translate(-288,-19)">
<g filter="url(#b3)"><ellipse cx="457" cy="44" rx="8" ry="11" fill="rgb(80,80,80)"/><ellipse cx="409" cy="40" rx="12" ry="14" fill="rgb(100,100,100)"/><ellipse cx="323" cy="138" rx="9" ry="14" fill="rgb(90,90,90)"/><ellipse cx="423" cy="149" rx="14" ry="19" fill="rgb(95,95,95)"/><ellipse cx="495" cy="131" rx="12" ry="22" fill="rgb(90,90,90)"/><ellipse cx="419" cy="169" rx="14" ry="19" fill="rgb(95,95,95)"/><ellipse cx="501" cy="170" rx="8" ry="11" fill="rgb(95,95,95)"/><ellipse cx="296" cy="164.5" rx="6" ry="6" fill="rgb(70,70,70)"/><ellipse cx="363" cy="80" rx="8" ry="15" fill="rgb(90,90,90)"/><ellipse cx="294" cy="76" rx="6" ry="22" fill="rgb(95,95,95)"/><ellipse cx="331.5" cy="40.5" rx="6" ry="7" fill="rgb(190,190,190)"/><ellipse cx="356.5" cy="30.5" rx="7.5" ry="5.5" fill="rgb(200,200,200)"/><ellipse cx="316.5" cy="99" rx="6.5" ry="10" fill="rgb(175,175,175)"/><ellipse cx="381.5" cy="143" rx="6.5" ry="10" fill="rgb(180,180,180)"/><ellipse cx="384.5" cy="137" rx="4.5" ry="7" fill="rgb(180,180,180)"/><ellipse cx="295" cy="204.5" rx="7" ry="7.5" fill="rgb(170,170,170)"/><ellipse cx="381" cy="195.5" rx="7" ry="16.5" fill="rgb(150,150,150)"/><ellipse cx="519" cy="143" rx="5" ry="6" fill="rgb(170,170,170)"/><ellipse cx="541" cy="36.5" rx="5" ry="17.5" fill="rgb(190,190,190)"/><ellipse cx="540" cy="79.5" rx="6" ry="9.5" fill="rgb(210,210,210)"/><ellipse cx="397" cy="166" rx="8" ry="15.5" fill="rgb(160,160,160)"/><ellipse cx="295" cy="45" rx="7" ry="9" fill="rgb(160,160,160)"/></g>
<g filter="url(#b1)">
<path d="M378,17 L396,17 L394.4,27.5 L380,27.5Z" fill="url(#gv)"/>
<circle cx="387.2" cy="27.5" r="6.8" fill="url(#ge)" stroke="rgb(230,230,230)" stroke-width="1.8"/>
<path d="M372.8,56.4 L385.5,48.8 L397,61.5 L393,76.8 L381.7,80.6 L366.5,74.3Z" fill="url(#gb)" stroke="rgb(215,215,215)" stroke-width="2" stroke-linejoin="round"/>
<path d="M456,58.2 C466,60 472,61.8 478.5,61.8 C485,61.5 490,60.5 496.6,59 C503,57.5 508,55.5 513,54.5 L518.5,55.5 L517.5,60 C515,64 513,66 511,67.3 C505,72 501,74 496.6,75.5 C490,77.5 484,79 478.5,79 C472,79 466,77.5 460,75.5Z" fill="url(#gh)" stroke="rgb(200,200,200)" stroke-width="1.2"/>
<path d="M456,58.2 C466,60 472,61.8 478.5,61.8 C485,61.5 490,60.5 496.6,59 C503,57.5 508,55.5 513,54.5 L518.5,55.5" fill="none" stroke="rgb(225,225,225)" stroke-width="1.6"/>
<ellipse cx="447.5" cy="66" rx="9.6" ry="10" fill="url(#ge)" stroke="rgb(225,225,225)" stroke-width="2.2"/>
<path d="M335,79 L345,79 L357,167 L339,167Z" fill="url(#gv)" stroke="rgb(200,200,200)" stroke-width="1.2"/>
<path d="M335,79 L339,167" stroke="rgb(220,220,220)" stroke-width="1.8"/>
<path d="M357,93 L373,93 L373,113 L357,113Z" fill="url(#gv)"/>
<ellipse cx="365" cy="114" rx="8" ry="7" fill="url(#ge)" stroke="rgb(228,228,228)" stroke-width="2"/>
<path d="M331,156 L338,159 L327,186 L319,183Z" fill="url(#gv)" stroke="rgb(210,210,210)" stroke-width="1.2"/>
<path d="M456,129 L465,132 L441,191 L432,188Z" fill="url(#gv)" stroke="rgb(215,215,215)" stroke-width="1.4"/>
<path d="M394,80 L413,80 C416,95 420,110 419,120 C418,128 408,131 403,126 C399,120 397,108 394,80Z" fill="url(#gv)" stroke="rgb(205,205,205)" stroke-width="1.5"/>
<path d="M512.5,40 C520,33 532,34 536,42 C534,52 530,60 520,62 C514,58 512,48 512.5,40Z" fill="rgb(125,125,125)" fill-opacity="0.5" stroke="rgb(200,200,200)" stroke-width="1.5"/>
<path d="M538,19 L546,19 L546,56 C543,52 540,45 539,38 C538,30 538,24 538,19Z" fill="rgb(185,185,185)"/>
<ellipse cx="541" cy="80" rx="7" ry="9.5" fill="rgb(195,195,195)" stroke="rgb(225,225,225)" stroke-width="1.5"/>
<path d="M326,33 C329,30 334,31 336,35 C338,40 335,44 336,48 C334,52 329,51 327,47 C324,43 323,37 326,33Z" fill="rgb(195,195,195)" stroke="rgb(225,225,225)" stroke-width="1"/>
<path d="M350,26 C353,22 359,22 361,26 C363,30 360,35 356,36 C352,36 348,31 350,26Z" fill="rgb(205,205,205)"/>
<path d="M311,89 C314,86 320,87 322,91 C324,95 321,99 317,99 C313,99 310,94 311,89Z" fill="rgb(185,185,185)" stroke="rgb(215,215,215)" stroke-width="1"/>
<g fill="none" stroke="rgb(200,200,200)" stroke-width="1.3" stroke-linecap="round" opacity="0.85">
<path d="M290,40 C296,42 302,47 306,52 C310,57 314,61 319,63"/>
<path d="M291,60 C295,66 299,72 302,77 C305,82 308,85 312,86"/>
<path d="M296,33 C301,30 307,29 312,31"/>
<path d="M303,55 C307,62 311,70 315,75"/>
<path d="M318,66 C322,72 326,78 330,84"/>
</g>
<circle cx="296" cy="164.5" r="5.8" fill="rgb(70,70,70)" stroke="rgb(165,165,165)" stroke-width="1.3"/>
<ellipse cx="294" cy="206" rx="7" ry="6.5" fill="rgb(185,185,185)"/>
<path d="M512,170 C515,165 524,163 530,167 C535,171 534,180 528,184 C521,187 512,185 510,180 C509,176 510,173 512,170Z" fill="rgb(130,130,130)" stroke="rgb(210,210,210)" stroke-width="2.6"/>
<circle cx="334" cy="121" r="7.3" fill="url(#ge)" stroke="rgb(192,192,192)" stroke-width="1.4" opacity="0.85"/><circle cx="363" cy="132" r="6.3" fill="url(#ge)" stroke="rgb(192,192,192)" stroke-width="1.4" opacity="0.85"/><circle cx="352" cy="175.5" r="7.2" fill="url(#ge)" stroke="rgb(192,192,192)" stroke-width="1.4" opacity="0.85"/><circle cx="311.5" cy="158.5" r="6.3" fill="url(#ge)" stroke="rgb(192,192,192)" stroke-width="1.4" opacity="0.85"/><circle cx="376" cy="161" r="6.0" fill="url(#ge)" stroke="rgb(192,192,192)" stroke-width="1.4" opacity="0.85"/><circle cx="381" cy="173.5" r="5.5" fill="url(#ge)" stroke="rgb(192,192,192)" stroke-width="1.4" opacity="0.85"/><circle cx="355.5" cy="205" r="6.3" fill="url(#ge)" stroke="rgb(192,192,192)" stroke-width="1.4" opacity="0.85"/><circle cx="454.5" cy="110.5" r="5.8" fill="url(#ge)" stroke="rgb(192,192,192)" stroke-width="1.4" opacity="0.85"/><circle cx="349.5" cy="56.5" r="8.3" fill="url(#ge)" stroke="rgb(192,192,192)" stroke-width="1.4" opacity="0.85"/><circle cx="458.8" cy="169.3" r="10.5" fill="url(#ge)" stroke="rgb(230,230,230)" stroke-width="3.2"/></g>
</g>
<g font-family="Liberation Mono, monospace" font-size="10" fill="#f0f0f0">
<text x="22" y="180">15kV</text><text x="79" y="180">X500</text><text x="116" y="180">50</text><text x="129" y="180" font-size="7">μm</text>
<text x="182" y="180">12 50</text><text x="219" y="180">SEI</text>
</g>
<rect x="91" y="171" width="51" height="1.2" fill="#f0f0f0"/>
</svg></div>
</body></html>
